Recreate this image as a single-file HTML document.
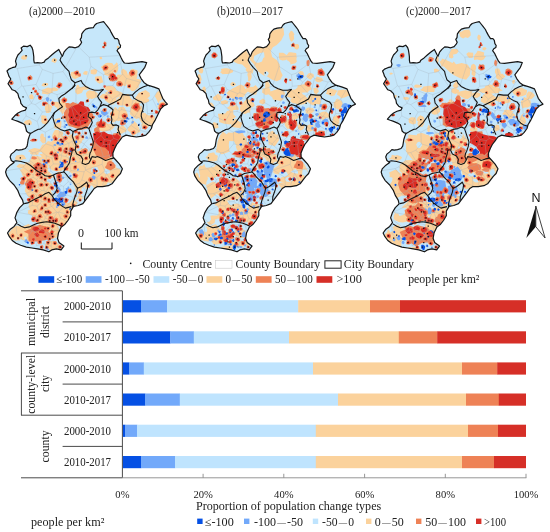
<!DOCTYPE html><html><head><meta charset="utf-8"><title>Population change</title>
<style>html,body{margin:0;padding:0;background:#fff}svg{display:block}text{font-family:"Liberation Serif","DejaVu Serif",serif;fill:#222}</style></head><body>
<svg width="550" height="532" viewBox="0 0 550 532">
<rect width="550" height="532" fill="#fff"/>
<defs><clipPath id="clip"><polygon points="103.6,21.6 105.1,23.5 107.4,26.3 109.8,29.5 111.2,32.4 112.8,35.4 114.9,38.6 117.3,38.5 118.7,40.4 119.3,43.6 120.6,45.5 120.2,47.6 118.2,48.8 117.0,50.7 119.2,53.7 121.0,57.5 122.9,61.2 124.4,63.0 128.9,63.4 136.4,62.3 142.0,61.6 146.7,62.6 144.8,67.3 142.0,71.1 139.2,74.8 141.1,78.6 143.9,82.4 147.7,85.2 154.2,87.1 158.9,88.9 160.8,93.6 162.7,98.3 165.5,102.1 167.4,104.1 163.6,106.0 160.8,108.8 158.9,112.6 157.1,116.3 155.2,120.1 152.4,124.8 151.4,128.5 148.6,132.3 145.8,135.1 142.0,136.1 136.4,137.0 130.8,136.1 126.1,135.1 122.3,137.0 119.5,140.8 116.7,144.5 114.8,148.3 112.9,153.0 113.0,157.0 115.8,160.0 119.5,164.1 122.4,168.8 120.5,173.5 117.7,176.3 114.8,180.1 112.0,183.8 108.3,185.7 102.6,186.7 97.0,186.7 94.2,188.5 91.4,192.3 88.5,196.1 85.7,199.8 82.9,203.6 78.2,205.5 73.5,206.4 70.7,211.1 70.7,215.8 67.9,220.5 65.0,224.2 61.3,227.1 58.5,232.7 57.5,238.3 59.0,242.4 63.9,246.1 61.1,249.9 56.4,248.9 51.7,249.9 48.9,251.8 43.2,249.9 37.6,248.9 32.0,248.0 26.3,247.1 20.7,245.2 16.0,243.3 12.2,240.5 9.4,236.7 7.5,233.0 10.3,229.2 14.1,226.4 16.9,222.6 15.0,217.9 16.9,212.3 19.7,207.6 23.5,203.8 22.6,200.1 19.7,195.4 17.9,190.7 14.1,185.0 9.4,180.3 6.6,175.6 5.6,172.0 6.6,168.9 10.3,165.2 14.1,162.4 11.3,160.5 10.1,156.9 11.3,154.1 14.1,151.9 16.3,149.6 18.6,150.2 22.0,149.6 25.4,148.5 27.1,146.2 27.6,143.4 28.2,139.5 29.3,136.1 30.4,133.3 28.2,132.7 26.5,131.0 25.9,128.2 24.8,124.8 22.0,123.1 18.0,121.4 14.7,120.3 11.8,119.2 14.7,115.8 18.0,113.0 21.4,111.3 25.4,110.1 26.5,107.9 23.1,106.2 20.9,103.4 20.3,100.0 18.8,97.4 17.9,93.6 15.0,90.8 12.2,89.8 10.3,87.0 8.0,83.7 9.4,81.4 10.8,79.0 8.9,76.2 8.0,73.4 7.0,71.0 8.9,69.1 12.2,67.7 15.5,66.8 16.4,64.4 15.5,61.1 16.4,58.3 17.9,55.0 20.2,52.7 22.1,50.3 21.1,48.0 23.5,46.1 27.3,46.6 30.1,45.2 32.0,47.5 32.9,50.3 33.4,53.6 33.8,56.9 33.8,60.2 34.3,63.0 37.6,62.6 41.4,63.0 44.2,62.1 45.2,60.2 48.5,57.9 51.7,55.0 55.0,52.2 58.8,49.4 60.2,52.2 61.6,55.0 62.4,56.3 64.0,52.2 66.3,49.4 69.1,46.9 72.0,47.2 75.2,47.8 78.5,46.6 80.6,44.1 81.6,42.3 80.2,39.4 81.4,37.6 81.8,33.8 83.5,31.4 85.8,29.1 89.1,28.2 93.3,27.7 94.7,25.3 96.6,23.5 99.9,22.5"/></clipPath>
<g id="ov"><g clip-path="url(#clip)">
<path fill="none" stroke="#a3afba" stroke-width="0.5" opacity="0.6" d="M100.0 -261.0L252.7 -77.1 M252.7 -77.1L290.9 -39.6 M34.1 -179.1L-144.9 -20.9 M100.0 -261.0L34.1 -179.1 M252.7 -77.1L122.3 55.4 M34.1 -179.1L53.9 -33.9 M53.9 -33.9L77.6 45.9 M122.3 55.4L89.2 57.2 M77.6 45.9L89.2 57.2 M16.8 233.9L24.7 241.9 M174.9 139.7L144.6 119.5 M174.9 139.7L139.8 130.2 M139.8 130.2L144.3 119.5 M144.6 119.5L144.3 119.5 M140.2 164.1L134.0 157.7 M139.8 130.2L138.6 130.6 M197.3 151.1L174.9 139.7 M134.0 157.7L132.7 154.1 M138.6 130.6L132.7 154.1 M159.8 113.5L147.6 113.5 M159.8 113.5L152.6 99.1 M147.6 113.5L146.6 102.5 M152.6 99.1L146.6 102.5 M197.3 151.1L159.8 113.5 M144.6 119.5L147.6 113.5 M170.7 68.6L152.6 99.1 M290.9 -39.6L170.7 68.6 M140.2 164.1L105.9 171.4 M163.5 268.0L106.5 173.1 M105.9 171.4L106.5 173.1 M-144.9 -20.9L17.3 68.5 M4.0 100.8L21.8 85.8 M21.8 85.8L17.3 68.5 M53.9 -33.9L39.3 65.0 M17.3 68.5L39.3 65.0 M53.1 73.4L63.0 71.6 M77.6 45.9L63.0 71.6 M53.1 73.4L42.4 69.4 M39.3 65.0L42.4 69.4 M74.7 88.5L63.0 71.6 M74.7 88.5L76.1 89.1 M89.2 57.2L90.9 66.3 M76.1 89.1L84.4 86.1 M90.9 66.3L84.4 86.1 M16.8 233.9L15.5 218.5 M24.7 241.9L31.9 231.0 M31.9 231.0L15.5 218.5 M-99.0 185.7L-15.2 201.2 M-15.2 201.2L11.4 213.4 M11.4 213.4L15.5 218.5 M144.0 102.6L134.8 116.5 M144.0 102.6L133.6 97.9 M133.6 97.9L130.2 111.4 M130.2 111.4L134.3 116.5 M134.3 116.5L134.8 116.5 M144.3 119.5L134.8 116.5 M146.6 102.5L144.0 102.6 M170.7 68.6L140.0 82.1 M132.2 96.1L140.0 82.1 M132.2 96.1L133.6 97.9 M83.8 154.9L81.7 148.4 M81.7 148.4L84.1 144.3 M90.5 153.9L83.8 154.9 M90.5 153.9L89.8 149.3 M89.8 149.3L84.1 144.3 M133.2 118.3L131.2 125.5 M133.2 118.3L121.7 118.9 M121.7 118.9L127.7 128.0 M131.2 125.5L127.7 128.0 M134.3 116.5L133.2 118.3 M138.6 130.6L131.2 125.5 M132.7 154.1L125.5 142.5 M125.5 142.5L125.5 130.5 M125.5 130.5L127.7 128.0 M103.1 157.0L102.1 164.3 M103.1 157.0L92.5 155.9 M102.1 164.3L85.6 170.0 M92.5 155.9L85.2 168.1 M85.2 168.1L85.6 170.0 M96.8 177.5L104.9 170.9 M102.1 164.3L104.9 170.9 M96.8 177.5L85.6 170.1 M85.6 170.1L85.6 170.0 M70.9 170.6L69.6 164.5 M66.8 176.7L70.9 170.6 M60.9 171.9L66.8 176.7 M60.9 171.9L60.8 165.4 M69.6 164.5L60.8 165.4 M60.4 155.0L54.8 150.1 M54.8 150.1L51.6 158.0 M60.4 155.0L51.9 158.3 M51.9 158.3L51.6 158.0 M21.8 85.8L23.1 86.3 M42.4 69.4L36.1 84.5 M36.1 84.5L23.1 86.3 M74.7 88.5L57.0 94.7 M53.1 73.4L51.8 92.7 M51.8 92.7L57.0 94.7 M4.0 100.8L25.4 107.6 M10.2 137.1L26.1 115.9 M25.4 107.6L26.1 115.9 M52.9 113.2L49.2 111.5 M49.2 111.5L42.5 112.0 M54.3 127.3L45.3 132.2 M54.3 127.3L52.9 113.2 M37.2 121.4L42.5 112.0 M37.2 121.4L39.4 129.3 M39.4 129.3L45.3 132.2 M26.1 115.9L37.2 121.4 M10.2 137.1L15.3 138.4 M39.4 129.3L15.3 138.4 M27.2 182.1L28.3 179.5 M7.4 194.7L27.2 182.1 M-99.0 185.7L19.4 168.7 M-15.2 201.2L7.4 194.7 M28.3 179.5L19.4 168.7 M15.3 138.4L32.5 152.8 M29.6 160.5L32.5 152.8 M29.6 160.5L28.9 161.7 M28.9 161.7L23.0 166.9 M19.4 168.7L23.0 166.9 M25.4 193.7L31.2 191.3 M25.4 193.7L32.8 199.5 M32.8 199.5L36.5 196.5 M36.5 196.5L36.5 195.1 M31.2 191.3L36.5 195.1 M41.0 200.9L45.8 191.6 M44.0 190.6L45.8 191.6 M36.5 196.5L41.0 200.9 M44.0 190.6L41.7 190.5 M41.7 190.5L36.5 195.1 M50.6 205.0L51.4 194.1 M50.6 205.0L45.9 201.7 M45.9 201.7L49.2 193.5 M51.4 194.1L49.2 193.5 M46.2 191.6L49.2 193.5 M45.8 191.6L46.2 191.6 M41.2 201.7L41.0 200.9 M41.2 201.7L45.9 201.7 M50.8 183.5L55.8 187.5 M52.0 194.0L55.8 187.5 M52.0 194.0L51.4 194.1 M46.2 191.6L50.8 183.5 M132.2 96.1L124.0 95.2 M126.4 78.4L122.5 94.1 M140.0 82.1L126.4 78.4 M122.5 94.1L124.0 95.2 M130.2 111.4L121.6 109.7 M124.0 95.2L121.6 109.7 M76.1 89.1L75.9 102.3 M84.4 86.1L95.3 91.6 M75.9 102.3L86.3 108.1 M95.3 91.6L96.3 96.7 M96.3 96.7L86.3 108.1 M89.7 138.2L95.3 140.4 M89.7 138.2L88.9 138.6 M88.9 138.6L84.1 143.8 M84.1 144.3L84.1 143.8 M89.8 149.3L96.5 144.5 M95.3 140.4L96.5 144.5 M75.1 154.0L79.9 158.9 M75.1 154.0L68.9 158.4 M68.9 158.4L69.8 164.1 M69.8 164.1L80.2 162.0 M79.9 158.9L80.2 162.0 M69.6 164.5L69.8 164.1 M84.2 171.8L85.6 170.1 M85.2 168.1L80.2 162.0 M70.9 170.6L84.2 171.8 M83.8 154.9L79.9 158.9 M90.5 153.9L92.5 155.9 M84.2 171.8L81.8 180.0 M96.8 177.5L97.3 185.8 M81.8 180.0L97.3 185.8 M106.5 173.1L100.2 192.2 M104.9 170.9L105.9 171.4 M97.3 185.8L100.2 192.2 M100.2 192.2L104.5 204.7 M163.5 268.0L144.6 255.2 M144.6 255.2L104.5 204.7 M81.8 180.0L79.2 183.3 M79.2 183.3L92.1 197.6 M104.5 204.7L92.1 197.6 M66.8 176.7L66.9 177.1 M66.9 177.1L68.3 181.8 M79.2 183.3L76.6 184.2 M68.3 181.8L76.6 184.2 M54.6 178.8L61.5 185.8 M61.5 185.8L63.6 186.2 M66.9 177.1L54.6 178.8 M68.3 181.8L63.6 186.2 M92.1 197.6L74.7 195.8 M76.6 184.2L74.7 195.8 M56.8 196.4L63.8 193.3 M52.0 194.0L56.8 196.4 M61.5 185.8L55.8 187.5 M63.6 186.2L63.8 193.3 M38.9 176.7L36.6 179.5 M38.9 176.7L38.5 171.6 M36.6 179.5L33.1 177.3 M33.1 177.3L33.1 175.0 M33.1 175.0L35.3 171.4 M35.3 171.4L37.8 170.8 M38.5 171.6L37.8 170.8 M28.3 179.5L33.1 177.3 M23.0 166.9L33.1 175.0 M28.9 161.7L35.3 171.4 M60.9 171.9L54.4 174.2 M54.6 178.8L54.3 178.6 M54.4 174.2L54.3 178.6 M50.8 183.5L50.6 181.7 M54.3 178.6L50.6 181.7 M38.5 171.6L42.8 173.4 M38.9 176.7L43.4 174.5 M42.8 173.4L43.4 174.5 M51.6 158.0L46.3 155.7 M54.8 150.1L52.9 146.1 M52.9 146.1L45.7 143.8 M45.7 143.8L40.2 150.3 M46.3 155.7L40.2 150.3 M45.7 143.8L45.3 132.2 M32.5 152.8L35.2 152.5 M35.2 152.5L40.2 150.3 M96.6 228.4L73.2 198.2 M80.7 218.0L96.6 228.4 M80.7 218.0L67.1 206.0 M67.1 206.0L73.2 198.2 M63.8 193.3L64.3 193.8 M74.7 195.8L73.2 197.5 M64.3 193.8L73.2 197.5 M111.6 241.2L96.6 228.4 M144.6 255.2L111.6 241.2 M73.2 198.2L73.2 197.5 M49.1 224.7L43.4 223.5 M49.1 224.7L51.6 223.3 M51.5 219.8L51.6 223.3 M51.5 219.8L45.0 218.1 M43.4 223.5L43.6 221.2 M45.0 218.1L43.6 221.2 M54.7 216.5L54.4 223.7 M54.4 223.7L51.6 223.3 M54.7 216.5L51.5 219.8 M35.9 216.6L43.6 221.2 M33.5 231.0L35.9 216.6 M33.5 231.0L34.8 231.4 M43.4 223.5L38.7 229.6 M34.8 231.4L38.7 229.6 M35.2 104.6L31.4 103.4 M35.2 104.6L47.7 97.4 M38.9 89.3L31.4 103.1 M38.9 89.3L49.5 93.6 M31.4 103.1L31.4 103.4 M49.5 93.6L47.7 97.4 M25.4 107.6L31.4 103.4 M42.5 112.0L35.2 104.6 M49.2 111.5L47.7 97.4 M36.1 84.5L38.9 89.3 M23.1 86.3L31.4 103.1 M51.8 92.7L49.5 93.6 M57.0 94.7L60.1 108.8 M60.1 108.8L52.9 113.2 M120.7 63.6L107.7 73.3 M120.7 63.6L122.7 74.1 M107.7 73.3L114.5 82.3 M122.7 74.1L114.5 82.3 M122.3 55.4L120.7 63.6 M90.9 66.3L103.5 74.7 M103.5 74.7L107.7 73.3 M126.4 78.4L122.7 74.1 M31.9 231.0L33.5 231.0 M11.4 213.4L17.4 212.3 M35.9 216.6L35.4 215.6 M35.4 215.6L17.4 212.3 M32.8 199.5L32.1 205.4 M7.4 194.7L25.4 193.7 M17.4 212.3L32.1 205.4 M52.1 206.7L56.7 212.1 M52.1 206.7L57.1 199.4 M57.1 199.4L63.3 204.5 M64.1 206.3L63.3 204.5 M64.1 206.3L58.7 212.1 M58.7 212.1L58.2 212.4 M58.2 212.4L57.1 212.3 M57.1 212.3L56.7 212.1 M46.9 215.8L47.1 208.3 M46.9 215.8L56.7 212.1 M51.4 206.4L47.1 208.3 M51.4 206.4L52.1 206.7 M51.4 206.4L50.6 205.0 M56.8 196.4L57.1 199.4 M64.3 193.8L63.3 204.5 M67.1 206.0L64.1 206.3 M80.7 218.0L58.7 212.1 M93.0 237.6L60.7 218.2 M93.0 237.6L111.6 241.2 M60.7 218.2L58.2 212.4 M57.2 225.3L54.4 223.7 M57.2 225.3L60.7 218.2 M54.7 216.5L57.1 212.3 M45.1 217.1L45.0 218.1 M45.1 217.1L46.9 215.8 M37.2 182.2L31.4 185.6 M37.2 182.2L38.4 187.5 M38.4 187.5L32.0 189.7 M31.4 185.6L32.0 189.7 M27.2 182.1L31.4 185.6 M37.5 181.1L36.6 179.5 M37.5 181.1L37.2 182.2 M31.2 191.3L32.0 189.7 M41.7 190.5L38.4 187.5 M120.3 93.9L112.7 99.1 M120.3 93.9L112.9 85.5 M112.7 99.1L101.8 88.6 M112.9 85.5L104.2 86.2 M101.8 88.6L104.2 86.2 M114.5 82.3L112.9 85.5 M122.5 94.1L120.3 93.9 M103.5 74.7L104.2 86.2 M95.3 91.6L101.8 88.6 M121.7 118.9L118.5 117.8 M121.6 109.7L119.4 110.9 M119.4 110.9L118.5 117.8 M65.1 125.4L66.8 125.1 M65.1 125.4L61.0 109.0 M66.8 125.1L68.1 122.0 M68.1 122.0L68.2 108.9 M61.0 109.0L68.2 108.9 M60.1 108.8L61.0 109.0 M57.9 128.4L54.3 127.3 M57.9 128.4L65.1 125.4 M74.6 118.1L71.6 107.4 M71.6 107.4L68.2 108.9 M74.6 118.1L68.1 122.0 M75.9 102.3L72.6 106.6 M72.6 106.6L71.6 107.4 M84.1 143.8L76.3 139.7 M88.9 138.6L82.5 133.5 M82.5 133.5L76.3 139.7 M52.9 146.1L57.7 144.4 M57.9 128.4L59.5 131.5 M59.5 131.5L57.7 144.4 M101.7 132.3L101.1 135.4 M101.7 132.3L110.0 129.4 M110.0 129.4L113.8 138.4 M113.8 138.4L110.8 140.6 M101.1 135.4L104.3 139.6 M110.8 140.6L104.3 139.6 M49.3 181.2L45.7 175.5 M49.3 181.2L44.0 182.7 M44.0 182.7L41.8 181.1 M41.8 181.1L44.9 175.5 M44.9 175.5L45.7 175.5 M50.6 181.7L49.3 181.2 M50.9 171.0L45.7 175.5 M54.4 174.2L50.9 171.0 M44.0 190.6L44.0 182.7 M37.5 181.1L41.8 181.1 M43.4 174.5L44.9 175.5 M46.3 155.7L46.3 163.6 M35.2 152.5L41.8 163.5 M46.3 163.6L41.8 163.5 M53.4 163.9L51.9 158.3 M53.4 163.9L50.6 166.7 M46.3 163.6L50.6 166.7 M60.8 165.4L59.5 164.0 M59.5 164.0L53.4 163.9 M50.9 171.0L50.3 168.0 M50.6 166.7L50.3 168.0 M34.8 231.4L35.0 231.8 M36.4 245.7L35.0 231.8 M36.4 245.7L43.9 243.6 M35.0 231.8L44.1 240.9 M43.9 243.6L44.1 240.9 M41.6 212.4L39.2 211.8 M41.6 212.4L45.5 208.5 M39.2 211.8L36.9 206.1 M45.5 208.5L40.4 203.4 M40.4 203.4L36.9 206.1 M45.1 217.1L41.6 212.4 M35.4 215.6L39.2 211.8 M47.1 208.3L45.5 208.5 M32.1 205.4L36.9 206.1 M41.2 201.7L40.4 203.4 M112.7 99.1L110.2 104.1 M119.4 110.9L111.7 107.3 M110.2 104.1L111.7 107.3 M96.3 96.7L100.6 103.1 M110.2 104.1L100.6 103.1 M72.6 106.6L80.3 116.3 M86.3 108.1L87.9 111.2 M87.9 111.2L80.3 116.3 M74.6 118.1L78.3 120.1 M66.8 125.1L69.7 126.5 M69.7 126.5L78.3 120.1 M80.3 116.3L79.4 120.2 M78.3 120.1L79.4 120.2 M59.5 131.5L60.1 132.1 M58.1 144.5L63.3 138.9 M57.7 144.4L58.1 144.5 M60.1 132.1L63.3 138.9 M69.7 126.5L73.5 130.0 M73.5 130.0L73.5 138.8 M60.1 132.1L73.5 138.8 M62.6 146.1L68.5 143.1 M58.1 144.5L62.6 146.1 M63.3 138.9L68.5 143.1 M68.9 150.5L63.0 150.2 M68.9 150.5L66.0 156.5 M63.0 150.2L61.3 155.3 M66.0 156.5L61.7 155.8 M61.3 155.3L61.7 155.8 M60.4 155.0L61.3 155.3 M62.6 146.1L63.0 150.2 M59.5 164.0L61.7 155.8 M68.9 158.4L66.0 156.5 M68.9 150.5L68.9 143.1 M68.9 150.5L75.1 153.2 M75.9 151.3L75.1 153.2 M75.9 151.3L72.2 141.3 M72.2 141.3L68.9 143.1 M68.5 143.1L68.9 143.1 M68.9 150.5L68.9 150.5 M75.1 154.0L75.1 153.2 M81.7 148.4L75.9 151.3 M73.7 139.4L72.2 141.3 M76.3 139.7L73.7 139.4 M73.7 139.4L73.5 138.8 M110.7 155.0L109.5 144.4 M110.7 155.0L103.4 156.7 M109.5 144.4L103.0 144.6 M103.4 156.7L100.5 147.5 M100.5 147.5L103.0 144.6 M134.0 157.7L110.7 155.0 M125.5 142.5L113.8 138.4 M110.8 140.6L109.5 144.4 M103.1 157.0L103.4 156.7 M104.3 139.6L103.0 144.6 M96.5 144.5L100.5 147.5 M95.3 140.4L101.1 135.4 M41.4 165.2L44.0 168.9 M41.4 165.2L38.8 167.3 M38.8 167.3L38.5 169.5 M38.5 169.5L43.5 169.5 M43.5 169.5L44.0 168.9 M50.3 168.0L44.0 168.9 M41.8 163.5L41.4 165.2 M29.6 160.5L38.8 167.3 M37.8 170.8L38.5 169.5 M42.8 173.4L43.5 169.5 M44.0 243.8L51.2 246.1 M51.2 246.1L53.4 251.1 M43.9 243.6L44.0 243.8 M64.9 235.8L63.6 236.7 M63.6 236.7L53.4 251.1 M93.0 237.6L64.9 235.8 M87.9 111.2L88.1 111.4 M88.1 111.4L91.7 111.6 M100.6 103.1L99.0 107.9 M91.7 111.6L99.0 107.9 M82.5 128.1L81.3 127.4 M82.5 128.1L91.4 127.4 M81.3 127.4L80.2 121.1 M80.2 121.1L88.1 118.9 M88.1 118.9L93.1 126.1 M91.4 127.4L93.1 126.1 M82.5 133.5L82.5 128.1 M73.5 130.0L81.3 127.4 M89.7 138.2L91.4 127.4 M79.4 120.2L80.2 121.1 M88.1 111.4L88.1 118.9 M91.7 111.6L98.7 120.1 M94.3 125.9L98.7 120.1 M94.3 125.9L93.1 126.1 M101.7 132.3L94.3 125.9 M49.1 224.7L51.6 229.9 M38.7 229.6L47.5 232.8 M47.5 232.8L51.6 229.9 M57.2 225.3L58.5 230.6 M51.6 229.9L58.5 230.6 M64.9 235.8L60.9 232.9 M58.5 230.6L60.9 232.9 M46.4 239.7L51.6 241.9 M46.4 239.7L48.6 235.3 M48.6 235.3L49.7 235.8 M49.7 235.8L53.0 240.3 M51.6 241.9L53.0 240.3 M44.1 240.9L46.4 239.7 M51.2 246.1L51.6 241.9 M47.5 232.8L48.6 235.3 M60.9 232.9L49.7 235.8 M63.6 236.7L53.0 240.3 M101.9 118.5L103.2 116.3 M101.9 118.5L110.6 128.2 M103.2 116.3L107.2 114.9 M107.2 114.9L115.5 121.3 M110.6 128.2L114.9 125.0 M114.9 125.0L115.5 121.3 M99.0 107.9L103.2 116.3 M98.7 120.1L101.9 118.5 M110.0 129.4L110.6 128.2 M111.7 107.3L107.2 114.9 M118.5 117.8L115.5 121.3 M125.5 130.5L114.9 125.0"/>
<g fill="none" stroke="#151515" stroke-width="1.1" stroke-linejoin="round">
<polyline points="61.5,56.4 60.0,60.1 62.3,63.9 65.3,67.6 69.0,71.4 69.8,75.2 71.3,79.7 75.0,82.7 74.3,85.7 72.0,88.7"/>
<polyline points="75.0,82.7 81.1,80.4 82.6,83.4 85.6,86.4 90.1,88.7 94.6,90.2 99.8,90.2 103.6,89.4"/>
<polyline points="107.4,105.7 111.9,103.5 116.4,101.2 120.4,98.9 122.6,94.4 127.8,95.1 132.3,95.1 135.3,92.1 139.1,89.1 143.6,86.8 148.1,85.3 149.9,86.1"/>
<polyline points="132.3,95.1 133.8,98.1 137.6,100.4 141.4,101.9 143.6,104.9 142.9,109.4 141.4,113.2 141.2,116.0 142.4,120.4 145.2,123.2 148.0,124.9 151.4,126.0 154.6,126.0"/>
<polyline points="107.4,105.7 110.8,108.0 113.0,109.7 112.5,113.0 111.3,116.4 111.9,119.8 111.3,123.2 113.0,125.4 116.4,124.9 118.7,126.0 118.1,129.4 119.2,132.2 120.4,134.8"/>
<polyline points="113.8,158.1 110.0,158.9 105.5,160.4 101.0,158.1 97.3,156.6 95.0,157.4"/>
<polyline points="75.3,85.0 72.3,88.0 68.6,91.0 64.8,94.0 61.1,96.3 58.8,98.5 59.5,103.0 62.6,106.8 58.0,109.8 54.3,112.8 51.3,117.3 47.5,122.6 43.8,126.4 40.0,129.4"/>
<polyline points="54.3,112.8 52.8,117.3 54.3,122.6 55.8,126.4 60.3,129.4 64.8,130.9 70.1,129.4 73.1,131.6 77.6,129.4 82.1,128.6 85.9,127.1 88.9,128.6"/>
<polyline points="103.4,89.3 100.2,92.6 97.6,96.4 98.9,98.8 101.7,102.3 100.2,106.1 97.9,109.8 94.9,112.8 91.9,112.1 88.9,112.8 88.1,116.6 91.1,118.8 92.3,122.6 90.4,126.4 88.9,128.6"/>
<polyline points="100.2,106.5 103.5,104.6 107.4,105.7"/>
<polyline points="88.9,128.6 90.4,133.1 91.9,137.6 93.4,142.1 92.6,146.7 91.1,151.2 90.0,153.3 89.3,156.6 90.7,159.9"/>
<polyline points="73.1,131.6 72.3,136.1 73.8,140.6 76.1,145.2 75.3,149.7 72.2,150.0"/>
<polyline points="30.1,133.8 33.8,131.6 38.3,129.3 40.0,129.3"/>
<polyline points="11.3,162.3 15.8,160.8 21.1,161.5 26.3,163.0 30.1,165.3 33.8,168.3 37.6,171.3 42.1,173.5 45.1,175.8 49.6,176.5 53.4,175.0 56.4,173.5 60.2,172.8 63.9,172.0 63.7,171.7"/>
<polyline points="24.1,203.6 27.8,202.9 32.3,200.6 36.8,198.3 41.4,196.1 45.1,193.8 48.9,192.3 51.9,195.3 54.1,199.1 57.9,202.9 61.7,205.9 65.4,208.1 71.4,206.6"/>
<polyline points="53.4,175.0 54.9,179.5 56.4,184.1 57.1,188.6 55.6,192.3 52.6,195.3"/>
<polyline points="17.3,223.9 21.1,226.2 24.8,227.7 29.3,226.9 33.8,224.7 37.6,223.2 42.1,222.4 46.6,221.7 51.1,222.4 54.9,223.2 58.6,224.7 61.7,226.2"/>
<polyline points="72.2,150.0 71.6,153.9 70.3,157.9 69.6,162.5 67.6,165.8 65.0,169.1 63.7,171.7 66.3,174.3 68.3,177.0 70.9,179.6 73.6,182.2 75.5,185.5 77.5,188.2 80.8,186.8 84.1,184.2 86.7,182.2 88.0,184.9 87.4,188.8 86.1,192.8 84.7,196.7 84.5,200.7"/>
<polyline points="77.5,188.2 76.8,192.1 75.3,196.1 73.9,200.0 72.9,203.9 72.9,207.9"/>
<polyline points="74.9,150.0 76.8,153.9 80.8,155.9 82.8,159.2 82.1,163.2 85.4,164.5 88.7,163.2 90.7,159.9 92.0,156.6 95.3,157.2"/>
</g>
<path fill="#111" d="M25.4 55.1h1.3v1.3h-1.3z M54.0 59.4h1.3v1.3h-1.3z M29.0 77.2h1.3v1.3h-1.3z M10.5 82.1h1.3v1.3h-1.3z M44.7 83.8h1.3v1.3h-1.3z M58.6 84.7h1.3v1.3h-1.3z M22.4 96.2h1.3v1.3h-1.3z M30.9 92.0h1.3v1.3h-1.3z M39.5 96.6h1.3v1.3h-1.3z M43.4 103.4h1.3v1.3h-1.3z M63.8 99.9h1.3v1.3h-1.3z M52.0 102.5h1.3v1.3h-1.3z M104.0 44.4h1.3v1.3h-1.3z M105.2 67.0h1.3v1.3h-1.3z M112.0 76.0h1.3v1.3h-1.3z M109.0 78.3h1.3v1.3h-1.3z M119.5 83.5h1.3v1.3h-1.3z M132.3 72.2h1.3v1.3h-1.3z M76.6 72.2h1.3v1.3h-1.3z M97.2 79.0h1.3v1.3h-1.3z M128.5 85.8h1.3v1.3h-1.3z M135.4 106.5h1.3v1.3h-1.3z M161.8 105.0h1.3v1.3h-1.3z M124.2 115.5h1.3v1.3h-1.3z M121.9 122.3h1.3v1.3h-1.3z M105.4 96.7h1.3v1.3h-1.3z M117.4 102.7h1.3v1.3h-1.3z M126.4 104.2h1.3v1.3h-1.3z M102.4 124.5h1.3v1.3h-1.3z M151.2 115.5h1.3v1.3h-1.3z M151.2 110.3h1.3v1.3h-1.3z M112.1 114.0h1.3v1.3h-1.3z M143.7 126.8h1.3v1.3h-1.3z M141.5 93.0h1.3v1.3h-1.3z M142.2 111.0h1.3v1.3h-1.3z M100.4 140.9h1.3v1.3h-1.3z M105.6 145.4h1.3v1.3h-1.3z M112.4 144.7h1.3v1.3h-1.3z M106.4 136.4h1.3v1.3h-1.3z M132.7 131.9h1.3v1.3h-1.3z M102.6 178.5h1.3v1.3h-1.3z M104.9 179.3h1.3v1.3h-1.3z M112.4 174.8h1.3v1.3h-1.3z M95.9 170.3h1.3v1.3h-1.3z M110.1 164.2h1.3v1.3h-1.3z M141.7 134.2h1.3v1.3h-1.3z M124.4 120.6h1.3v1.3h-1.3z M138.0 124.4h1.3v1.3h-1.3z M116.9 131.9h1.3v1.3h-1.3z M86.7 100.1h1.3v1.3h-1.3z M44.6 118.9h1.3v1.3h-1.3z M67.2 132.5h1.3v1.3h-1.3z M61.9 140.7h1.3v1.3h-1.3z M64.9 137.0h1.3v1.3h-1.3z M55.1 138.5h1.3v1.3h-1.3z M78.4 132.5h1.3v1.3h-1.3z M85.2 132.5h1.3v1.3h-1.3z M82.2 136.2h1.3v1.3h-1.3z M76.9 146.0h1.3v1.3h-1.3z M70.9 148.3h1.3v1.3h-1.3z M65.7 148.3h1.3v1.3h-1.3z M58.9 149.0h1.3v1.3h-1.3z M54.4 154.3h1.3v1.3h-1.3z M50.6 152.8h1.3v1.3h-1.3z M55.9 158.0h1.3v1.3h-1.3z M43.9 160.3h1.3v1.3h-1.3z M84.5 150.5h1.3v1.3h-1.3z M80.0 152.0h1.3v1.3h-1.3z M94.2 149.0h1.3v1.3h-1.3z M90.5 143.7h1.3v1.3h-1.3z M104.0 109.2h1.3v1.3h-1.3z M107.8 119.7h1.3v1.3h-1.3z M110.0 91.9h1.3v1.3h-1.3z M96.5 112.9h1.3v1.3h-1.3z M92.0 116.7h1.3v1.3h-1.3z M70.9 116.7h1.3v1.3h-1.3z M76.2 115.2h1.3v1.3h-1.3z M80.0 112.2h1.3v1.3h-1.3z M83.0 116.7h1.3v1.3h-1.3z M75.4 123.4h1.3v1.3h-1.3z M84.5 121.9h1.3v1.3h-1.3z M73.2 120.4h1.3v1.3h-1.3z M105.5 142.2h1.3v1.3h-1.3z M94.2 134.0h1.3v1.3h-1.3z M92.7 105.4h1.3v1.3h-1.3z M33.9 112.9h1.3v1.3h-1.3z M28.7 123.4h1.3v1.3h-1.3z M19.7 157.2h1.3v1.3h-1.3z M34.7 139.2h1.3v1.3h-1.3z M60.3 139.2h1.3v1.3h-1.3z M65.5 151.2h1.3v1.3h-1.3z M73.0 158.7h1.3v1.3h-1.3z M64.0 160.3h1.3v1.3h-1.3z M47.5 160.3h1.3v1.3h-1.3z M43.7 165.5h1.3v1.3h-1.3z M37.7 164.0h1.3v1.3h-1.3z M35.4 167.0h1.3v1.3h-1.3z M40.7 170.0h1.3v1.3h-1.3z M44.5 170.8h1.3v1.3h-1.3z M30.9 170.0h1.3v1.3h-1.3z M27.9 173.8h1.3v1.3h-1.3z M36.9 173.8h1.3v1.3h-1.3z M40.7 176.8h1.3v1.3h-1.3z M55.7 168.5h1.3v1.3h-1.3z M74.5 166.3h1.3v1.3h-1.3z M49.0 176.0h1.3v1.3h-1.3z M64.0 116.6h1.3v1.3h-1.3z M61.0 117.4h1.3v1.3h-1.3z M16.6 114.4h1.3v1.3h-1.3z M40.7 167.6h1.3v1.3h-1.3z M39.2 173.6h1.3v1.3h-1.3z M22.7 178.1h1.3v1.3h-1.3z M31.7 181.9h1.3v1.3h-1.3z M27.9 186.4h1.3v1.3h-1.3z M33.9 185.7h1.3v1.3h-1.3z M40.7 184.2h1.3v1.3h-1.3z M44.5 178.9h1.3v1.3h-1.3z M46.0 184.2h1.3v1.3h-1.3z M51.2 187.2h1.3v1.3h-1.3z M35.4 190.2h1.3v1.3h-1.3z M31.7 195.4h1.3v1.3h-1.3z M28.7 199.2h1.3v1.3h-1.3z M35.4 200.0h1.3v1.3h-1.3z M44.5 197.7h1.3v1.3h-1.3z M48.2 199.2h1.3v1.3h-1.3z M41.5 207.5h1.3v1.3h-1.3z M44.5 204.5h1.3v1.3h-1.3z M33.9 210.5h1.3v1.3h-1.3z M47.5 211.2h1.3v1.3h-1.3z M39.2 215.7h1.3v1.3h-1.3z M32.4 218.7h1.3v1.3h-1.3z M36.9 219.5h1.3v1.3h-1.3z M49.7 217.2h1.3v1.3h-1.3z M55.0 220.3h1.3v1.3h-1.3z M65.5 215.7h1.3v1.3h-1.3z M61.0 223.3h1.3v1.3h-1.3z M49.0 220.3h1.3v1.3h-1.3z M52.0 225.5h1.3v1.3h-1.3z M51.2 233.0h1.3v1.3h-1.3z M20.4 234.5h1.3v1.3h-1.3z M17.4 237.5h1.3v1.3h-1.3z M58.7 178.9h1.3v1.3h-1.3z M69.3 190.2h1.3v1.3h-1.3z M64.8 168.4h1.3v1.3h-1.3z M73.8 174.4h1.3v1.3h-1.3z M65.5 199.2h1.3v1.3h-1.3z M85.4 157.4h1.3v1.3h-1.3z M68.9 152.9h1.3v1.3h-1.3z M93.0 161.9h1.3v1.3h-1.3z M90.0 179.2h1.3v1.3h-1.3z M87.7 185.2h1.3v1.3h-1.3z M80.2 192.0h1.3v1.3h-1.3z M58.4 176.2h1.3v1.3h-1.3z M54.6 183.0h1.3v1.3h-1.3z M56.9 190.5h1.3v1.3h-1.3z M60.6 198.7h1.3v1.3h-1.3z M52.4 199.5h1.3v1.3h-1.3z M72.7 204.8h1.3v1.3h-1.3z M66.6 211.5h1.3v1.3h-1.3z M79.4 199.5h1.3v1.3h-1.3z M12.1 235.2h1.3v1.3h-1.3z M40.0 195.4h1.3v1.3h-1.3z M45.2 211.2h1.3v1.3h-1.3z M52.7 220.2h1.3v1.3h-1.3z M47.5 227.7h1.3v1.3h-1.3z M44.5 236.0h1.3v1.3h-1.3z M49.0 238.2h1.3v1.3h-1.3z M39.2 241.2h1.3v1.3h-1.3z M31.7 242.0h1.3v1.3h-1.3z M47.5 242.0h1.3v1.3h-1.3z M54.2 242.7h1.3v1.3h-1.3z M52.0 236.0h1.3v1.3h-1.3z M40.7 246.5h1.3v1.3h-1.3z M46.0 246.5h1.3v1.3h-1.3z M59.5 246.5h1.3v1.3h-1.3z M57.2 202.9h1.3v1.3h-1.3z"/>
</g>
<polygon points="103.6,21.6 105.1,23.5 107.4,26.3 109.8,29.5 111.2,32.4 112.8,35.4 114.9,38.6 117.3,38.5 118.7,40.4 119.3,43.6 120.6,45.5 120.2,47.6 118.2,48.8 117.0,50.7 119.2,53.7 121.0,57.5 122.9,61.2 124.4,63.0 128.9,63.4 136.4,62.3 142.0,61.6 146.7,62.6 144.8,67.3 142.0,71.1 139.2,74.8 141.1,78.6 143.9,82.4 147.7,85.2 154.2,87.1 158.9,88.9 160.8,93.6 162.7,98.3 165.5,102.1 167.4,104.1 163.6,106.0 160.8,108.8 158.9,112.6 157.1,116.3 155.2,120.1 152.4,124.8 151.4,128.5 148.6,132.3 145.8,135.1 142.0,136.1 136.4,137.0 130.8,136.1 126.1,135.1 122.3,137.0 119.5,140.8 116.7,144.5 114.8,148.3 112.9,153.0 113.0,157.0 115.8,160.0 119.5,164.1 122.4,168.8 120.5,173.5 117.7,176.3 114.8,180.1 112.0,183.8 108.3,185.7 102.6,186.7 97.0,186.7 94.2,188.5 91.4,192.3 88.5,196.1 85.7,199.8 82.9,203.6 78.2,205.5 73.5,206.4 70.7,211.1 70.7,215.8 67.9,220.5 65.0,224.2 61.3,227.1 58.5,232.7 57.5,238.3 59.0,242.4 63.9,246.1 61.1,249.9 56.4,248.9 51.7,249.9 48.9,251.8 43.2,249.9 37.6,248.9 32.0,248.0 26.3,247.1 20.7,245.2 16.0,243.3 12.2,240.5 9.4,236.7 7.5,233.0 10.3,229.2 14.1,226.4 16.9,222.6 15.0,217.9 16.9,212.3 19.7,207.6 23.5,203.8 22.6,200.1 19.7,195.4 17.9,190.7 14.1,185.0 9.4,180.3 6.6,175.6 5.6,172.0 6.6,168.9 10.3,165.2 14.1,162.4 11.3,160.5 10.1,156.9 11.3,154.1 14.1,151.9 16.3,149.6 18.6,150.2 22.0,149.6 25.4,148.5 27.1,146.2 27.6,143.4 28.2,139.5 29.3,136.1 30.4,133.3 28.2,132.7 26.5,131.0 25.9,128.2 24.8,124.8 22.0,123.1 18.0,121.4 14.7,120.3 11.8,119.2 14.7,115.8 18.0,113.0 21.4,111.3 25.4,110.1 26.5,107.9 23.1,106.2 20.9,103.4 20.3,100.0 18.8,97.4 17.9,93.6 15.0,90.8 12.2,89.8 10.3,87.0 8.0,83.7 9.4,81.4 10.8,79.0 8.9,76.2 8.0,73.4 7.0,71.0 8.9,69.1 12.2,67.7 15.5,66.8 16.4,64.4 15.5,61.1 16.4,58.3 17.9,55.0 20.2,52.7 22.1,50.3 21.1,48.0 23.5,46.1 27.3,46.6 30.1,45.2 32.0,47.5 32.9,50.3 33.4,53.6 33.8,56.9 33.8,60.2 34.3,63.0 37.6,62.6 41.4,63.0 44.2,62.1 45.2,60.2 48.5,57.9 51.7,55.0 55.0,52.2 58.8,49.4 60.2,52.2 61.6,55.0 62.4,56.3 64.0,52.2 66.3,49.4 69.1,46.9 72.0,47.2 75.2,47.8 78.5,46.6 80.6,44.1 81.6,42.3 80.2,39.4 81.4,37.6 81.8,33.8 83.5,31.4 85.8,29.1 89.1,28.2 93.3,27.7 94.7,25.3 96.6,23.5 99.9,22.5" fill="none" stroke="#151515" stroke-width="1.2" stroke-linejoin="round"/>
</g></defs>
<g transform="translate(0.0,0)">
<polygon points="103.6,21.6 105.1,23.5 107.4,26.3 109.8,29.5 111.2,32.4 112.8,35.4 114.9,38.6 117.3,38.5 118.7,40.4 119.3,43.6 120.6,45.5 120.2,47.6 118.2,48.8 117.0,50.7 119.2,53.7 121.0,57.5 122.9,61.2 124.4,63.0 128.9,63.4 136.4,62.3 142.0,61.6 146.7,62.6 144.8,67.3 142.0,71.1 139.2,74.8 141.1,78.6 143.9,82.4 147.7,85.2 154.2,87.1 158.9,88.9 160.8,93.6 162.7,98.3 165.5,102.1 167.4,104.1 163.6,106.0 160.8,108.8 158.9,112.6 157.1,116.3 155.2,120.1 152.4,124.8 151.4,128.5 148.6,132.3 145.8,135.1 142.0,136.1 136.4,137.0 130.8,136.1 126.1,135.1 122.3,137.0 119.5,140.8 116.7,144.5 114.8,148.3 112.9,153.0 113.0,157.0 115.8,160.0 119.5,164.1 122.4,168.8 120.5,173.5 117.7,176.3 114.8,180.1 112.0,183.8 108.3,185.7 102.6,186.7 97.0,186.7 94.2,188.5 91.4,192.3 88.5,196.1 85.7,199.8 82.9,203.6 78.2,205.5 73.5,206.4 70.7,211.1 70.7,215.8 67.9,220.5 65.0,224.2 61.3,227.1 58.5,232.7 57.5,238.3 59.0,242.4 63.9,246.1 61.1,249.9 56.4,248.9 51.7,249.9 48.9,251.8 43.2,249.9 37.6,248.9 32.0,248.0 26.3,247.1 20.7,245.2 16.0,243.3 12.2,240.5 9.4,236.7 7.5,233.0 10.3,229.2 14.1,226.4 16.9,222.6 15.0,217.9 16.9,212.3 19.7,207.6 23.5,203.8 22.6,200.1 19.7,195.4 17.9,190.7 14.1,185.0 9.4,180.3 6.6,175.6 5.6,172.0 6.6,168.9 10.3,165.2 14.1,162.4 11.3,160.5 10.1,156.9 11.3,154.1 14.1,151.9 16.3,149.6 18.6,150.2 22.0,149.6 25.4,148.5 27.1,146.2 27.6,143.4 28.2,139.5 29.3,136.1 30.4,133.3 28.2,132.7 26.5,131.0 25.9,128.2 24.8,124.8 22.0,123.1 18.0,121.4 14.7,120.3 11.8,119.2 14.7,115.8 18.0,113.0 21.4,111.3 25.4,110.1 26.5,107.9 23.1,106.2 20.9,103.4 20.3,100.0 18.8,97.4 17.9,93.6 15.0,90.8 12.2,89.8 10.3,87.0 8.0,83.7 9.4,81.4 10.8,79.0 8.9,76.2 8.0,73.4 7.0,71.0 8.9,69.1 12.2,67.7 15.5,66.8 16.4,64.4 15.5,61.1 16.4,58.3 17.9,55.0 20.2,52.7 22.1,50.3 21.1,48.0 23.5,46.1 27.3,46.6 30.1,45.2 32.0,47.5 32.9,50.3 33.4,53.6 33.8,56.9 33.8,60.2 34.3,63.0 37.6,62.6 41.4,63.0 44.2,62.1 45.2,60.2 48.5,57.9 51.7,55.0 55.0,52.2 58.8,49.4 60.2,52.2 61.6,55.0 62.4,56.3 64.0,52.2 66.3,49.4 69.1,46.9 72.0,47.2 75.2,47.8 78.5,46.6 80.6,44.1 81.6,42.3 80.2,39.4 81.4,37.6 81.8,33.8 83.5,31.4 85.8,29.1 89.1,28.2 93.3,27.7 94.7,25.3 96.6,23.5 99.9,22.5" fill="#c6e7fa"/>
<g clip-path="url(#clip)">
<path fill="#fbd29c" d="M23.2 59.7L21.0 58.4L21.6 56.3L23.4 55.3L25.6 55.3L27.5 55.9L26.8 58.3L26.2 59.5zM57.2 59.6L56.3 61.8L55.0 62.9L54.0 62.6L51.6 61.7L51.8 59.5L53.9 57.9L55.6 58.5zM48.1 85.2L46.0 86.3L43.5 86.4L41.5 85.8L42.3 84.0L43.6 82.9L46.6 82.9L48.2 83.6zM57.3 90.7L54.8 91.2L51.9 91.2L50.0 89.2L51.9 88.0L54.2 87.3L56.6 88.0L58.6 89.6zM29.4 97.4L29.3 95.2L31.8 94.0L32.9 94.9L33.7 97.1L33.5 98.6L32.3 99.3L30.0 98.9zM56.8 107.8L55.1 106.8L53.2 104.4L54.6 101.8L56.2 101.8L58.7 101.9L58.8 105.0L58.6 105.9zM118.1 48.8L117.1 48.1L116.6 46.8L117.8 45.5L119.2 46.6L119.3 48.1zM102.3 58.7L100.9 59.5L99.9 58.8L99.4 57.6L100.5 56.8L101.7 56.9zM105.3 72.7L102.9 70.7L103.2 67.3L106.4 63.7L108.3 65.0L111.2 67.7L112.2 71.3L106.5 74.1zM114.0 68.9L114.1 65.1L115.7 63.4L116.8 61.9L117.4 67.3L116.9 70.1L115.9 74.0L113.8 71.3zM93.8 74.6L90.7 73.8L90.6 71.6L90.6 69.9L95.2 68.9L97.4 70.3L96.9 72.6L96.0 74.2zM87.5 72.8L87.2 74.7L84.7 74.8L83.0 73.9L83.7 72.1L84.3 71.5L85.6 71.0L87.8 71.5zM101.6 76.3L102.5 79.5L103.3 82.3L99.5 83.8L97.2 82.2L95.1 79.9L95.0 76.7L98.0 76.3zM127.6 74.1L127.7 75.1L127.2 80.5L126.8 81.1L123.0 80.9L122.4 80.0L122.3 77.3L121.1 72.6L121.3 70.4L123.1 68.7L125.7 70.5L126.5 70.8zM75.1 79.0L72.4 77.9L70.4 74.6L71.0 72.2L75.7 71.0L79.1 72.5L80.2 75.0L79.4 77.1zM79.6 92.0L77.6 92.2L75.9 89.8L75.9 87.7L77.1 84.8L78.4 85.0L79.7 87.0L80.0 90.4zM103.5 86.9L105.7 86.3L108.8 85.8L112.3 86.2L114.2 87.0L116.0 89.0L115.6 90.6L113.9 90.8L109.0 92.1L108.7 91.0L106.1 90.1L105.2 89.3zM129.0 74.5L130.9 74.7L135.6 77.8L140.8 79.9L141.1 81.5L138.6 86.1L134.4 90.9L133.3 89.6L128.7 88.4L127.0 86.7L126.7 82.0L126.2 78.9zM137.6 73.0L135.0 75.6L131.2 77.6L129.8 74.4L129.6 72.9L131.0 69.6L132.6 68.7L137.5 70.6zM110.1 76.6L104.4 74.8L104.6 72.4L102.1 68.7L100.7 67.0L105.7 63.3L107.7 62.7L112.1 63.1L114.9 67.0L117.9 70.1L114.3 71.6L111.8 74.1zM118.0 70.0L117.0 72.5L115.2 72.9L114.4 69.1L114.8 65.7L115.9 63.8L117.6 62.9L118.4 67.7zM116.8 79.8L116.5 77.3L117.1 74.8L121.0 74.4L126.6 73.5L128.7 75.4L130.3 79.7L128.9 81.7L127.2 83.0L125.6 86.2L121.1 84.8L117.2 85.4zM136.5 71.2L137.2 72.9L137.2 76.8L136.4 79.8L133.5 84.6L132.0 81.7L129.2 79.2L129.5 77.5L128.1 74.3L129.9 71.3L132.0 70.4L133.5 69.8zM129.5 88.6L127.4 86.9L127.0 84.1L129.3 82.0L132.3 80.9L134.2 82.4L136.8 84.7L138.6 86.1L139.1 87.0L135.0 90.3L132.3 91.2L131.0 90.4zM105.1 92.8L108.1 91.1L112.2 89.8L116.0 90.5L117.2 90.8L120.9 92.0L123.9 94.3L122.7 95.8L118.5 96.9L117.3 97.7L109.6 96.5L106.6 95.4zM107.8 97.9L106.6 98.8L102.6 98.8L99.2 97.5L100.7 95.5L102.7 93.7L106.9 94.0L107.8 95.9zM132.4 105.9L127.5 107.0L124.5 105.6L118.7 105.5L116.0 101.3L117.1 99.4L120.3 96.6L122.3 94.4L128.3 94.1L131.5 99.3L135.7 100.2L132.4 104.5zM136.3 119.1L132.5 116.8L129.9 114.2L130.5 108.2L131.0 104.9L134.4 102.3L135.9 101.4L139.3 105.7L141.8 105.7L142.6 110.7L142.1 113.1L140.2 117.7zM127.8 114.3L127.8 116.2L123.8 121.2L121.6 119.9L117.7 121.3L116.2 116.2L115.9 113.3L116.6 111.4L119.3 107.1L122.2 107.0L123.4 106.5L125.3 108.9zM149.0 99.2L149.0 101.2L144.7 103.4L141.5 102.9L138.1 103.6L134.5 102.6L135.4 100.9L135.3 98.1L135.7 96.9L137.6 95.1L143.6 96.2L145.5 97.0zM137.8 94.0L138.9 92.7L143.9 90.7L145.5 89.9L150.0 93.3L149.4 93.9L150.2 95.7L148.5 97.5L145.7 99.5L139.3 99.3L138.4 97.9L136.9 95.7zM157.6 101.5L155.8 97.8L154.8 96.4L156.3 93.3L156.8 92.5L158.6 90.9L161.7 91.7L161.3 95.3L162.6 95.3L161.3 100.5L159.8 100.5L158.8 103.7zM164.9 101.3L164.8 104.2L165.9 106.9L162.8 110.9L159.1 109.6L157.4 106.4L158.7 104.0L161.0 101.9zM154.7 118.5L154.9 119.8L155.1 124.4L153.3 124.2L151.0 126.8L149.4 125.1L148.2 122.6L146.9 121.1L147.8 116.3L149.8 115.2L150.7 115.6L154.5 116.1zM144.7 128.8L141.8 126.3L141.3 124.3L144.4 122.1L145.5 121.9L148.7 123.4L149.2 126.1L146.2 128.7zM104.5 182.0L100.1 180.6L96.3 182.2L90.7 176.2L94.5 167.5L95.0 162.8L101.2 154.3L104.7 157.8L112.5 156.9L112.1 165.7L115.0 170.4L112.0 183.1zM115.5 164.3L116.1 167.4L120.6 169.8L120.5 170.5L119.7 175.5L117.7 177.7L116.4 179.2L112.2 181.7L109.6 179.8L109.3 174.9L108.8 168.5L111.8 168.8zM127.2 130.1L128.8 126.7L132.0 123.2L132.7 119.8L136.2 123.1L136.8 123.5L139.2 128.3L140.3 132.1L137.7 132.7L133.7 135.8L132.6 135.9L130.4 132.6zM149.9 120.1L149.0 123.2L147.2 122.7L144.6 126.2L141.7 123.0L141.2 122.3L139.3 118.9L139.9 116.5L142.7 112.7L145.4 112.9L146.4 114.3L148.8 115.4zM126.7 131.2L123.4 132.7L120.9 133.9L117.0 131.6L117.8 126.1L120.7 126.4L123.3 125.4L126.3 128.8zM98.9 189.8L94.8 189.4L92.3 185.6L91.4 184.6L92.3 179.8L93.9 175.9L96.7 176.0L99.4 176.5L103.5 179.0L103.4 180.9L102.6 186.7L102.7 188.3zM77.9 88.3L79.9 86.8L83.9 89.1L83.0 90.8L81.7 93.1L77.3 94.5L75.3 92.3L75.1 89.8zM88.6 99.3L86.8 97.7L85.9 93.6L87.1 91.5L89.3 90.2L93.3 91.1L92.9 93.7L93.1 97.3zM86.9 89.6L82.9 89.9L82.3 89.0L80.9 87.3L84.0 86.4L86.1 85.7L88.6 87.2L90.3 88.8zM45.3 94.1L42.2 93.8L42.1 90.6L41.2 90.0L44.4 89.1L47.9 87.5L50.4 88.1L52.6 89.4L51.7 90.2L53.2 92.6L49.5 93.6L47.9 94.4zM41.2 118.5L41.3 115.5L43.3 115.2L46.7 116.0L46.1 117.8L45.6 121.2L43.7 120.3L41.4 119.5zM51.9 106.2L52.4 107.6L50.9 109.1L47.8 110.0L47.2 108.8L46.1 107.3L47.6 106.2L49.2 105.1zM43.7 134.2L43.9 138.5L43.1 140.7L41.8 142.0L40.6 139.8L40.0 137.2L40.8 134.0L42.5 133.4zM76.8 149.9L76.8 153.3L65.9 156.5L62.8 156.8L57.2 154.5L52.0 150.9L48.0 147.1L48.4 144.2L53.5 140.0L66.7 139.7L68.9 140.3L78.8 143.6zM54.6 163.5L49.8 163.9L47.1 164.3L40.9 161.9L41.8 157.1L39.5 153.9L42.5 154.0L48.6 152.4L52.9 152.7L55.1 154.7L59.5 155.8L56.6 158.1zM78.1 156.0L78.1 153.3L81.5 148.0L85.0 149.8L87.4 151.2L90.6 152.1L92.3 155.4L89.9 159.9L85.3 161.2L81.4 163.1L79.5 163.0L76.1 160.9zM74.5 136.5L77.1 135.1L79.4 134.7L81.4 135.1L83.9 135.7L83.8 139.2L82.1 140.8L81.7 142.5L79.0 144.8L76.6 145.3L76.3 142.5L75.8 139.0zM116.5 98.3L116.3 100.8L114.1 104.0L111.7 104.7L107.7 102.6L104.6 100.0L105.0 99.3L103.5 94.6L108.2 93.4L110.1 94.2L115.0 93.6L117.2 95.1zM110.3 116.2L109.9 114.7L111.2 111.8L113.7 109.3L114.9 106.7L117.1 108.3L118.7 114.3L119.8 115.2L118.8 120.1L115.9 121.0L114.9 121.6L112.8 122.9zM108.2 124.0L113.9 124.0L115.5 125.5L113.6 127.8L112.7 129.0L110.3 130.5L103.0 131.7L98.6 130.1L98.0 129.0L96.3 126.2L100.5 124.5L103.5 121.8zM27.9 124.7L26.4 124.8L23.4 122.9L25.3 120.8L27.8 119.9L29.7 119.4L31.8 122.1L31.4 124.8zM41.1 121.2L42.6 118.1L44.8 116.5L46.6 117.8L47.9 120.6L47.2 123.6L46.3 124.2L42.7 123.8zM23.4 159.3L19.2 161.0L15.5 159.7L15.0 158.2L16.3 155.4L21.9 154.5L24.1 155.2L26.3 159.0zM38.6 152.6L38.5 154.7L32.7 154.8L30.0 153.7L30.5 152.5L28.0 151.3L30.0 149.5L32.8 148.6L34.7 147.9L38.4 148.7L41.1 149.1L41.4 151.8zM41.2 138.9L43.4 136.5L45.6 137.4L46.1 140.5L45.0 142.9L43.3 143.6L42.4 143.3L40.0 140.2zM63.0 134.7L60.9 136.9L59.7 138.1L56.2 138.4L53.5 137.4L52.0 137.5L52.5 134.5L53.4 132.6L54.9 130.1L58.2 130.0L59.7 130.9L63.1 131.8zM54.5 153.3L54.3 154.7L47.7 156.7L44.8 157.4L42.7 153.9L39.7 149.3L42.2 144.8L45.2 144.1L48.0 141.1L55.4 143.0L56.3 145.2L58.6 150.8zM73.7 152.4L68.9 151.9L64.5 154.6L60.3 149.2L59.2 148.3L57.5 143.5L59.7 140.5L61.8 135.1L68.8 138.7L72.1 141.5L76.6 141.7L75.1 149.1zM29.5 162.6L29.9 160.5L31.5 158.3L32.4 155.6L37.6 155.9L40.7 156.9L42.5 157.6L44.3 160.5L40.8 163.3L39.1 164.7L35.6 163.9L30.2 164.0zM63.5 153.1L68.8 156.4L69.9 160.1L69.2 164.6L70.9 169.1L63.5 172.2L59.9 171.6L52.6 170.6L48.5 167.1L51.0 160.6L50.4 156.3L55.3 155.2zM38.3 169.9L39.9 173.5L34.0 177.4L33.3 177.8L26.5 178.2L22.8 176.1L21.2 172.2L19.8 169.9L23.0 167.9L27.9 165.7L31.9 165.0L35.0 169.1zM71.6 177.2L68.0 177.4L65.7 172.9L65.9 170.4L65.9 163.0L70.0 163.7L74.2 162.8L75.2 164.6L80.4 168.3L79.2 172.5L76.9 175.6L73.1 178.7zM19.1 164.0L21.6 164.2L24.3 164.5L27.2 165.1L27.7 166.2L27.4 166.7L25.8 167.5L25.2 168.4L21.4 168.0L18.5 167.7L16.5 166.7L17.6 165.3zM48.0 171.1L55.0 176.8L45.8 179.9L40.9 185.5L38.1 182.1L23.4 182.1L25.4 178.6L22.3 174.6L25.1 166.3L24.8 162.1L39.0 164.1L48.1 164.9zM43.9 179.6L52.1 184.2L53.3 187.1L55.1 195.8L52.6 201.9L42.9 202.9L38.4 202.6L31.7 199.9L27.9 196.3L24.8 190.9L26.3 183.8L29.8 181.6zM24.9 211.5L29.2 205.1L28.6 200.5L36.1 199.6L48.6 202.5L58.6 202.7L59.6 209.7L58.5 215.1L57.7 218.8L51.8 219.9L37.6 218.3L29.7 214.6zM48.6 218.6L50.5 215.3L53.2 210.4L60.2 209.3L65.0 209.9L67.1 212.3L72.7 215.4L70.8 221.4L66.6 222.8L62.9 226.0L55.3 226.3L53.2 224.9zM35.6 228.6L37.5 230.6L44.6 233.7L36.8 238.4L28.0 241.0L21.3 239.4L14.4 237.1L11.3 233.4L11.5 230.7L15.9 226.1L22.3 226.6L28.6 223.9zM59.3 229.1L62.9 233.4L58.4 235.4L56.3 237.8L50.9 239.2L41.9 239.7L40.9 237.4L40.5 233.6L40.0 227.5L45.9 225.5L46.8 225.5L57.1 224.6zM79.2 162.4L79.8 163.9L77.1 165.5L75.2 166.1L71.5 166.1L69.5 164.4L69.0 162.8L67.3 162.2L69.1 159.5L72.4 159.8L77.0 158.8L79.5 160.8zM79.9 195.5L78.4 199.3L75.9 200.8L72.9 195.3L71.2 196.6L71.2 189.0L70.0 186.0L71.4 182.0L75.2 183.3L77.6 181.9L79.9 185.1L81.0 188.3zM66.3 206.9L65.6 205.1L63.9 201.9L66.7 200.2L68.8 200.5L73.3 199.2L74.8 201.0L77.7 202.1L76.4 205.2L75.3 206.0L71.5 207.7L69.0 208.0zM109.9 159.6L110.6 161.4L113.7 173.4L106.0 185.5L103.0 186.3L83.4 184.8L81.5 176.0L73.2 166.2L74.7 157.2L85.1 156.8L92.8 147.0L100.2 147.9zM87.9 153.1L88.5 159.6L86.9 161.5L83.1 167.6L79.6 164.9L73.1 165.2L72.4 162.9L70.0 155.0L73.1 153.0L77.3 151.2L79.6 150.7L85.4 151.9zM69.0 180.0L73.5 177.5L81.5 171.6L82.6 169.9L88.5 179.4L90.8 184.1L88.1 189.5L91.3 196.8L79.4 199.6L75.7 196.7L70.3 191.9L66.9 183.4zM69.0 201.6L69.1 202.1L70.6 205.9L72.4 209.5L68.0 215.4L63.9 218.2L63.4 216.7L60.4 212.0L58.7 206.6L58.0 203.5L62.0 198.9L64.0 199.2zM64.1 163.7L61.7 160.5L57.7 161.3L50.7 158.2L53.9 154.3L52.6 150.3L55.3 147.0L58.6 149.3L66.6 147.7L67.5 152.0L70.4 155.0L68.2 156.9zM16.1 240.8L12.6 239.4L8.7 238.5L7.1 235.2L10.0 231.4L13.4 227.6L17.3 225.2L19.1 229.3L20.1 230.8L23.3 235.8L20.8 237.8L19.6 240.8zM33.2 216.2L34.2 213.7L37.2 206.7L39.6 204.0L48.7 206.2L53.7 208.9L58.5 215.8L59.3 217.7L57.2 224.5L51.1 227.6L42.3 227.7L34.7 220.3zM30.7 200.3L30.0 197.8L34.6 192.3L41.2 194.4L44.4 192.3L48.8 194.0L54.7 197.2L54.0 200.0L47.1 202.5L45.8 205.3L36.9 203.5L29.8 203.6zM53.8 249.2L51.0 250.6L46.6 247.8L46.3 247.0L44.5 244.0L47.1 243.2L51.2 240.8L56.8 241.6L57.0 243.0L60.9 245.3L58.8 247.1L56.9 249.0zM67.2 206.2L68.5 205.6L70.1 213.0L67.5 215.8L64.8 220.3L63.8 220.7L60.6 217.9L58.1 216.4L58.5 212.1L57.9 206.1L61.6 204.9L64.0 204.4zM60.8 99.1L65.3 102.1L66.3 103.6L65.7 107.1L65.0 111.0L64.4 111.2L62.7 114.8L60.9 112.1L58.3 109.3L57.0 108.7L57.9 103.3L60.4 102.1zM60.2 121.1L61.4 121.3L61.4 125.2L61.1 126.9L59.9 129.4L56.7 128.4L54.9 128.6L54.0 127.1L54.7 121.6L54.5 119.6L57.0 118.7L59.9 118.0zM90.8 98.2L86.7 97.4L86.1 94.1L87.8 92.0L89.1 92.0L94.8 90.4L95.3 91.6L97.9 93.5L97.5 95.1L98.1 96.9L96.2 97.4L91.2 99.3zM78.5 138.2L78.8 141.8L77.6 142.1L74.2 144.6L69.9 145.0L63.8 143.4L63.2 142.5L60.5 139.5L64.0 137.8L68.0 136.3L71.6 134.1L74.2 136.6zM44.9 108.8L45.1 106.5L46.9 103.6L49.5 104.2L51.6 106.0L51.0 111.5L48.7 113.1L46.2 112.9z"/>
<path fill="#c6e7fa" d="M90.6 170.9L91.7 168.4L93.7 167.2L97.2 167.1L98.3 169.5L99.8 172.0L96.8 173.6L93.1 172.9zM73.2 176.1L70.5 179.1L67.9 184.0L67.1 184.2L61.8 185.1L60.7 182.1L56.9 176.4L58.6 175.8L60.0 171.4L64.8 169.0L69.2 171.5L72.3 173.8zM59.4 181.1L64.6 182.9L65.9 184.8L67.2 189.3L64.9 196.2L60.8 200.0L58.9 201.2L53.7 197.8L52.9 195.4L50.9 190.8L52.9 187.3L56.1 183.7zM84.7 198.3L84.1 195.8L83.8 193.8L83.2 191.0L85.8 188.7L88.1 187.4L90.6 187.1L91.1 190.9L92.9 191.9L90.9 193.5L89.9 197.6L86.9 199.2zM104.5 170.2L105.5 168.8L107.6 168.9L109.5 170.3L110.0 173.0L108.3 173.6L106.7 174.3L104.5 173.1zM78.1 193.5L78.7 195.6L76.9 199.2L75.4 200.7L74.0 198.8L72.3 194.3L74.0 193.1L76.3 191.0zM27.0 207.1L26.4 209.7L28.3 211.5L27.0 214.7L26.9 217.0L22.7 217.9L18.6 217.4L18.8 216.7L17.3 212.2L18.8 210.3L18.1 207.3L22.3 206.2zM27.1 210.9L24.0 211.0L20.3 209.2L21.9 206.7L23.8 206.0L27.5 206.1L28.7 206.8L30.1 209.6zM17.3 238.8L17.9 238.0L19.5 239.0L19.0 240.3L18.0 240.8L16.5 239.8zM24.8 239.3L23.8 238.3L24.9 236.4L26.4 236.8L26.7 238.1L25.9 239.8zM60.4 202.9L59.4 199.4L57.5 187.9L60.1 182.3L59.9 177.5L64.3 177.2L71.3 177.9L73.1 183.7L74.3 185.9L77.1 193.8L72.6 200.1L69.1 203.1zM82.0 195.5L80.7 194.9L81.3 190.7L81.7 188.5L82.8 187.5L84.4 186.7L85.2 186.6L85.5 189.9L85.2 194.6L85.5 197.6L83.5 197.4L82.7 199.0z"/>
<path fill="#72a9fa" d="M46.6 100.3L46.5 99.4L47.0 98.9L48.0 98.9L48.6 100.1L47.6 100.8zM50.6 101.5L49.8 100.9L49.6 100.0L50.5 99.2L51.7 99.8L51.6 101.1zM128.0 119.9L127.7 118.6L128.5 118.2L129.4 118.5L129.6 119.5L129.0 120.1zM103.4 112.9L102.2 112.4L101.9 110.9L103.1 110.3L103.7 110.9L104.3 111.8zM157.4 103.5L158.4 103.3L158.9 104.0L158.4 104.9L157.7 104.8L156.9 104.0zM107.2 112.6L108.0 112.6L108.3 113.3L107.9 113.9L107.0 113.6L106.7 112.8zM122.4 123.2L123.7 123.6L124.2 124.4L122.9 125.3L122.0 125.4L122.0 124.0zM133.0 123.7L131.2 123.2L131.7 121.4L132.7 120.7L134.1 121.3L133.7 122.5zM107.3 111.7L106.8 114.7L104.6 116.1L103.1 115.1L101.3 113.7L100.8 111.5L102.4 110.1L104.7 109.9zM100.0 113.8L101.8 115.5L101.3 116.7L100.8 117.6L99.0 117.8L98.0 116.9L97.4 115.0L98.5 114.4zM63.4 121.0L64.3 120.2L65.5 120.4L65.9 121.2L65.1 122.2L64.2 121.8zM95.9 106.5L97.2 106.5L97.4 107.4L96.9 108.4L96.1 108.5L95.1 107.8zM91.7 105.1L91.8 103.8L92.7 103.6L93.9 103.8L93.2 105.2L92.2 105.9zM80.7 135.8L81.9 134.9L83.0 135.5L83.4 137.0L82.2 137.9L81.0 136.8zM86.8 138.7L85.0 138.3L85.5 137.2L86.7 135.9L87.8 137.2L88.0 138.7zM54.2 137.4L55.3 138.0L55.4 138.9L54.4 139.7L53.6 139.0L53.2 137.8zM49.9 135.4L50.5 137.1L49.7 137.9L48.5 138.3L47.5 137.3L48.0 135.9zM105.7 113.9L105.5 115.2L104.2 115.3L102.9 114.4L103.9 113.1L105.0 112.8zM106.6 116.5L107.1 115.4L108.7 115.6L108.7 116.5L108.2 117.7L107.2 117.4zM107.2 96.8L105.8 97.6L104.8 96.7L105.3 95.4L106.3 95.4L107.3 95.8zM89.2 115.7L88.4 114.6L88.8 113.6L90.0 113.5L90.8 113.8L90.3 115.0zM46.2 97.4L47.9 97.1L49.3 98.2L49.3 99.3L48.3 101.4L47.4 101.9L46.2 100.4L45.7 98.8zM55.4 122.6L55.9 121.8L56.9 121.5L57.5 122.3L57.2 123.3L55.7 123.5zM60.0 143.0L61.9 143.4L62.2 144.6L60.6 145.8L58.6 145.3L58.9 143.8zM43.5 158.9L44.6 159.7L44.5 161.0L43.5 161.8L42.0 160.8L42.3 159.0zM53.7 144.3L54.5 143.9L55.9 144.2L56.1 145.7L55.2 146.1L53.7 145.8zM51.4 138.7L52.6 138.9L52.7 140.3L51.8 141.1L51.2 140.6L50.6 139.4zM63.6 126.7L64.3 125.4L65.8 126.1L66.1 127.7L64.7 128.3L63.3 127.6zM44.8 161.8L45.6 162.2L46.3 163.1L45.4 164.5L44.7 164.0L43.9 162.8zM63.7 193.1L63.5 191.6L64.7 190.8L65.5 191.3L66.4 192.7L64.8 193.4zM69.2 189.0L67.7 189.0L67.3 187.9L67.8 186.6L68.8 186.5L69.5 188.1zM57.7 183.4L56.8 183.7L56.0 182.9L56.3 181.4L57.7 181.8L58.5 182.4zM65.0 202.2L65.2 203.7L65.2 205.1L62.7 206.3L61.7 204.9L60.7 203.3L61.5 202.0L62.9 201.4zM58.3 198.0L56.5 195.7L58.6 193.8L60.3 193.6L62.0 194.6L63.6 195.9L61.8 198.4L59.6 198.6zM55.2 183.6L54.0 184.0L53.1 182.8L53.7 181.7L55.0 182.1L55.7 182.7zM64.4 177.3L63.8 179.0L62.5 179.0L61.5 177.4L62.1 176.8L63.1 176.4zM64.3 191.1L66.1 191.1L66.8 193.4L65.9 194.4L63.5 193.6L63.0 192.6zM94.8 176.2L95.8 177.2L94.9 179.5L93.2 179.4L92.0 179.5L91.5 177.4L92.3 176.1L93.2 175.6zM27.8 241.7L26.8 242.9L25.2 242.5L24.2 241.0L25.9 239.0L27.3 239.6zM47.9 248.5L48.7 248.7L48.9 249.8L48.1 250.5L47.2 250.2L47.0 248.9zM64.4 192.0L65.6 191.3L67.1 192.4L66.9 193.5L65.2 193.9L64.5 193.4zM61.2 179.4L62.0 181.2L60.2 182.3L58.5 181.8L58.0 180.7L57.9 179.9L58.4 178.4L60.6 178.5zM65.2 193.6L66.5 195.6L62.9 197.3L61.6 198.3L58.2 196.7L58.6 193.4L60.4 191.4L63.7 192.0zM69.1 187.9L69.6 189.9L67.9 191.7L66.3 190.9L65.5 188.6L67.9 187.5zM58.9 192.2L57.5 191.8L56.4 190.6L57.1 187.6L58.6 186.8L59.4 187.4L60.7 189.5L60.3 191.2zM75.8 160.6L76.6 161.3L76.2 162.0L75.2 162.1L74.6 161.4L74.9 160.6zM57.1 153.2L56.8 152.2L58.1 151.2L58.6 151.4L59.0 152.6L58.3 153.2zM70.2 183.4L71.1 183.8L71.5 184.5L70.4 185.2L69.8 184.4L69.5 183.8zM59.7 161.1L61.2 161.0L61.6 162.2L60.7 163.5L59.7 163.0L59.4 162.1zM83.9 206.1L83.8 205.2L84.8 204.9L85.4 205.2L85.3 206.2L84.8 206.7zM57.7 206.5L57.8 207.2L57.2 207.9L56.1 207.8L55.9 206.7L56.3 206.0zM77.3 168.6L78.7 168.4L79.2 169.7L78.6 170.4L77.4 170.9L76.9 169.8zM69.3 176.9L69.2 175.5L70.6 174.7L71.5 175.2L71.4 176.2L70.8 177.2zM55.8 191.1L56.7 191.8L56.4 193.1L55.2 193.8L54.0 192.9L54.5 190.9zM59.6 176.4L60.6 175.7L61.7 176.5L61.6 177.9L60.3 178.7L59.2 178.0z"/>
<path fill="#ee8256" d="M8.8 82.4L9.5 80.5L11.8 80.3L13.2 81.7L13.0 83.0L11.9 85.0L10.5 85.0L9.3 83.5zM59.9 87.3L58.4 87.6L56.9 86.1L57.3 85.3L58.5 83.1L59.4 83.7L60.5 84.5L61.5 85.9zM65.6 105.5L65.5 103.1L68.4 103.1L70.3 103.8L70.0 106.4L69.2 108.0L67.4 108.2L65.8 107.5zM28.7 79.6L28.0 78.0L27.8 76.8L29.5 76.3L31.1 76.3L31.8 77.8L30.5 79.6L29.6 80.5zM104.3 66.4L105.7 65.2L107.6 66.1L108.7 67.4L107.4 69.5L106.1 70.3L104.1 68.9L103.0 67.1zM110.2 78.8L108.8 77.6L109.9 74.3L112.5 72.4L114.7 75.0L116.1 76.8L115.6 79.5L112.8 80.1zM122.1 82.4L123.2 84.5L121.8 86.6L120.1 86.2L117.9 85.7L117.2 83.5L118.4 82.7L119.8 81.1zM135.3 74.0L133.1 74.7L131.2 74.8L131.2 73.2L131.3 71.4L132.6 70.0L134.9 71.0L135.0 72.2zM73.3 73.3L74.9 71.3L76.6 70.6L78.9 71.6L79.0 73.2L78.4 74.4L75.7 75.8L74.5 74.0zM80.4 76.7L78.5 76.5L77.8 74.8L78.8 73.3L80.7 73.4L80.9 75.5zM104.2 70.3L103.0 68.9L102.4 67.2L103.9 65.5L106.7 65.7L108.2 66.8L108.2 69.2L106.7 70.1zM109.5 75.3L112.3 74.2L115.6 74.6L116.8 78.3L115.2 80.7L112.2 80.9L110.0 80.9L108.5 78.2zM120.5 85.7L117.6 86.4L116.8 84.7L116.6 82.6L119.2 81.7L120.4 81.1L122.3 82.4L121.6 84.7zM129.6 72.1L130.8 70.1L133.7 70.2L135.4 71.9L134.3 75.2L133.7 75.7L131.0 75.4L130.1 73.9zM132.5 107.5L133.7 105.3L135.9 104.1L139.4 103.7L139.9 107.1L139.2 108.7L136.5 110.9L134.0 109.3zM159.0 105.4L160.5 104.0L161.6 102.9L165.3 103.2L166.2 104.7L165.4 107.1L162.0 108.6L159.7 107.8zM127.6 116.8L126.7 118.9L124.3 119.5L122.9 117.4L122.6 115.4L123.4 113.1L125.8 113.5L127.1 114.3zM124.2 124.3L122.9 125.3L121.1 125.4L120.5 123.7L120.9 121.2L122.5 119.8L123.8 121.2L125.5 121.8zM116.1 72.0L115.0 72.5L113.7 71.7L114.0 70.1L115.1 69.7L116.1 70.5zM110.3 169.2L108.2 166.9L106.5 164.2L107.9 161.4L110.9 161.1L113.5 162.5L114.1 164.3L114.3 167.6zM122.9 117.5L122.0 116.8L121.3 115.3L122.9 114.6L123.9 113.9L125.1 115.6L125.7 116.7L124.2 117.8zM134.2 130.2L135.3 131.0L135.2 133.2L134.4 134.0L132.3 134.5L131.8 133.6L131.7 132.2L132.4 131.0zM147.7 127.5L147.0 128.5L145.4 129.8L143.9 128.9L143.3 127.9L143.7 125.6L144.6 125.2L146.3 125.9zM93.1 114.0L93.7 117.6L86.7 128.7L80.5 130.1L73.3 127.3L68.6 125.8L64.2 116.9L63.9 112.7L68.9 104.6L72.9 101.9L83.8 106.2L88.2 110.1zM98.0 132.5L95.6 133.3L94.0 130.9L94.1 128.8L96.6 127.0L99.3 127.5L99.3 129.3L100.1 131.9zM92.5 138.0L94.0 141.0L98.0 145.0L104.0 146.0L108.0 150.0L110.0 157.5L105.0 160.0L100.0 158.0L96.0 155.5L92.5 148.0zM35.2 172.6L35.0 168.9L34.7 167.5L32.8 165.5L36.0 163.0L39.2 163.0L41.3 163.4L45.0 166.0L43.7 167.4L44.9 170.1L42.2 172.5L38.2 171.7zM31.8 156.5L34.4 156.6L36.5 157.6L37.3 158.3L35.1 159.5L32.9 159.3L31.0 158.2L31.8 157.2zM55.6 135.6L56.4 136.7L56.4 138.9L55.1 139.4L54.2 139.1L52.5 138.2L53.2 136.7L54.7 135.1zM21.0 180.8L23.2 179.9L24.5 181.2L24.5 183.2L23.7 184.6L21.6 184.5L20.3 184.1L20.0 182.5zM74.6 194.8L76.4 194.8L76.8 196.4L76.0 197.1L74.4 197.7L74.0 195.7zM107.6 163.7L109.3 160.8L113.5 162.4L115.4 165.2L115.0 167.8L110.9 170.3L107.3 169.2L104.9 167.2zM37.0 226.2L40.1 224.9L50.4 228.0L48.3 231.4L53.0 236.4L50.1 239.1L43.4 240.6L38.3 241.2L28.5 241.4L28.4 233.8L23.8 231.8L29.8 229.0zM27.7 79.4L27.3 77.3L29.2 75.9L30.4 75.1L32.4 76.9L32.3 79.5L30.6 80.0L28.3 80.4zM8.9 81.7L10.1 81.0L12.4 80.9L13.2 81.6L13.6 83.4L12.7 84.8L10.4 84.6L9.3 83.1zM59.7 87.4L57.5 86.8L56.9 85.6L57.7 84.4L59.3 82.9L60.8 83.9L61.1 85.6L60.5 87.3zM32.6 90.3L32.2 88.7L33.1 87.1L34.5 87.2L34.8 89.0L34.2 89.8zM33.9 92.3L34.1 90.4L35.4 89.6L37.0 90.1L37.1 92.5L35.9 93.1zM37.5 92.0L39.3 93.4L38.8 95.1L37.2 95.2L35.8 94.6L36.3 93.1zM41.2 97.4L39.8 97.9L38.5 97.5L37.7 95.6L39.5 95.1L40.6 95.9zM44.8 102.6L45.8 103.8L45.6 104.8L44.7 106.3L43.0 105.4L42.3 104.2L41.9 103.1L43.5 102.2zM61.4 99.6L62.9 97.7L66.0 98.2L67.1 98.8L67.2 101.1L65.3 102.5L63.0 103.3L62.0 101.3zM103.3 43.4L104.1 41.6L106.0 42.1L106.7 43.5L105.6 44.8L104.0 45.0zM103.1 45.4L104.3 45.7L105.0 47.0L104.6 48.4L102.7 48.1L101.8 47.0zM106.2 46.4L104.3 46.3L103.9 44.6L105.4 43.5L106.3 44.3L106.6 45.1zM107.8 65.8L108.1 67.2L108.1 69.0L105.5 69.8L104.9 69.5L102.9 68.1L104.3 65.8L105.3 65.7zM114.5 80.4L110.5 81.3L108.9 78.5L109.4 75.5L109.5 73.6L113.3 73.1L115.0 74.5L117.0 78.4zM118.0 77.9L117.6 79.4L116.2 81.0L115.2 80.0L113.4 79.4L113.9 77.5L115.1 75.4L116.4 76.4zM121.6 83.0L122.8 84.2L121.3 86.3L119.8 86.3L118.1 86.4L118.2 84.1L118.9 82.6L120.0 81.8zM130.7 71.3L132.4 71.0L134.1 71.4L135.2 72.3L135.2 74.5L133.9 75.4L131.5 74.9L130.2 74.1zM74.6 72.1L76.7 70.8L78.1 70.5L79.2 72.9L77.9 74.2L77.7 75.8L75.2 74.2L74.6 73.7zM62.3 83.4L62.2 86.3L60.5 87.0L59.7 86.8L58.1 85.5L57.7 83.4L58.4 82.5L60.4 82.5zM99.2 81.1L97.5 80.8L96.3 80.0L96.8 78.5L98.2 78.0L99.1 79.4zM130.7 87.0L129.5 87.8L128.0 87.2L127.3 85.4L128.9 85.0L130.4 85.5zM102.8 69.9L103.1 67.2L103.6 65.8L106.7 65.5L107.1 66.7L108.0 68.7L106.8 70.2L103.7 70.4zM115.8 77.3L115.2 81.0L112.6 81.5L110.0 80.7L108.2 77.3L110.2 74.3L113.9 73.5L115.1 76.1zM118.8 81.1L120.8 81.7L122.3 83.2L121.8 84.9L120.9 86.1L119.0 86.1L116.3 85.5L116.3 82.4zM133.2 69.8L134.5 71.9L135.1 73.2L134.4 74.8L131.4 76.7L130.0 75.7L128.9 72.6L130.7 70.8zM130.6 87.4L129.4 88.0L127.7 88.1L127.3 86.7L127.8 84.7L129.5 84.2L131.0 84.6L130.9 86.3zM137.8 112.0L135.0 110.7L130.8 107.8L132.3 105.6L135.4 102.5L139.1 103.4L139.5 105.8L140.5 108.6zM164.0 109.8L160.3 108.7L158.7 106.3L159.8 103.8L161.1 103.2L163.3 102.5L165.0 104.4L166.2 107.9zM159.0 106.6L160.5 107.1L161.9 107.7L161.9 109.6L160.6 110.2L159.1 110.2L158.6 109.0L158.7 107.7zM127.1 114.0L126.9 115.6L127.9 117.9L125.7 119.2L122.8 118.6L122.5 116.8L121.5 114.6L124.2 113.1zM120.4 122.3L120.6 120.1L123.5 119.4L125.5 121.6L125.8 123.8L123.8 125.3L121.5 125.0L119.6 124.5zM105.6 99.7L104.7 98.5L104.1 97.2L104.7 95.6L106.5 95.0L107.6 95.8L107.6 98.0L107.4 98.7zM119.4 104.5L118.0 104.7L116.8 103.8L116.8 102.5L118.1 102.1L119.5 102.8zM128.2 104.4L128.6 105.8L126.8 106.8L125.2 105.2L125.3 104.0L127.3 103.5zM103.9 127.9L102.8 128.1L99.9 126.1L100.6 124.2L101.5 122.6L103.5 121.6L105.3 123.7L105.9 126.9zM153.0 117.5L151.2 117.2L150.1 116.0L151.3 114.9L152.8 114.8L153.2 116.4zM152.7 109.6L153.2 110.9L152.4 111.9L151.6 112.3L150.8 110.9L151.1 110.2zM111.6 115.4L111.6 113.5L113.3 113.2L113.9 114.3L113.7 115.7L112.6 116.3zM146.8 126.6L145.9 128.3L144.6 129.1L143.1 129.0L142.1 128.6L142.5 126.7L143.5 125.4L144.8 125.6zM142.4 94.4L141.6 94.5L140.9 93.7L141.7 92.8L142.4 92.7L143.0 93.8zM101.9 127.9L98.8 127.7L97.5 127.2L96.1 124.6L96.6 121.9L100.2 120.9L102.3 123.6L102.8 126.0zM105.7 124.5L105.5 125.2L103.4 126.5L101.7 124.2L101.3 122.6L103.2 121.0L104.7 121.7L106.3 122.0zM113.2 133.5L117.5 133.1L119.4 131.7L121.4 136.3L120.8 139.5L119.2 141.1L114.9 141.4L112.9 139.4zM131.7 131.0L133.6 131.0L134.9 131.0L135.5 132.8L135.4 134.0L133.1 134.3L131.6 134.4L131.4 132.9zM147.1 127.2L146.9 128.5L145.8 129.6L144.8 128.9L143.7 128.0L143.8 126.8L144.8 125.4L146.1 125.3zM125.4 115.4L125.3 117.0L124.6 117.8L123.2 118.2L121.9 117.0L121.7 114.6L123.1 113.9L124.6 114.0zM105.9 178.2L105.2 180.2L103.4 181.8L101.3 181.3L101.2 179.5L100.9 178.4L103.0 177.0L103.9 177.4zM106.1 181.3L105.2 181.7L103.2 180.9L103.9 179.8L104.9 177.5L105.8 178.1L107.2 179.1L107.5 180.4zM113.3 176.7L112.0 176.2L111.6 174.4L112.9 173.6L114.4 174.9L114.2 176.1zM97.6 170.4L98.1 171.6L96.5 172.7L95.0 171.9L95.6 170.0L96.7 169.6zM142.2 133.0L143.1 133.8L143.9 135.4L143.0 136.0L141.4 135.7L141.1 134.4zM151.4 118.4L150.3 117.2L150.3 115.9L151.3 115.0L153.0 116.1L152.4 117.7zM155.9 113.9L155.2 113.2L154.6 111.1L155.9 109.8L157.6 110.7L158.7 111.2L158.8 112.6L157.5 113.5zM107.8 165.2L109.6 162.8L110.7 162.9L112.7 163.3L113.5 164.9L112.6 167.1L111.0 166.8L109.0 166.6zM63.8 102.2L62.5 101.9L61.3 99.7L62.3 98.4L64.7 97.1L65.6 98.7L66.7 100.0L65.5 101.2zM89.0 100.9L89.1 102.1L87.7 102.3L85.7 102.4L85.8 101.0L86.0 99.9L87.5 99.2L88.6 98.8zM60.3 87.4L59.1 88.7L57.1 87.3L56.0 86.5L57.2 84.6L58.5 84.1L60.6 85.3L61.6 86.0zM54.6 102.9L54.8 104.5L54.2 105.2L52.3 106.0L51.7 105.1L51.2 103.3L51.8 102.2L52.7 102.0zM42.1 103.7L42.4 102.5L43.0 101.6L44.6 102.3L46.1 103.2L45.3 105.3L44.7 105.9L42.3 105.8zM42.7 96.7L41.7 99.1L40.8 99.9L39.1 99.9L38.1 98.8L38.2 96.3L39.3 94.9L41.2 96.0zM47.1 118.9L46.7 120.7L45.0 121.0L43.9 120.2L44.3 118.7L45.3 118.1zM68.7 130.9L70.2 132.7L70.2 133.8L68.3 135.3L67.0 134.5L65.8 133.5L66.1 132.4L67.3 130.8zM63.9 139.5L64.5 141.1L64.0 142.5L62.3 143.5L61.6 143.0L60.5 141.2L60.8 139.8L62.9 138.4zM64.5 139.9L63.3 138.6L63.9 136.8L65.1 135.6L65.9 135.5L67.6 137.1L67.4 138.3L66.0 139.8zM56.4 140.9L54.3 140.8L53.6 140.2L53.7 138.5L55.1 137.0L56.5 137.7L58.1 138.5L57.3 140.3zM79.2 135.5L78.0 135.3L77.1 133.0L77.2 131.9L79.2 131.4L80.0 131.5L80.8 133.0L80.7 134.3zM84.6 131.6L87.0 131.9L87.2 133.3L86.4 134.7L84.7 134.6L83.9 133.2zM83.6 138.3L81.3 138.0L81.4 136.1L82.8 135.2L83.8 135.5L84.3 137.5zM76.0 145.8L77.2 144.6L78.5 145.3L79.3 145.9L79.3 148.2L78.1 148.4L76.6 148.0L75.1 146.9zM72.2 151.1L70.3 150.8L69.8 149.3L69.6 147.4L70.3 146.7L72.3 147.5L73.6 147.7L73.0 149.8zM63.8 149.4L64.2 147.9L65.7 147.3L67.0 147.1L68.1 148.6L67.9 149.5L67.1 150.4L65.4 150.8zM60.4 151.5L58.4 151.3L57.6 150.1L57.5 149.2L58.6 148.3L59.9 147.4L61.5 149.3L61.4 150.2zM53.5 156.7L52.2 155.8L53.6 153.8L55.1 152.2L56.5 152.7L57.4 155.1L56.9 156.2L55.4 157.6zM51.5 151.8L52.7 151.5L53.4 153.5L52.6 154.7L51.0 155.5L50.3 154.8L48.9 154.1L50.2 152.3zM55.7 160.5L54.3 159.6L54.6 157.9L56.3 156.5L57.3 157.0L58.5 157.9L58.0 159.7L57.3 160.5zM42.9 162.2L42.7 161.3L43.4 159.7L44.5 159.4L45.3 159.6L46.2 161.1L45.8 161.8L45.0 163.2zM85.2 148.1L86.9 148.7L87.9 150.0L86.9 152.3L85.3 154.1L84.1 152.8L82.3 151.2L82.6 149.3zM82.2 152.7L82.2 154.3L80.1 154.2L79.3 153.8L78.5 152.0L80.0 150.9L81.5 150.9L82.1 151.7zM94.6 152.2L93.7 150.9L93.3 150.1L93.0 148.4L94.2 147.7L96.0 148.5L97.2 149.3L96.4 151.0zM92.3 143.5L93.0 144.9L91.2 146.3L90.1 145.3L89.6 144.2L91.0 143.2zM105.6 108.0L106.5 108.3L106.8 110.4L105.6 111.9L104.0 112.2L102.2 110.4L102.9 109.1L103.8 108.3zM114.3 113.3L114.6 115.2L113.1 115.9L111.6 116.0L110.7 115.2L110.3 113.6L110.5 112.5L112.1 111.8zM108.0 117.6L110.7 118.4L110.8 120.5L109.4 122.0L108.1 122.3L107.1 121.8L106.1 119.8L107.1 118.6zM103.8 123.2L105.3 123.0L106.0 124.3L105.5 125.8L103.7 127.3L102.4 126.1L101.6 125.1L102.5 123.4zM112.2 90.5L112.3 92.4L111.8 93.8L110.7 94.1L109.0 93.7L109.0 92.4L109.3 91.2L110.2 90.2zM108.2 98.0L107.2 99.7L106.2 99.2L105.2 97.4L106.6 96.3L108.0 97.0zM98.0 115.0L97.3 115.6L96.0 114.8L95.2 113.0L96.2 112.1L97.6 111.9L99.0 112.5L99.4 114.3zM91.0 115.5L92.6 115.7L94.7 116.1L94.9 117.6L94.2 118.6L92.1 119.8L91.2 118.2L90.5 117.1zM103.7 87.4L103.2 85.8L104.4 85.0L106.2 85.5L105.8 87.1L104.5 88.0zM19.3 115.0L19.9 116.0L18.1 116.4L16.5 116.0L15.5 115.5L14.9 114.4L16.6 113.4L18.6 114.0zM37.4 139.4L36.9 140.9L35.3 141.4L32.3 141.7L29.8 140.7L31.2 139.6L33.0 138.5L35.1 138.7zM46.7 101.9L48.2 103.2L47.3 104.4L46.0 104.4L43.6 105.1L42.7 103.9L42.8 102.9L45.0 101.6zM53.0 101.6L54.8 102.2L55.0 104.0L53.7 105.5L51.8 105.0L50.7 103.5L51.3 102.5L52.2 100.8zM66.2 118.3L65.3 118.7L62.5 118.7L61.6 117.0L62.7 116.1L63.9 115.6L66.2 116.2L66.8 117.4zM56.9 139.4L55.3 140.7L54.3 139.9L53.6 138.0L54.3 136.8L55.4 136.8L57.0 137.2L57.4 138.8zM61.4 138.3L62.7 139.2L63.1 140.7L61.9 141.8L59.7 141.5L58.5 140.6L59.4 139.0L60.1 138.5zM64.6 140.9L63.3 139.0L62.8 136.8L64.6 136.5L66.3 136.3L68.1 138.2L67.2 139.3L66.4 140.1zM68.7 131.0L69.2 132.2L69.2 133.4L68.5 134.5L66.3 133.9L65.6 133.1L65.8 131.1L66.8 130.0zM62.1 148.6L61.4 149.9L59.9 151.4L59.0 150.2L58.4 148.7L58.5 147.3L60.1 147.2L61.3 147.1zM53.5 152.9L53.4 154.0L52.4 154.8L50.3 154.4L49.4 153.0L50.6 151.1L51.4 150.7L53.0 150.7zM55.5 152.7L57.0 153.0L58.3 155.3L58.2 156.3L57.2 158.3L55.4 158.2L53.9 156.7L53.5 154.6zM64.9 152.8L64.0 150.7L65.6 150.3L67.4 150.0L67.8 150.8L67.5 152.6L67.3 153.4L64.8 154.0zM69.3 151.5L68.6 150.0L68.9 148.3L70.4 147.5L71.2 147.6L72.4 149.0L72.6 150.4L71.2 151.3zM73.3 161.4L71.9 160.7L71.6 159.4L72.1 157.7L74.3 157.1L75.1 158.4L75.6 160.2L74.8 160.8zM62.6 162.1L62.4 160.5L63.3 159.5L64.8 159.1L66.4 159.4L66.3 161.4L66.3 162.6L64.1 163.1zM47.1 159.4L47.8 159.0L49.6 158.8L50.3 161.1L49.2 163.0L48.3 162.8L46.7 162.8L46.1 160.5zM42.9 168.2L41.4 166.0L42.6 163.8L44.2 163.8L46.2 163.7L46.4 165.8L46.8 168.0L44.0 168.4zM40.4 162.8L41.5 163.7L40.3 165.9L38.2 167.5L36.7 167.2L36.2 165.3L36.1 163.2L37.3 162.1zM36.0 165.0L37.7 166.4L38.8 167.2L37.5 169.4L36.3 170.6L34.2 168.7L33.5 167.4L34.7 166.4zM40.0 172.9L39.5 171.3L39.2 170.0L40.6 168.5L42.6 169.1L43.5 170.5L43.1 172.0L42.0 172.9zM47.3 172.3L46.5 173.3L44.5 173.9L43.7 172.8L43.0 171.2L44.2 169.2L45.6 169.6L46.6 170.8zM31.2 172.6L30.1 171.4L29.8 170.6L30.2 169.8L31.3 168.8L33.1 169.3L33.8 170.6L33.3 172.6zM29.6 176.2L28.1 176.8L26.6 175.9L26.7 174.1L27.7 172.5L28.8 172.9L30.4 173.9L30.8 174.6zM35.3 174.2L36.7 172.4L38.1 171.4L39.5 173.0L40.3 174.5L38.8 176.5L37.3 176.5L35.4 175.5zM42.3 175.4L42.9 176.6L43.0 179.0L41.7 179.4L40.5 179.0L39.4 178.4L39.9 176.4L41.0 175.8zM54.6 168.1L56.0 167.1L57.4 167.4L58.0 169.1L58.2 170.5L56.5 171.3L54.8 170.6L54.5 169.6zM76.4 164.9L77.1 166.2L77.0 168.5L75.5 168.5L74.4 168.2L72.7 167.1L73.7 165.9L75.0 165.2zM50.4 175.3L51.6 176.5L51.4 178.1L50.3 179.0L48.8 179.0L48.2 177.3L48.2 176.1L48.6 174.8zM25.6 179.2L24.4 180.7L22.1 179.6L22.1 177.8L22.9 176.8L24.5 175.9L25.4 177.1L26.5 177.6zM74.7 136.5L75.8 135.4L78.3 134.9L79.3 136.6L79.3 138.8L78.4 140.3L76.9 140.3L75.6 138.6zM75.9 133.5L74.8 133.3L73.9 132.6L74.1 130.0L75.5 129.9L77.0 129.6L77.9 131.3L77.3 132.5zM38.2 165.5L38.0 167.6L37.0 168.9L35.3 168.6L33.9 168.3L33.8 166.2L35.1 164.9L36.5 165.0zM41.8 165.9L43.3 167.3L42.9 168.9L42.0 170.0L40.3 170.3L39.2 169.2L39.2 167.7L40.9 166.6zM46.8 171.7L45.7 172.2L43.7 171.8L43.5 171.1L43.8 169.5L44.8 168.5L46.3 168.8L46.6 170.5zM32.9 170.4L33.5 172.2L32.3 172.9L30.7 172.9L29.9 171.8L29.5 170.5L30.6 169.5L31.9 169.1zM38.8 172.5L40.7 172.9L42.2 173.8L41.6 174.6L40.8 175.8L39.4 176.3L38.2 175.2L38.1 173.6zM24.0 176.9L24.7 177.6L25.3 179.1L24.5 181.4L22.3 180.7L21.3 180.8L20.3 178.2L22.0 176.9zM29.4 176.3L28.5 176.9L26.5 177.0L26.2 175.6L25.6 174.1L27.0 173.0L28.8 173.3L29.5 174.5zM30.4 181.4L30.7 179.5L33.6 180.8L35.2 181.5L34.8 184.0L33.8 184.7L30.9 185.5L29.7 184.3zM27.5 185.1L29.0 184.5L30.9 185.7L31.7 187.1L30.7 189.6L28.3 190.0L26.4 188.1L26.4 186.4zM36.4 185.0L36.2 186.8L35.5 188.1L34.0 187.9L32.9 187.0L33.0 185.2L33.8 184.7L35.7 184.8zM40.3 182.7L41.9 182.7L42.6 183.4L44.3 185.1L43.1 186.5L40.8 186.9L39.7 186.7L38.3 184.5zM46.6 178.1L46.7 179.7L46.7 181.5L45.0 181.7L43.8 180.4L43.6 179.0L43.6 177.9L44.9 177.6zM47.7 185.9L46.9 186.5L45.7 186.2L44.6 185.1L44.7 183.4L46.6 183.0L48.1 182.9L48.9 184.3zM53.5 189.6L52.2 190.7L51.1 189.6L49.3 188.0L50.2 186.4L51.5 185.8L53.1 186.0L54.1 187.5zM35.7 192.4L34.3 191.8L34.5 190.8L34.9 189.2L36.6 189.0L38.0 189.3L38.6 190.9L37.2 193.1zM34.4 195.0L33.9 196.9L32.6 198.3L31.2 197.8L30.3 197.4L30.6 195.6L31.8 194.4L33.2 194.0zM30.6 200.9L29.7 202.0L28.3 201.0L26.9 200.7L27.6 198.8L28.8 197.7L30.8 198.2L31.4 199.4zM33.6 200.8L35.1 198.5L36.8 198.7L37.6 199.7L38.3 201.1L37.2 202.7L35.6 202.3L34.4 201.6zM44.4 200.6L42.8 198.9L43.6 197.6L44.0 196.6L45.6 196.5L46.5 197.4L46.6 199.2L45.5 200.2zM49.8 198.3L50.4 199.5L50.5 200.9L49.8 202.1L48.1 201.1L47.1 199.7L47.5 199.1L48.1 197.7zM40.6 207.2L41.2 205.8L43.2 205.8L43.7 208.0L43.3 209.1L42.5 210.5L40.9 209.8L40.4 208.3zM43.2 204.9L43.7 203.4L45.8 202.9L47.0 204.1L47.2 206.2L46.0 206.7L44.3 206.8L43.7 206.4zM34.5 208.9L36.0 209.0L36.6 210.9L36.6 212.2L35.2 212.6L33.3 213.1L32.5 212.0L33.3 210.1zM49.6 213.6L47.2 214.9L46.0 213.8L46.1 211.6L47.2 210.1L47.8 209.5L49.5 209.9L51.2 211.9zM37.2 217.4L37.8 215.8L38.4 214.4L40.4 213.8L41.8 215.2L42.8 217.3L41.3 218.1L39.9 218.4zM35.9 220.3L34.1 222.3L31.8 221.6L31.4 220.1L31.0 218.8L32.4 217.6L33.9 217.2L35.2 218.4zM39.3 221.8L37.7 221.8L36.0 222.0L35.3 219.9L35.4 219.2L37.5 218.3L39.4 218.6L39.4 220.2zM48.7 217.1L50.0 215.8L51.2 216.0L52.5 217.7L52.0 219.2L50.5 219.4L49.4 219.8L47.9 218.4zM54.1 219.4L55.6 218.6L56.9 220.1L58.1 220.7L57.6 222.1L56.2 223.0L54.2 222.0L53.9 221.0zM65.6 214.3L67.0 214.4L68.5 216.3L67.5 217.6L66.7 218.2L65.2 218.5L64.3 217.3L64.2 214.9zM63.7 223.9L62.4 225.4L61.1 225.8L59.7 225.4L59.8 224.1L60.4 222.8L61.7 221.7L63.0 222.9zM50.2 219.3L51.9 220.2L52.1 221.3L50.2 222.6L49.5 223.3L48.1 221.4L47.5 219.9L48.7 218.7zM55.0 225.7L53.8 227.6L52.6 228.4L51.0 227.5L50.9 226.5L51.4 225.1L52.8 223.7L53.8 224.3zM50.4 231.9L52.7 232.0L53.3 232.5L53.7 234.5L52.4 235.3L51.7 235.6L50.3 234.2L49.6 233.5zM22.3 236.2L21.8 237.3L19.7 236.6L19.5 235.6L19.5 234.3L20.9 232.9L22.4 233.6L22.7 235.0zM17.1 239.2L16.8 237.6L17.6 236.8L19.5 237.3L19.5 238.7L18.0 240.2zM56.1 180.5L57.0 178.7L58.0 177.0L60.8 177.6L62.8 178.3L61.9 180.8L59.9 183.0L58.5 181.7zM68.5 188.8L70.2 189.0L71.3 189.6L71.9 190.9L71.1 193.0L69.4 192.8L68.5 191.6L67.8 190.2zM67.1 167.1L67.7 168.4L66.6 170.5L65.2 170.7L63.8 170.3L63.7 169.1L64.0 167.2L64.8 166.5zM75.7 169.4L73.7 169.5L73.0 167.4L73.8 166.7L74.4 165.6L76.4 165.9L77.1 167.6L76.9 168.5zM75.0 177.1L73.8 176.9L72.9 176.1L72.5 174.5L73.9 173.0L74.7 173.5L75.9 173.9L76.7 176.1zM66.1 201.8L64.8 201.4L64.7 200.3L64.6 198.3L65.8 197.4L67.6 198.7L68.2 199.2L67.4 201.1zM33.5 186.0L32.0 190.5L29.3 190.3L26.9 187.7L24.7 184.0L27.4 179.3L31.1 178.3L34.6 182.0zM93.7 150.8L93.0 149.0L93.8 148.0L94.9 147.9L96.8 148.0L97.1 149.5L96.2 151.8L94.7 151.6zM83.9 153.9L81.9 153.4L80.8 152.0L81.4 150.1L83.2 149.5L85.3 149.8L86.6 151.3L86.5 153.4zM85.5 160.3L83.9 158.8L84.7 157.4L85.7 156.4L86.7 156.6L88.0 157.0L88.0 159.2L87.0 160.1zM72.0 157.2L74.0 156.6L74.8 157.7L74.9 159.1L74.6 160.7L72.8 160.4L71.8 159.4L71.8 158.1zM71.4 154.5L70.3 155.9L68.2 154.8L67.3 153.7L68.1 152.5L69.7 151.0L70.2 151.8L71.2 153.1zM71.1 150.1L71.0 148.9L71.0 147.9L73.0 148.1L74.1 148.7L74.2 150.0L73.7 151.6L72.0 151.5zM62.9 150.6L63.4 149.4L65.7 149.3L66.5 150.2L67.5 151.2L65.9 152.6L64.1 153.6L63.6 153.0zM60.7 152.2L59.3 151.4L58.8 149.8L59.1 148.4L60.8 148.1L61.7 148.7L62.1 149.5L62.3 150.8zM56.6 159.9L54.9 160.8L54.3 159.3L53.8 157.0L55.4 155.8L56.8 155.1L58.6 156.4L57.8 159.1zM50.1 152.7L50.8 151.3L52.4 151.6L53.4 151.9L53.8 153.7L52.2 155.2L50.8 155.3L50.1 154.1zM67.1 160.7L67.3 162.6L66.1 163.6L64.8 163.8L63.1 163.2L63.3 160.9L64.6 159.3L65.9 160.5zM66.2 166.5L67.2 166.2L68.6 167.9L68.0 169.7L67.8 170.7L66.0 170.0L64.3 169.7L65.1 167.6zM76.7 178.5L75.2 178.1L73.2 178.0L73.2 176.4L73.2 174.1L75.4 173.0L78.0 174.8L78.3 175.8zM92.7 170.9L92.6 169.2L93.8 168.5L95.5 169.5L96.3 170.5L95.8 172.4L94.1 172.9L92.6 172.7zM94.6 164.6L92.7 164.3L91.8 163.0L91.9 160.8L93.5 159.8L95.4 160.4L96.2 161.7L95.9 163.6zM111.2 175.0L111.8 173.8L114.1 174.2L114.0 175.4L114.5 177.0L112.6 178.3L111.0 177.6L110.0 176.5zM100.7 176.5L102.2 176.1L103.2 177.4L103.8 178.6L103.2 180.0L101.7 180.3L100.4 179.5L100.4 177.7zM108.7 180.4L108.1 181.8L106.3 182.0L104.6 182.2L104.3 179.1L104.9 178.1L106.1 176.9L108.3 178.8zM90.2 182.7L88.9 181.5L87.8 180.1L89.0 177.4L90.2 177.3L93.0 178.5L92.6 179.9L92.9 181.4zM90.2 187.1L89.2 188.2L87.0 187.6L86.5 187.0L86.7 185.2L88.0 183.6L88.8 184.2L90.3 185.0zM79.8 194.8L78.8 193.7L78.5 191.7L80.7 190.8L81.6 191.2L82.9 191.9L82.4 193.6L81.7 194.0zM67.8 190.7L68.7 188.8L70.2 189.5L71.2 190.5L71.0 192.0L70.5 192.8L68.6 192.5L68.1 192.0zM59.9 180.6L57.3 180.0L56.3 177.8L56.3 173.6L58.1 171.9L60.5 172.1L62.1 175.8L61.3 178.6zM56.2 185.2L54.9 185.6L53.9 184.7L53.4 183.8L54.0 181.9L54.8 181.4L56.4 182.5L57.0 183.5zM58.4 189.5L59.2 190.3L59.3 191.8L58.0 193.4L56.2 193.2L55.9 191.5L55.9 190.7L56.6 189.3zM62.4 197.3L64.0 198.0L63.2 200.6L62.9 202.0L60.3 202.2L59.0 200.7L58.5 198.3L60.4 197.6zM67.0 202.7L65.4 202.1L64.9 200.9L64.1 199.5L65.4 198.3L67.2 198.6L68.9 199.3L68.1 200.7zM51.7 198.6L52.7 197.7L54.0 198.8L55.1 199.9L54.5 201.7L52.7 202.6L51.9 201.2L51.5 199.9zM51.7 190.2L50.6 188.5L50.0 187.4L51.8 186.5L53.4 186.1L53.8 187.5L53.9 189.0L53.1 189.6zM72.0 206.8L71.3 205.0L71.9 203.6L73.2 203.6L75.5 204.5L75.5 206.3L74.6 207.4L73.0 207.0zM67.7 214.6L66.0 213.6L65.7 212.1L65.9 210.3L67.7 209.8L68.4 210.9L69.5 212.5L68.7 213.5zM80.7 201.6L79.2 201.4L78.5 200.4L79.2 198.4L80.7 198.5L82.0 199.9zM36.6 225.7L39.3 225.1L41.2 228.3L41.1 228.9L39.2 231.6L37.9 233.3L35.6 233.5L32.9 232.9L30.4 232.4L31.3 229.8L31.1 226.7L34.1 225.2zM44.6 229.5L47.0 232.3L44.5 234.7L40.0 234.3L36.7 233.3L37.9 229.6L40.0 228.2L44.7 227.5zM34.5 231.4L38.4 230.9L41.0 232.7L40.4 236.3L38.7 238.6L35.1 238.9L33.1 237.5L33.3 233.3zM34.5 237.5L36.5 239.2L36.2 240.8L33.6 241.0L32.5 240.9L31.0 239.6L31.1 238.3L32.2 236.8zM46.4 226.7L47.6 227.7L47.9 229.5L45.1 230.6L43.8 229.6L43.0 229.1L42.9 227.6L45.1 226.0zM14.4 235.2L14.5 236.4L13.7 237.7L11.9 237.9L10.7 236.4L10.7 234.9L12.4 233.6L13.8 234.1zM32.3 200.0L30.5 198.5L29.6 196.4L31.3 194.8L32.8 195.5L34.5 195.8L34.1 198.4L34.0 199.1zM27.6 201.1L26.7 199.8L27.3 198.4L28.1 198.1L30.2 198.4L30.2 199.8L30.4 201.1L28.4 202.3zM39.0 202.0L37.1 203.0L36.1 201.9L35.1 200.4L35.4 199.3L36.6 198.0L38.7 199.0L39.1 199.9zM47.6 199.2L46.5 200.4L44.8 200.8L43.3 200.2L42.6 199.2L43.4 197.6L45.2 197.4L46.7 197.0zM41.3 193.8L43.0 195.4L42.3 196.6L41.7 198.3L39.7 198.0L38.7 196.6L38.3 195.2L39.2 194.1zM51.0 201.6L50.7 203.0L48.7 203.0L47.2 202.6L47.4 201.1L47.2 199.8L48.8 199.5L51.0 200.2zM42.3 207.6L43.5 209.2L42.5 209.9L41.3 210.6L39.4 210.4L39.8 209.0L40.4 207.5L41.2 206.8zM47.7 211.5L47.2 212.9L46.2 214.0L44.5 213.7L44.3 212.2L44.4 210.4L46.1 210.2L47.5 210.3zM48.5 214.4L47.6 212.4L48.0 211.0L49.7 210.6L50.8 210.9L52.1 212.5L50.8 214.3L49.8 214.3zM38.8 214.9L40.2 213.8L41.6 214.5L42.1 216.3L40.8 217.8L40.0 218.9L38.8 217.8L37.6 216.3zM32.5 216.3L33.4 216.7L35.2 216.6L36.3 218.1L35.2 220.2L33.3 220.9L31.8 219.7L31.3 218.3zM36.5 222.3L35.6 222.2L34.9 220.3L35.4 219.7L37.2 218.5L38.3 219.0L38.9 220.9L38.2 222.3zM54.1 218.3L53.0 219.9L51.6 219.6L49.0 219.5L48.9 217.8L48.6 216.1L51.0 216.0L52.5 216.0zM55.3 222.3L53.7 222.3L52.8 222.3L51.1 221.4L51.4 219.6L52.6 219.5L53.9 218.5L55.4 220.4zM56.3 221.7L55.5 221.3L54.5 219.8L54.8 218.3L56.2 217.5L58.2 218.4L58.0 220.3L57.6 221.3zM60.7 227.7L60.0 226.3L59.2 224.6L60.9 223.2L62.7 223.3L63.5 224.6L63.5 226.6L61.9 227.2zM66.8 214.7L67.5 215.9L66.9 217.0L65.8 217.9L64.6 218.4L63.3 216.4L63.4 215.3L65.4 214.1zM52.8 228.0L51.8 227.5L50.5 226.0L51.5 224.8L52.1 224.1L53.4 224.4L54.6 225.8L54.0 227.7zM46.7 226.5L48.1 226.8L50.2 227.3L49.7 228.2L49.8 229.8L48.3 229.9L47.0 229.3L46.2 228.4zM53.0 234.0L51.1 234.2L49.7 232.8L50.2 231.4L51.6 229.3L52.8 230.5L54.6 230.9L53.7 233.1zM46.3 235.0L47.5 235.7L47.3 237.2L45.9 239.2L43.8 238.9L43.3 237.4L42.3 236.1L44.6 233.7zM51.0 239.8L50.3 240.5L48.2 240.8L47.7 239.1L48.3 237.7L49.0 236.7L50.3 237.1L51.7 237.7zM41.1 243.7L38.7 244.3L37.2 243.0L38.0 240.9L39.1 240.0L40.3 239.9L41.7 240.5L42.1 243.3zM34.7 243.7L32.7 244.5L31.5 245.0L30.4 243.0L30.7 241.3L31.9 240.2L33.7 239.9L34.6 242.0zM45.8 241.6L47.3 240.7L48.9 240.6L50.5 241.9L49.7 243.3L49.1 244.4L47.8 245.0L46.4 244.0zM52.6 243.6L53.2 241.5L55.3 241.1L56.1 241.5L57.4 243.2L56.3 244.6L55.5 245.3L53.7 244.8zM53.9 237.6L53.2 238.5L51.5 238.3L50.7 236.8L51.3 235.9L52.4 234.1L53.6 235.0L54.9 236.1zM39.8 247.0L39.9 246.2L41.1 245.2L43.0 245.2L43.5 247.0L42.6 249.0L41.3 249.5L40.4 248.4zM48.7 246.6L48.8 247.8L47.3 249.2L45.6 249.4L44.9 247.7L45.3 246.0L45.9 245.3L47.7 246.0zM60.3 248.7L59.0 249.2L57.8 247.5L57.8 246.3L59.4 244.9L61.4 245.0L61.9 246.7L62.1 247.9zM60.3 203.9L58.9 205.7L57.6 205.5L56.5 204.3L55.5 203.1L57.2 201.6L58.8 201.3L60.0 203.0zM67.6 202.1L67.1 202.6L65.5 203.3L64.4 202.2L63.9 201.0L65.4 199.6L67.3 199.1L68.6 200.6zM71.8 191.5L71.0 192.8L68.9 192.1L67.5 191.6L68.3 189.6L68.9 189.1L70.9 188.6L71.5 189.9z"/>
<path fill="#0550e4" d="M38.8 95.7L38.7 96.4L37.9 96.6L37.4 96.1L37.8 95.6L38.3 95.4zM131.6 118.0L131.7 117.4L132.2 116.8L132.9 117.0L133.1 117.9L132.3 118.6zM127.1 121.9L126.2 122.7L124.9 121.5L125.8 120.7L126.8 120.2L127.7 121.0zM100.1 115.9L100.7 115.2L101.7 115.8L101.4 116.4L100.5 116.9L99.9 116.7zM109.6 93.5L108.9 93.6L108.4 93.3L108.4 92.3L109.1 92.3L109.7 92.5zM139.7 124.6L139.0 125.2L138.4 125.0L138.6 124.1L139.1 123.6L139.7 124.0zM123.9 120.2L124.8 119.8L126.2 120.4L126.0 121.9L125.1 122.6L123.6 122.1zM126.3 118.4L126.4 117.5L127.7 117.3L128.5 118.2L128.1 119.0L126.7 119.5zM132.4 117.2L132.3 118.0L131.6 118.4L131.1 117.9L131.3 117.0L131.9 116.5zM138.4 124.5L138.9 124.5L139.4 124.9L139.0 125.9L138.1 125.8L137.9 125.0zM58.5 122.8L57.8 121.4L57.8 120.3L59.2 119.7L60.5 120.5L59.6 122.0zM67.5 125.2L66.6 126.0L65.8 125.9L65.2 124.4L65.8 124.1L67.3 124.1zM94.9 107.7L93.1 107.3L93.0 105.9L93.2 104.6L94.6 105.0L95.7 106.3zM77.3 141.2L76.4 142.6L75.5 142.1L75.1 141.3L75.6 140.6L76.6 140.6zM57.2 141.4L58.7 141.9L59.5 143.1L58.6 144.2L57.6 144.5L56.3 143.3zM60.8 162.7L61.4 162.0L62.7 162.5L62.9 163.3L62.0 164.2L61.2 164.2zM57.5 120.0L59.6 119.9L60.2 121.2L59.9 122.3L57.4 122.6L56.8 121.6zM61.5 142.7L62.6 142.7L63.3 143.4L63.5 144.5L62.1 144.7L61.3 143.8zM55.0 156.2L54.8 155.4L55.7 154.2L56.4 155.1L56.6 156.1L55.7 156.9zM60.6 165.1L62.2 164.5L63.6 165.6L63.1 167.0L61.6 167.5L59.8 166.6zM45.2 162.5L45.8 161.7L47.2 161.4L47.6 162.3L47.5 163.4L46.1 163.7zM58.0 198.6L57.9 199.3L57.1 200.0L55.0 200.9L53.2 199.7L52.1 199.0L53.1 198.0L56.4 198.0zM63.3 200.2L63.1 201.8L61.2 202.6L60.1 200.8L59.9 199.7L62.2 198.8zM59.6 205.6L58.1 206.5L56.7 205.5L56.9 204.5L57.9 203.5L59.1 204.0zM58.1 185.5L57.2 187.0L55.8 187.2L54.8 185.6L55.7 184.6L56.7 184.3zM61.9 164.4L61.9 165.7L61.6 166.4L60.1 166.9L59.5 165.1L60.6 163.8zM61.6 162.9L62.9 162.9L63.5 163.5L63.2 164.3L62.0 165.0L61.5 164.0zM33.2 189.5L33.2 190.4L32.4 190.8L31.4 190.5L31.6 189.6L32.4 189.2zM19.2 185.5L18.8 185.3L18.8 184.2L19.5 183.9L20.5 184.4L20.2 185.3zM61.4 166.2L60.4 164.8L61.3 163.5L62.7 163.2L63.9 164.8L62.9 165.9zM60.6 167.6L59.7 168.3L58.5 167.6L58.9 166.5L59.8 166.1L61.0 166.8zM76.1 143.5L75.3 142.9L75.4 141.6L76.1 141.2L77.4 141.9L77.1 142.8zM56.5 183.6L57.6 184.4L57.3 185.9L56.1 187.0L54.0 185.9L54.7 183.5zM60.1 199.2L60.6 200.3L58.5 200.8L57.7 199.8L58.1 198.7L59.3 198.1zM95.1 174.1L93.9 174.0L93.4 173.3L93.8 172.3L94.7 171.9L95.2 172.8zM54.7 155.1L55.3 154.3L56.5 153.8L57.2 154.8L56.7 155.6L55.4 156.0zM28.9 243.5L27.7 243.8L26.7 243.1L26.6 242.0L28.1 241.6L28.7 242.2zM47.7 247.6L47.5 248.6L46.7 248.8L45.7 248.2L45.9 247.4L46.5 246.9zM59.5 197.8L61.5 197.9L62.7 197.9L63.5 199.3L62.8 199.9L60.6 200.0L59.5 199.6L59.1 198.8zM55.7 197.6L57.6 197.9L57.6 199.6L56.7 200.4L55.0 200.0L54.9 198.5zM65.7 194.0L64.9 192.6L65.0 191.2L66.6 190.6L67.4 191.6L67.3 193.3zM61.5 163.7L61.5 162.9L62.4 161.8L63.5 162.6L63.4 164.7L62.9 166.8L62.1 166.8L61.0 165.9zM54.8 184.0L55.0 182.0L55.6 181.2L56.8 182.6L56.7 184.4L56.4 185.5L55.7 187.6L55.1 185.5zM57.6 198.5L59.6 199.3L60.7 199.9L59.3 201.2L57.6 201.8L54.8 201.1L53.6 200.2L55.0 198.9zM59.1 201.0L60.6 201.0L61.6 202.0L60.5 202.9L59.3 203.2L58.2 201.8zM96.2 170.0L95.6 171.1L94.5 170.6L94.3 169.5L94.9 168.2L95.8 168.9zM42.7 164.2L43.7 163.1L44.7 163.9L45.2 164.7L44.0 165.4L43.2 165.2zM66.5 161.7L66.7 161.1L67.3 161.0L67.8 161.5L67.6 162.3L67.0 162.5zM71.2 152.0L69.7 151.7L69.6 150.8L70.1 150.0L70.7 149.7L71.6 150.7zM80.0 192.1L79.7 193.1L78.5 193.4L77.7 192.2L78.8 191.4L80.0 191.4zM73.2 174.0L73.7 173.5L74.6 173.6L74.9 174.6L74.0 175.4L73.2 175.1zM69.2 208.9L69.8 208.0L70.8 208.1L71.1 208.8L70.4 209.7L69.5 209.8zM62.4 203.7L63.6 203.9L63.8 204.8L63.1 205.7L62.2 205.3L61.5 204.5z"/>
<path fill="#db2a22" d="M28.3 79.2L28.0 78.0L28.6 76.6L30.5 77.3L31.1 78.5L29.9 79.5zM12.1 82.3L12.4 83.7L11.4 84.2L9.8 83.3L9.7 82.4L10.9 81.3zM58.6 84.1L60.2 84.4L60.3 85.8L59.6 86.6L58.6 86.3L58.2 85.3zM33.3 89.7L32.6 89.0L32.8 88.2L33.7 88.0L34.5 88.2L34.3 89.1zM36.5 91.7L35.8 92.3L34.6 91.7L34.5 90.9L35.4 90.4L36.4 91.0zM37.1 93.4L37.8 93.3L38.3 94.1L37.7 94.9L37.1 94.8L36.6 94.0zM40.3 97.2L39.5 97.6L38.9 97.0L38.5 96.2L39.5 95.9L40.1 96.0zM45.3 103.9L45.0 105.3L43.5 105.4L43.0 103.8L43.4 102.6L44.8 103.1zM66.4 100.0L65.6 101.7L64.0 102.2L62.7 100.5L62.9 99.1L65.2 99.1zM105.0 42.7L105.6 43.8L104.9 44.2L104.2 44.2L103.8 43.4L104.3 42.8zM103.0 46.4L103.5 46.1L104.4 46.2L104.1 47.4L103.7 47.9L102.6 47.2zM106.1 45.0L106.0 45.6L105.4 45.7L104.8 45.1L105.2 44.6L105.8 44.5zM107.3 68.5L105.4 68.6L104.2 67.8L105.0 66.7L106.3 66.6L107.4 66.8zM112.6 79.6L111.9 78.6L110.5 76.9L110.4 74.8L111.8 74.2L114.0 73.9L115.5 76.3L114.2 77.9zM116.9 77.4L117.0 78.7L115.7 79.6L114.6 79.2L114.6 78.0L115.3 76.5zM119.7 82.8L121.3 83.2L121.5 84.6L120.3 85.9L118.9 85.3L119.1 83.7zM133.0 74.2L131.8 73.5L131.8 71.7L132.9 71.3L134.1 72.6L134.4 74.0zM75.1 73.8L75.4 72.7L76.4 71.5L77.5 71.8L78.2 73.5L76.6 74.6zM60.6 85.9L59.4 86.1L58.6 85.1L59.0 83.7L60.6 83.8L61.3 85.1zM98.8 80.0L98.0 80.4L97.4 80.5L96.8 79.7L97.6 78.8L98.2 79.0zM128.4 86.6L128.5 86.0L129.5 85.3L130.3 86.1L130.0 86.8L129.4 87.5zM106.4 68.5L104.9 69.7L103.8 69.1L104.1 67.6L105.1 66.4L106.5 66.9zM110.8 76.9L111.5 76.5L113.7 75.7L114.6 77.1L114.7 78.1L113.6 80.3L112.5 80.4L111.1 79.4zM119.2 85.8L118.2 84.4L117.8 83.2L119.7 82.5L121.6 83.2L121.1 84.7zM131.6 71.6L133.2 71.5L133.7 73.2L133.3 74.7L131.8 74.9L130.8 73.7zM129.5 85.0L130.2 85.7L130.5 86.7L129.2 87.2L128.2 87.0L128.3 85.4zM135.0 109.6L133.0 107.9L133.8 105.3L135.7 104.2L137.4 104.1L138.8 106.7L138.0 108.0L136.3 110.1zM161.1 103.9L163.3 103.5L164.0 105.1L163.9 106.3L163.4 107.6L162.3 107.7L160.1 106.8L160.2 105.5zM160.3 107.2L161.2 108.6L160.9 109.2L160.0 109.8L158.7 108.8L159.2 107.6zM123.6 116.7L123.7 115.5L124.6 114.2L126.1 115.2L126.3 117.2L125.1 117.5zM121.9 121.7L123.4 121.6L123.8 123.3L123.4 124.0L121.3 124.7L121.2 122.7zM104.6 97.1L105.8 96.2L106.7 96.5L107.1 97.6L106.2 98.3L105.0 98.5zM117.2 104.0L117.2 102.9L117.9 102.4L118.7 102.7L118.8 103.5L118.3 104.2zM126.7 103.9L127.8 104.1L127.8 105.5L127.0 106.0L126.2 105.5L126.1 104.7zM102.2 123.7L102.9 123.1L104.9 123.9L105.1 125.2L103.7 126.8L102.3 127.6L101.3 126.2L101.0 125.0zM152.5 116.6L151.8 117.2L150.9 116.5L151.2 115.4L152.3 115.3L152.6 115.9zM151.1 110.6L151.6 110.2L152.4 110.4L152.7 111.3L151.8 111.6L151.1 111.3zM112.1 114.5L112.6 113.8L113.6 113.9L113.7 114.9L113.0 115.3L112.4 115.2zM144.6 128.5L143.9 128.5L143.1 127.6L143.8 126.6L145.3 126.3L145.6 127.2zM141.6 93.3L142.0 93.1L142.6 93.3L142.5 94.0L142.0 94.3L141.6 93.8zM97.8 124.7L98.2 124.1L99.5 122.9L101.8 123.6L101.7 124.9L101.6 126.4L99.5 126.9L98.1 126.0zM104.7 125.2L103.4 124.7L102.7 123.1L103.9 122.4L104.7 122.4L105.1 123.9zM116.5 133.6L118.5 135.1L119.8 135.9L120.1 137.4L118.6 139.9L117.2 139.6L114.8 139.4L114.9 135.9zM134.3 132.5L134.1 133.2L132.9 133.7L132.1 132.9L132.6 131.8L133.9 131.2zM146.3 127.6L145.5 128.4L144.3 128.0L144.3 126.7L145.1 125.9L146.3 126.7zM124.2 116.7L123.1 117.4L122.2 116.5L122.6 115.2L123.7 115.0L124.6 115.3zM101.9 179.9L102.2 178.4L103.9 177.8L104.9 178.9L104.4 180.1L103.0 180.5zM105.9 178.9L106.5 179.7L106.7 180.5L105.2 180.9L104.2 180.1L104.4 179.2zM113.5 174.4L113.8 175.4L113.5 176.2L112.6 176.1L112.1 175.6L112.7 174.5zM95.9 171.2L95.9 170.8L96.4 170.0L97.1 170.3L97.2 171.0L96.4 171.9zM143.1 135.2L142.4 135.8L141.4 135.4L141.4 134.3L142.1 133.8L143.2 134.1zM151.9 115.9L152.2 116.5L151.8 117.3L151.1 117.6L150.6 116.9L150.7 116.0zM155.5 113.1L155.5 112.0L156.3 110.9L157.3 111.5L157.9 112.6L157.2 113.6zM109.4 164.7L109.9 163.9L111.4 163.9L112.3 165.3L111.3 165.8L110.3 166.1zM68.4 108.5L72.5 105.9L77.7 104.5L80.5 101.2L83.8 101.8L84.4 105.9L88.3 107.3L90.4 110.6L88.3 113.1L87.1 116.4L89.0 119.7L87.1 123.0L83.0 124.4L79.1 126.4L75.0 125.8L71.1 124.4L68.4 121.7L69.8 118.4L67.8 115.1L69.2 111.8zM63.0 99.0L64.5 98.6L65.5 100.0L64.8 101.4L63.7 101.6L62.4 100.2zM88.6 100.2L88.5 101.4L87.5 102.1L86.3 101.3L86.5 100.1L87.4 99.5zM57.7 85.5L59.4 85.1L60.2 85.7L60.1 87.4L58.2 87.2L57.7 86.7zM51.6 104.4L52.2 103.1L52.7 102.9L53.6 103.4L53.6 104.5L52.4 105.2zM45.0 103.6L44.7 104.6L43.0 105.0L42.8 104.1L43.2 102.6L44.2 103.0zM38.6 97.0L40.5 96.5L41.4 96.9L40.8 99.1L39.8 99.1L38.2 98.1zM44.7 120.5L44.4 119.4L44.9 118.7L46.0 119.1L46.0 119.9L45.6 120.5zM69.1 133.0L68.6 134.3L67.2 134.1L67.0 133.3L67.1 132.3L67.9 131.7zM62.0 142.3L60.9 141.8L61.7 140.1L63.0 140.3L64.2 141.4L63.5 142.5zM65.9 136.5L66.8 137.4L66.2 138.5L65.1 138.6L64.5 137.7L64.9 136.4zM55.9 138.1L56.9 138.7L56.9 139.7L55.4 140.0L54.6 139.3L55.0 138.1zM79.0 132.0L79.9 132.0L80.2 133.8L79.5 134.2L78.3 133.8L78.0 132.8zM87.0 133.1L86.2 133.8L85.4 133.8L85.0 133.2L85.5 132.4L86.2 132.4zM83.0 136.0L83.6 136.8L83.8 137.4L82.7 137.8L81.8 137.0L82.0 136.2zM76.4 147.4L76.5 146.3L77.3 145.6L78.6 145.7L79.0 146.9L77.6 147.9zM70.6 148.0L72.2 148.0L72.6 148.8L72.6 149.9L71.1 149.9L70.6 149.0zM67.5 148.9L67.0 149.9L65.9 149.8L65.2 148.8L65.8 147.7L66.7 148.1zM60.2 148.7L60.7 149.8L59.8 150.5L58.6 150.5L58.1 149.6L59.2 148.5zM56.4 155.1L55.7 156.5L54.4 156.5L53.8 155.0L54.3 154.0L55.7 153.6zM52.2 152.9L52.3 154.1L51.2 154.7L50.5 153.9L50.3 152.6L51.2 152.5zM55.6 157.6L57.1 157.9L57.4 158.7L57.3 159.5L55.6 159.7L55.3 158.5zM43.4 160.3L44.5 159.8L45.5 160.6L45.6 161.5L44.3 162.0L43.6 161.5zM85.6 152.8L84.3 152.3L83.6 150.9L85.0 150.0L86.0 150.3L86.6 151.7zM80.9 153.7L79.6 153.7L79.4 152.0L80.3 151.6L81.4 151.8L81.4 153.2zM93.9 150.7L93.8 149.3L94.4 148.5L96.0 148.8L96.0 150.3L95.1 150.6zM90.1 144.0L91.3 143.5L91.7 144.1L91.9 145.0L91.2 145.1L90.3 144.7zM105.0 108.4L105.7 109.7L105.5 110.7L104.3 111.1L103.3 110.0L103.7 109.1zM111.3 114.1L112.1 113.2L113.0 113.2L113.4 114.7L112.3 115.6L111.4 114.8zM107.9 121.8L107.3 120.5L107.6 119.4L109.2 119.1L109.5 120.3L109.0 121.4zM104.8 125.2L103.9 125.8L103.1 125.3L102.8 124.0L103.9 123.9L104.8 124.6zM110.1 91.5L111.2 91.7L112.1 92.5L111.3 93.8L110.2 93.6L109.6 92.4zM107.1 98.5L106.1 98.4L106.2 97.4L107.2 96.9L107.5 97.4L107.6 98.1zM98.5 113.1L97.9 114.1L96.8 114.4L95.9 113.8L96.0 112.8L97.4 112.1zM91.4 116.5L92.3 116.1L93.7 116.7L93.9 117.5L92.7 118.3L92.1 118.0zM103.6 86.4L104.3 85.5L105.3 86.0L105.5 86.6L104.9 87.5L104.0 86.9zM93.0 133.5L97.0 131.5L100.0 132.5L104.0 131.5L108.0 134.0L114.0 135.0L120.0 137.5L117.0 143.0L114.5 150.0L113.0 156.0L110.0 157.0L108.5 151.0L105.0 147.5L101.0 147.0L98.0 145.0L94.0 141.5zM18.9 115.2L17.8 115.8L16.2 115.6L16.2 114.9L17.1 114.3L17.8 114.5zM31.9 139.1L33.8 139.0L35.9 139.2L36.5 139.9L35.1 140.6L33.0 140.8L31.9 140.3L32.0 139.9zM44.0 102.7L45.6 102.5L46.8 103.4L45.8 104.1L44.3 104.3L43.6 103.2zM53.3 103.9L52.9 104.5L51.6 104.2L51.8 102.8L52.9 101.9L53.9 102.6zM65.2 116.3L66.3 117.3L65.8 117.8L64.1 118.0L63.3 117.6L63.5 116.8zM56.4 139.0L55.3 139.2L54.5 138.8L54.5 137.8L55.8 137.1L56.6 137.7zM61.5 139.0L62.3 139.8L61.7 140.7L60.3 140.8L60.0 140.1L60.5 138.8zM65.2 139.4L63.9 139.1L64.7 137.4L65.6 137.2L66.8 137.8L66.3 139.5zM68.6 131.5L68.6 132.2L68.0 133.2L67.0 132.9L66.2 132.5L67.1 131.3zM59.2 148.4L60.2 147.6L61.4 148.5L61.2 149.4L59.9 149.8L59.1 149.5zM53.1 152.3L52.5 153.6L51.3 153.4L50.8 152.6L51.3 151.5L52.3 151.8zM56.7 154.2L58.1 155.1L57.8 156.4L56.1 156.9L55.1 155.9L55.4 154.5zM67.5 151.9L67.0 152.7L65.6 153.1L64.8 152.2L65.3 151.1L66.3 150.9zM70.6 150.8L69.6 149.9L70.0 148.7L71.0 148.8L71.5 149.3L71.8 150.4zM74.4 160.3L73.1 160.7L72.2 159.4L73.2 158.4L74.4 158.3L74.7 159.1zM63.8 160.6L64.4 159.7L65.4 160.1L65.8 161.0L65.0 162.0L63.7 161.9zM49.5 161.3L48.3 162.2L47.3 161.4L47.0 160.6L48.2 160.0L48.9 160.2zM45.4 165.4L45.7 166.5L44.5 167.5L43.4 167.2L43.0 165.9L44.2 164.7zM40.1 165.2L38.8 166.2L37.1 165.7L36.3 164.3L37.5 162.7L39.5 163.3zM34.6 167.3L36.0 166.3L36.8 166.6L37.5 168.4L36.2 169.0L35.0 168.9zM40.4 170.0L41.1 169.1L42.7 170.1L42.3 171.3L41.4 172.0L40.2 171.3zM45.8 172.6L44.1 172.5L44.2 171.4L44.9 170.4L45.9 170.6L46.0 171.5zM31.6 171.8L30.4 171.3L30.2 170.1L31.2 169.7L32.3 170.1L32.4 171.2zM27.6 174.0L28.5 173.4L29.5 173.6L29.3 174.9L28.4 175.3L27.8 175.1zM36.4 175.8L36.1 174.4L37.3 173.2L38.4 173.3L39.1 175.1L38.0 175.5zM40.5 178.2L40.1 177.3L40.6 176.4L42.0 176.8L42.7 177.6L41.9 178.5zM55.7 170.1L55.0 169.2L55.9 167.8L57.0 168.2L57.8 169.2L57.0 170.3zM75.6 167.8L74.4 167.7L74.0 166.6L74.6 165.9L76.1 166.0L76.4 167.2zM48.5 176.0L50.0 175.5L50.8 176.2L50.4 177.4L49.0 177.9L48.3 177.0zM23.5 176.9L25.1 177.4L25.2 178.4L24.8 179.4L23.1 179.0L22.7 178.0zM78.7 137.7L77.9 138.9L76.3 138.9L76.3 137.5L76.4 136.2L78.3 136.5zM76.8 131.6L76.1 132.5L75.3 132.5L75.0 131.4L75.6 130.4L76.7 131.0zM36.0 168.1L35.1 167.2L35.4 165.7L36.8 165.2L37.2 166.7L37.2 168.1zM40.6 167.4L41.9 167.2L42.5 167.9L42.0 169.0L40.8 169.5L40.5 168.4zM44.3 170.9L44.0 170.0L45.1 169.5L46.0 169.6L46.3 170.9L45.2 171.8zM32.4 172.3L31.2 172.2L30.5 171.5L30.7 170.4L31.8 169.9L32.6 170.9zM39.3 173.0L40.8 173.3L40.8 174.4L40.0 175.3L39.1 175.0L38.7 173.8zM22.7 177.9L24.0 177.9L24.8 179.1L23.6 180.5L22.2 180.1L22.0 178.6zM28.9 175.6L27.9 176.2L26.7 175.9L26.9 174.7L27.9 173.7L29.1 174.4zM30.9 183.5L31.0 181.6L32.7 181.1L33.8 182.3L34.1 183.6L32.3 184.5zM28.4 188.8L26.8 188.0L27.2 185.4L28.5 185.7L30.4 186.3L30.2 188.5zM35.6 186.3L35.1 187.0L34.1 187.5L33.6 186.5L33.8 185.1L35.0 185.5zM39.9 185.7L40.2 184.0L41.7 183.6L43.0 184.0L42.6 185.6L41.1 186.1zM44.1 178.6L45.5 178.3L46.4 179.3L45.8 180.2L44.9 180.6L43.9 180.2zM45.3 184.6L46.1 184.0L47.2 184.2L47.7 185.2L46.8 186.2L46.0 185.7zM50.5 188.2L50.5 186.6L52.2 186.4L53.3 187.4L53.0 188.7L51.3 189.5zM35.3 190.4L36.0 189.4L37.1 189.9L37.3 191.2L36.3 192.0L35.3 191.2zM32.9 195.2L33.5 196.0L32.7 197.0L32.0 197.0L31.2 196.0L31.9 194.9zM28.6 200.5L28.1 199.5L28.8 198.7L30.1 198.6L30.7 200.2L29.5 200.8zM36.0 199.5L37.2 199.9L37.0 201.1L35.9 202.0L35.0 201.5L35.2 199.9zM45.7 199.4L44.6 199.2L44.3 198.1L44.8 197.3L45.8 197.6L46.1 198.5zM49.9 200.2L49.6 201.1L48.2 200.9L47.8 199.9L48.6 198.5L49.9 198.8zM42.4 209.0L41.1 208.8L40.9 207.7L41.8 206.9L42.8 207.5L42.9 208.6zM45.6 204.1L46.1 204.9L46.1 205.9L44.8 206.3L44.1 205.4L44.1 204.3zM33.4 211.9L33.7 210.7L34.5 209.9L35.4 210.9L35.4 212.1L34.3 212.2zM47.1 212.6L47.2 210.9L48.7 210.3L49.3 211.7L49.5 212.9L48.1 213.1zM41.3 216.6L40.5 217.5L39.1 217.3L38.2 215.9L39.4 215.3L40.7 215.4zM34.2 220.4L33.1 220.7L31.4 219.9L31.8 218.6L33.1 218.0L34.3 219.0zM36.9 219.6L37.5 219.0L38.6 219.5L38.5 221.0L37.2 221.3L36.7 220.4zM51.4 217.2L51.5 218.4L50.7 218.8L49.5 218.8L49.1 217.4L50.0 216.5zM55.1 221.9L54.4 220.6L55.3 220.1L56.4 220.3L56.7 221.4L56.2 222.0zM66.2 214.9L66.9 215.8L67.1 217.2L65.9 217.8L65.4 216.8L65.3 215.7zM60.6 224.8L60.4 223.5L61.6 222.9L62.6 223.5L62.6 224.2L61.7 225.2zM49.0 222.0L48.4 220.8L49.4 220.1L50.3 219.7L50.5 221.2L50.1 221.9zM53.2 224.9L54.0 225.9L53.5 227.1L51.7 227.1L51.6 226.0L52.2 224.8zM51.5 235.0L50.9 234.2L51.0 232.8L52.3 232.6L52.8 233.3L53.1 234.4zM20.7 236.5L20.1 235.6L20.2 234.9L21.4 233.8L22.1 235.0L21.8 236.0zM17.2 238.8L17.3 238.0L17.7 237.6L18.5 237.6L18.8 238.4L18.5 239.1zM58.8 180.7L58.1 179.2L59.0 178.3L60.6 178.2L60.9 179.9L59.7 181.7zM70.8 189.6L71.1 190.6L70.8 191.9L69.7 191.8L68.7 191.0L69.5 189.8zM66.8 169.0L66.2 169.9L64.6 170.2L64.2 169.1L65.0 167.6L66.0 168.1zM74.6 166.4L75.7 166.6L76.3 167.5L75.8 168.2L74.8 168.4L74.2 167.7zM73.5 176.1L73.3 174.7L74.0 173.9L75.4 174.3L75.5 175.3L74.9 175.9zM67.0 200.2L66.2 201.1L65.1 200.7L65.1 199.2L66.2 198.5L67.0 199.5zM26.8 184.0L28.8 182.1L30.3 180.3L32.1 182.8L32.0 186.2L31.5 187.9L28.8 188.7L27.5 185.6zM95.9 150.1L95.2 151.0L94.2 150.1L93.8 149.2L95.2 148.7L95.8 149.2zM84.0 152.9L82.3 152.9L82.3 152.0L83.4 150.8L85.4 151.3L85.4 152.3zM85.1 157.1L86.4 156.9L87.2 157.8L87.0 158.9L85.6 159.4L85.0 158.4zM74.5 158.8L74.0 159.5L73.0 159.9L72.3 159.0L72.5 157.9L73.5 157.6zM69.1 152.6L70.2 152.6L70.6 153.9L69.8 154.7L69.1 154.3L68.2 153.1zM72.2 148.8L73.2 148.7L73.6 150.2L73.0 150.7L71.5 150.6L71.2 149.5zM64.4 152.1L63.9 150.6L64.7 150.3L65.9 150.5L66.4 151.4L65.2 152.3zM61.9 150.1L60.8 151.1L59.5 150.6L59.5 149.8L60.2 148.7L61.0 149.0zM57.0 157.1L57.7 158.4L56.8 159.4L55.0 159.5L54.3 157.4L55.5 156.7zM51.0 154.9L50.1 153.3L51.1 152.5L52.2 152.3L52.9 153.4L52.0 154.5zM64.4 162.5L64.1 161.8L64.3 160.6L66.1 161.0L66.3 162.0L65.3 162.9zM65.5 168.6L66.0 167.6L67.2 167.8L67.9 168.6L66.9 170.0L65.8 169.3zM73.9 175.9L74.6 175.0L76.1 175.1L77.2 175.8L76.3 177.3L74.9 177.4zM93.9 172.0L93.3 170.6L93.9 169.5L95.2 169.8L95.2 171.1L94.6 171.9zM93.9 161.4L94.7 162.2L94.5 163.5L93.5 163.8L92.1 162.9L92.3 161.6zM112.7 177.3L111.5 177.0L111.2 175.6L111.9 175.0L113.1 175.3L113.8 176.1zM102.7 177.3L103.0 178.2L102.5 179.4L101.1 179.4L100.9 178.5L100.9 177.5zM105.4 180.4L104.9 178.9L106.3 178.2L107.9 179.3L107.4 180.6L106.2 181.4zM91.9 179.6L91.4 181.2L90.2 181.4L89.5 180.3L89.9 178.6L91.2 178.7zM87.1 186.3L87.7 185.0L88.6 184.9L89.6 185.4L89.0 186.5L88.0 187.0zM81.9 192.5L81.3 193.8L80.4 193.6L79.9 192.8L80.1 191.6L81.1 191.5zM70.0 192.1L68.7 192.2L68.5 191.1L68.9 190.4L70.3 190.0L71.0 190.9zM60.5 175.3L60.5 177.6L60.1 179.2L58.6 179.3L57.8 177.9L57.5 176.3L57.9 174.8L59.6 174.3zM54.1 183.5L55.0 182.7L55.6 182.4L56.4 183.7L55.9 184.5L54.8 184.9zM58.2 190.1L58.5 191.3L57.8 192.3L56.4 191.9L56.6 190.7L56.8 190.0zM62.1 200.2L61.0 200.5L59.8 200.3L60.2 198.5L61.9 197.9L62.7 198.6zM65.8 200.9L65.5 200.0L66.2 199.2L67.5 199.6L67.8 200.6L66.6 201.1zM54.4 200.0L54.1 201.0L52.7 201.0L51.8 200.6L52.0 199.2L53.5 198.9zM53.6 187.8L53.3 189.0L52.0 189.3L51.4 188.3L51.5 187.0L52.5 187.1zM73.4 204.5L74.6 204.7L74.2 205.9L73.2 206.8L72.2 205.7L72.7 204.8zM68.5 212.6L67.6 213.0L66.4 212.6L66.4 212.0L67.0 211.2L68.3 211.5zM79.9 200.9L79.4 200.3L79.6 199.7L80.4 199.5L80.8 200.0L80.7 200.7zM33.8 226.9L37.3 227.1L38.9 228.0L39.9 229.4L37.4 231.1L35.3 231.6L33.4 230.7L32.4 228.9zM41.1 233.1L38.9 233.1L39.1 231.0L41.1 229.6L43.2 229.6L44.6 230.9L44.6 232.4L43.5 233.4zM37.2 232.4L38.4 233.7L39.3 234.7L39.2 236.1L37.4 237.0L35.6 236.2L34.3 234.3L35.2 233.0zM32.3 238.8L33.1 238.2L34.6 238.6L34.5 240.0L33.8 240.9L32.1 240.0zM44.2 228.9L43.9 228.0L45.0 227.4L46.6 227.6L46.3 228.4L45.2 229.7zM12.3 237.0L11.6 236.3L12.1 235.2L13.3 234.7L13.8 235.4L13.5 236.7zM32.2 199.3L31.3 198.3L30.8 196.5L32.6 196.5L33.4 197.0L33.4 198.0zM27.2 199.4L27.8 198.6L29.1 199.0L29.6 200.0L28.8 200.7L27.8 200.7zM35.7 200.6L36.5 199.4L37.7 199.7L37.7 200.8L37.2 201.7L36.1 201.3zM44.1 199.1L44.1 198.1L45.5 197.9L46.3 198.4L45.8 199.7L44.9 199.9zM41.6 194.9L41.6 196.1L41.3 197.3L40.3 197.0L39.6 196.1L39.9 195.0zM49.8 201.9L49.1 202.2L48.0 201.9L48.0 200.9L48.7 200.1L49.7 200.4zM41.9 208.0L42.3 208.9L41.9 209.5L40.8 209.6L40.4 208.9L41.1 207.9zM45.5 210.7L46.5 210.9L47.1 212.1L46.7 212.8L45.4 212.9L44.7 211.9zM49.1 211.6L49.9 211.4L50.8 212.7L50.3 213.7L48.9 213.8L48.3 212.4zM40.0 215.3L41.1 216.2L40.5 217.5L39.6 217.2L38.9 216.4L39.2 215.5zM32.5 219.4L32.8 218.0L34.0 217.0L35.2 217.9L35.4 219.4L33.8 220.1zM38.1 220.8L37.0 221.9L36.2 221.7L35.6 220.3L36.4 219.9L37.6 219.8zM50.9 219.2L50.0 218.7L49.5 217.2L50.8 216.5L52.1 217.2L52.8 218.5zM54.2 219.7L54.7 221.3L53.7 222.0L52.6 221.8L52.0 220.5L52.7 219.6zM56.4 218.7L57.3 219.5L57.6 220.9L56.5 221.4L55.1 220.6L55.3 219.5zM62.8 224.7L62.7 226.0L61.8 226.3L60.5 226.3L60.9 224.9L61.4 224.4zM66.0 215.1L66.5 216.2L65.6 217.2L64.8 217.2L64.5 216.2L65.0 215.4zM53.8 225.6L53.9 226.8L52.2 227.4L51.7 226.2L51.9 225.2L52.8 224.7zM47.6 227.6L48.6 227.6L49.0 228.2L49.0 229.3L47.6 229.7L46.8 228.5zM51.9 230.6L53.1 230.9L53.1 233.0L52.2 233.2L50.5 233.3L50.7 231.7zM43.4 236.7L44.8 235.3L45.9 235.0L46.7 237.1L46.0 238.2L44.4 237.4zM50.6 238.9L50.2 240.0L49.2 239.7L48.3 239.2L48.9 238.3L49.9 237.7zM40.6 243.1L39.0 243.4L38.6 241.8L38.7 240.7L40.3 240.2L41.3 241.5zM32.1 243.9L30.9 243.4L31.4 241.8L32.2 241.4L33.8 242.1L33.7 243.7zM48.2 243.5L47.2 243.4L46.8 242.2L47.8 241.5L49.0 242.1L49.1 243.2zM56.1 243.5L55.0 244.7L53.8 244.1L53.6 242.8L54.7 242.2L55.5 242.6zM53.7 237.0L52.7 237.8L51.7 237.0L51.6 235.7L52.5 235.4L53.3 236.1zM41.6 248.0L40.6 248.2L40.2 246.5L41.0 246.3L42.3 246.6L42.6 247.5zM45.7 247.0L46.0 246.0L47.3 246.6L47.8 247.2L47.1 248.2L45.9 247.9zM61.2 248.0L60.1 248.3L59.0 247.3L59.0 246.3L60.7 245.8L61.2 246.7zM56.7 203.7L57.0 202.7L58.3 202.5L58.7 203.1L58.7 204.1L57.4 204.6zM66.5 200.1L67.5 200.8L67.0 202.1L65.6 202.5L65.0 201.3L65.2 200.3zM69.0 191.4L69.0 190.3L70.1 189.7L70.9 190.3L71.2 191.2L69.7 192.0zM99.9 121.0L101.3 118.2L102.2 119.7L102.3 122.3L101.9 125.7L101.5 127.2L100.1 126.6L99.4 122.7z"/>
</g>
<use href="#ov"/>
</g>
<g transform="translate(188.1,0)">
<polygon points="103.6,21.6 105.1,23.5 107.4,26.3 109.8,29.5 111.2,32.4 112.8,35.4 114.9,38.6 117.3,38.5 118.7,40.4 119.3,43.6 120.6,45.5 120.2,47.6 118.2,48.8 117.0,50.7 119.2,53.7 121.0,57.5 122.9,61.2 124.4,63.0 128.9,63.4 136.4,62.3 142.0,61.6 146.7,62.6 144.8,67.3 142.0,71.1 139.2,74.8 141.1,78.6 143.9,82.4 147.7,85.2 154.2,87.1 158.9,88.9 160.8,93.6 162.7,98.3 165.5,102.1 167.4,104.1 163.6,106.0 160.8,108.8 158.9,112.6 157.1,116.3 155.2,120.1 152.4,124.8 151.4,128.5 148.6,132.3 145.8,135.1 142.0,136.1 136.4,137.0 130.8,136.1 126.1,135.1 122.3,137.0 119.5,140.8 116.7,144.5 114.8,148.3 112.9,153.0 113.0,157.0 115.8,160.0 119.5,164.1 122.4,168.8 120.5,173.5 117.7,176.3 114.8,180.1 112.0,183.8 108.3,185.7 102.6,186.7 97.0,186.7 94.2,188.5 91.4,192.3 88.5,196.1 85.7,199.8 82.9,203.6 78.2,205.5 73.5,206.4 70.7,211.1 70.7,215.8 67.9,220.5 65.0,224.2 61.3,227.1 58.5,232.7 57.5,238.3 59.0,242.4 63.9,246.1 61.1,249.9 56.4,248.9 51.7,249.9 48.9,251.8 43.2,249.9 37.6,248.9 32.0,248.0 26.3,247.1 20.7,245.2 16.0,243.3 12.2,240.5 9.4,236.7 7.5,233.0 10.3,229.2 14.1,226.4 16.9,222.6 15.0,217.9 16.9,212.3 19.7,207.6 23.5,203.8 22.6,200.1 19.7,195.4 17.9,190.7 14.1,185.0 9.4,180.3 6.6,175.6 5.6,172.0 6.6,168.9 10.3,165.2 14.1,162.4 11.3,160.5 10.1,156.9 11.3,154.1 14.1,151.9 16.3,149.6 18.6,150.2 22.0,149.6 25.4,148.5 27.1,146.2 27.6,143.4 28.2,139.5 29.3,136.1 30.4,133.3 28.2,132.7 26.5,131.0 25.9,128.2 24.8,124.8 22.0,123.1 18.0,121.4 14.7,120.3 11.8,119.2 14.7,115.8 18.0,113.0 21.4,111.3 25.4,110.1 26.5,107.9 23.1,106.2 20.9,103.4 20.3,100.0 18.8,97.4 17.9,93.6 15.0,90.8 12.2,89.8 10.3,87.0 8.0,83.7 9.4,81.4 10.8,79.0 8.9,76.2 8.0,73.4 7.0,71.0 8.9,69.1 12.2,67.7 15.5,66.8 16.4,64.4 15.5,61.1 16.4,58.3 17.9,55.0 20.2,52.7 22.1,50.3 21.1,48.0 23.5,46.1 27.3,46.6 30.1,45.2 32.0,47.5 32.9,50.3 33.4,53.6 33.8,56.9 33.8,60.2 34.3,63.0 37.6,62.6 41.4,63.0 44.2,62.1 45.2,60.2 48.5,57.9 51.7,55.0 55.0,52.2 58.8,49.4 60.2,52.2 61.6,55.0 62.4,56.3 64.0,52.2 66.3,49.4 69.1,46.9 72.0,47.2 75.2,47.8 78.5,46.6 80.6,44.1 81.6,42.3 80.2,39.4 81.4,37.6 81.8,33.8 83.5,31.4 85.8,29.1 89.1,28.2 93.3,27.7 94.7,25.3 96.6,23.5 99.9,22.5" fill="#c6e7fa"/>
<g clip-path="url(#clip)">
<path fill="#fbd29c" d="M12.8 73.5L11.1 72.5L10.0 69.2L11.4 68.4L13.6 67.6L14.9 69.1L15.2 70.7L14.3 73.2zM9.7 76.1L10.2 74.3L12.1 74.2L12.9 76.7L13.6 79.4L11.9 82.7L10.2 82.0L8.9 80.6zM33.4 70.9L32.7 69.1L36.4 68.2L39.2 68.3L42.4 69.3L44.8 70.2L45.1 72.1L42.4 73.2L40.0 74.1L37.0 73.9L34.6 74.2L32.0 72.2zM57.3 69.7L59.4 67.5L61.9 68.0L65.5 69.1L65.0 71.5L64.5 73.4L61.7 73.0L59.4 72.5zM46.9 89.5L46.4 87.8L49.2 85.9L52.7 84.5L56.8 86.4L55.7 89.2L53.8 89.5L49.3 91.2zM44.0 86.5L42.3 84.7L42.3 83.4L44.4 81.8L46.6 82.8L47.7 83.9L47.5 85.0L45.5 86.2zM46.9 94.4L45.4 95.5L42.0 96.4L40.6 94.8L40.0 90.9L43.2 89.4L46.6 90.0L46.7 92.1zM32.3 101.1L29.9 100.7L25.6 100.1L24.6 97.6L27.9 95.2L30.0 93.6L33.4 96.4L33.6 97.7zM37.7 104.1L34.3 104.4L32.5 102.9L32.9 101.3L34.5 100.7L37.4 99.9L39.9 101.2L39.6 103.7zM15.2 93.5L14.3 91.6L14.0 89.6L14.7 87.4L16.1 86.3L17.6 88.1L17.8 91.7L16.6 94.1zM63.7 91.7L63.3 88.0L65.0 87.0L67.4 85.1L70.2 88.4L68.7 92.4L68.1 94.8L64.9 94.5zM65.3 102.0L66.7 105.5L64.4 107.4L62.5 106.6L61.0 109.0L55.8 107.8L55.2 104.3L55.3 102.3L55.6 101.9L59.1 98.4L60.4 99.4L65.0 100.2zM24.5 103.5L26.1 105.7L24.5 108.1L22.6 108.1L19.8 106.5L19.3 104.2L20.6 102.7L23.2 102.4zM63.2 52.6L69.2 46.5L80.0 43.5L80.0 75.1L75.2 73.6L70.7 69.1L66.2 64.6L61.7 60.1zM45.1 61.6L49.6 55.6L57.9 50.3L61.7 56.3L60.2 62.3L63.2 67.6L58.6 69.1L54.1 64.6L49.6 63.8zM82.6 31.5L88.6 29.3L95.3 27.8L96.1 34.5L93.1 40.6L88.6 45.1L84.8 47.3L82.6 51.1L84.1 57.1L88.6 60.1L91.6 64.6L92.3 70.6L94.6 75.2L92.3 79.7L88.6 81.2L84.1 79.7L79.5 76.7L75.0 75.2L70.5 72.1L66.8 66.1L63.8 60.1L63.0 55.6L66.0 51.1L70.5 48.1L76.5 46.6L81.1 44.3L80.3 39.1zM100.6 34.1L102.1 31.8L102.8 30.4L104.3 31.2L105.0 31.9L106.4 34.5L105.7 35.5L106.1 38.8L104.2 41.2L103.8 42.1L102.0 40.3L101.5 38.7zM94.4 60.5L91.4 59.5L90.8 57.3L90.8 52.8L94.9 52.8L96.4 53.4L98.6 55.3L98.4 60.1zM99.2 56.5L100.8 54.5L104.0 52.8L105.4 53.9L108.8 56.9L108.2 59.1L108.8 61.6L107.2 63.3L102.1 64.6L102.3 62.8L99.6 60.2L98.1 58.6zM106.4 43.9L109.5 44.1L110.9 45.0L110.9 48.1L109.0 49.8L106.8 48.8L105.8 47.5L105.5 46.3zM115.6 73.0L116.2 77.2L113.4 77.7L111.0 76.7L110.3 76.0L109.7 73.3L112.1 70.9L114.7 71.4zM121.7 76.4L119.6 75.3L121.2 72.9L122.5 73.1L125.1 74.1L125.6 74.7L125.9 76.5L122.8 77.9zM115.7 89.7L113.6 90.1L109.7 90.8L109.5 89.8L109.1 88.0L110.4 87.1L112.3 86.5L115.8 87.6zM81.8 85.5L81.2 88.4L79.8 91.1L77.1 88.7L77.1 85.4L77.3 81.4L78.9 80.6L81.2 82.9zM60.8 70.7L61.0 69.5L62.2 69.6L63.1 73.6L63.3 74.6L63.7 76.9L62.3 80.5L61.6 81.6L59.9 81.0L60.1 78.2L59.2 74.3L60.1 72.3zM130.9 77.3L133.7 77.9L135.3 80.3L132.0 82.3L129.5 82.3L127.5 81.1L126.9 79.7L128.6 76.6zM100.7 52.2L102.8 52.2L107.8 53.1L108.4 54.1L108.2 56.5L107.6 58.4L104.4 61.2L102.9 60.3L99.5 60.7L98.2 58.4L97.3 56.5L99.5 54.1zM120.0 92.6L116.3 92.4L112.3 92.9L108.7 92.4L106.4 90.1L109.4 87.4L109.6 85.3L116.0 84.3L120.4 85.2L122.4 85.6L123.7 89.2L120.4 91.1zM125.5 74.5L125.4 77.1L124.1 78.1L122.7 79.9L119.9 78.2L118.1 76.3L120.2 73.4L122.9 73.5zM104.3 98.5L101.4 97.5L98.7 96.8L99.8 94.5L98.5 90.6L102.7 90.1L105.7 89.4L107.7 89.6L110.7 91.2L109.7 94.3L108.6 96.2L106.6 96.9zM125.2 88.1L128.3 87.9L129.9 89.5L130.9 91.2L130.1 92.3L128.2 94.2L125.9 93.1L125.5 90.4zM149.4 90.7L148.4 92.1L147.4 93.5L146.7 95.2L143.3 96.2L141.4 94.9L137.7 93.7L138.7 92.1L138.7 90.6L140.5 88.4L143.5 88.8L147.0 89.8zM161.9 96.1L159.7 96.0L157.1 97.2L153.0 98.5L151.4 96.3L148.5 94.2L149.3 93.2L149.6 90.5L154.9 89.5L157.5 90.0L158.7 89.8L160.7 91.6zM152.1 100.2L153.5 101.0L154.9 105.0L153.4 106.8L151.3 109.1L149.8 109.6L147.3 108.0L145.7 106.9L145.5 102.2L146.8 101.8L148.1 99.2L149.3 98.4zM144.9 116.7L147.4 116.3L148.0 114.8L150.8 116.4L151.1 118.3L151.4 122.4L150.4 124.1L149.0 126.3L148.3 127.3L144.6 125.3L144.1 121.3L145.0 119.7zM124.9 95.2L127.4 94.2L133.4 95.8L132.6 97.7L132.7 100.8L132.3 104.7L128.5 104.0L124.9 105.2L122.2 103.9L118.5 101.1L119.7 97.6L120.8 95.3zM112.1 98.9L113.5 97.6L117.7 97.2L120.1 99.9L118.2 102.8L115.4 104.4L111.4 103.6L111.3 102.2zM124.5 112.5L121.9 114.1L117.9 113.5L117.2 110.1L118.9 108.0L120.3 107.5L124.6 107.9L126.5 110.5zM137.7 118.5L136.5 121.2L134.4 120.7L133.2 116.5L133.9 114.5L134.9 112.1L137.4 113.1L138.3 115.5zM104.6 158.3L103.4 157.4L103.4 155.7L104.7 154.0L106.9 155.0L107.6 156.0L108.2 157.9L107.0 158.0zM102.5 128.0L99.5 129.0L97.9 127.3L96.8 125.5L96.3 122.7L99.4 119.5L101.6 121.6L102.3 123.7zM125.2 125.3L125.4 128.5L124.5 130.4L122.1 131.5L119.4 131.8L118.3 126.2L120.6 124.8L123.1 124.1zM138.2 111.7L140.2 113.4L142.1 114.6L140.7 117.8L137.3 117.7L134.9 118.3L131.0 117.9L128.8 116.1L130.0 114.1L130.8 113.2L133.9 112.0L136.1 111.6zM146.3 125.6L145.2 124.0L144.8 120.2L145.0 117.4L147.9 116.0L150.0 116.9L150.7 121.1L150.3 124.8zM116.0 124.4L116.5 127.3L114.9 129.4L112.5 130.6L110.0 128.8L109.7 126.4L111.0 123.6L113.3 123.1zM105.7 120.2L104.0 118.5L103.3 115.0L105.5 112.9L107.1 112.6L110.4 114.1L110.5 117.8L108.5 119.0zM107.0 157.3L114.7 164.7L118.8 172.4L114.7 180.5L117.0 183.1L109.8 186.3L98.8 187.5L97.7 185.1L94.9 179.4L89.2 173.0L98.1 163.9L98.5 158.3zM55.5 87.1L59.8 91.5L57.0 94.3L56.4 96.1L52.1 99.2L46.8 99.3L41.8 97.3L38.3 93.0L41.5 90.5L43.5 89.1L46.2 87.6L51.7 85.9zM68.4 89.7L68.5 91.1L66.4 92.8L63.4 93.8L60.5 92.1L58.6 91.4L57.3 90.0L58.8 87.1L59.2 86.0L61.8 86.7L66.2 87.1L66.5 87.7zM91.2 88.6L94.4 89.3L95.6 90.6L97.2 93.4L95.2 96.7L95.4 99.3L92.6 101.0L84.8 99.4L84.1 97.3L78.8 93.1L79.7 92.4L85.1 90.6zM74.4 89.0L79.1 87.1L80.9 87.0L82.4 90.8L81.8 93.3L80.0 94.5L77.4 95.1L74.0 92.5zM77.2 100.2L77.2 102.2L76.3 104.0L74.2 104.3L71.3 103.1L71.3 100.5L73.1 99.8L74.7 98.6zM112.5 91.6L115.1 94.7L116.4 95.0L119.4 98.6L115.8 102.9L113.1 104.8L110.0 104.2L104.4 103.0L102.3 101.4L102.4 99.1L105.4 95.4L106.3 93.6zM44.9 109.2L45.5 114.8L45.8 116.5L44.9 118.0L44.5 121.6L41.6 121.7L41.0 119.4L40.6 117.9L39.5 113.2L40.3 111.9L41.2 108.8L43.2 108.7zM53.6 103.9L56.9 102.8L59.2 103.2L63.9 103.3L63.5 106.5L62.6 109.1L61.7 112.8L60.2 112.6L57.2 113.9L54.1 113.3L51.8 110.4L52.2 106.6zM47.3 118.9L48.2 119.3L50.9 121.5L54.4 122.7L53.9 124.3L52.3 127.9L48.8 127.8L45.5 127.2L43.4 126.5L43.2 125.7L43.2 122.5L45.0 121.1zM90.0 134.2L91.2 139.8L88.6 143.7L86.4 146.5L84.0 145.3L80.3 144.5L80.7 141.9L79.3 137.2L80.4 132.6L83.0 131.4L84.5 130.6L88.1 134.7zM84.9 153.8L82.2 158.6L77.5 158.1L73.2 156.5L71.4 156.5L68.0 154.0L69.5 149.0L71.7 148.0L76.0 146.8L80.7 148.4L86.8 149.8L84.5 152.9zM44.4 141.2L41.2 140.9L40.6 138.4L39.3 136.6L38.3 134.4L40.3 132.5L44.3 132.8L47.4 131.4L50.4 133.4L51.8 135.9L50.0 136.9L49.1 139.7zM51.3 152.6L50.3 152.1L48.7 149.4L47.7 146.6L48.4 145.2L51.5 145.1L56.8 143.4L59.8 145.3L59.5 147.6L59.2 149.4L57.3 152.8L54.9 151.7zM77.0 157.4L80.1 153.6L80.8 153.5L83.9 152.7L88.7 154.8L88.2 157.2L89.9 161.7L86.9 161.8L84.7 164.1L82.6 164.1L80.7 162.5L77.9 159.9zM93.2 161.5L93.8 160.5L93.8 157.3L97.2 155.6L100.3 155.2L104.0 157.2L106.5 157.5L108.8 161.6L106.3 163.7L102.6 163.7L100.3 165.4L96.7 164.0zM30.6 117.7L29.8 113.8L37.1 113.5L39.1 110.8L43.8 112.7L47.9 116.8L43.9 120.0L43.1 123.4L42.2 124.5L35.9 123.7L30.9 122.0L30.9 118.9zM28.8 123.3L30.1 125.1L30.4 127.9L27.1 128.6L24.7 129.4L24.0 125.8L24.6 123.5L25.7 121.9zM41.5 151.5L35.2 154.1L32.8 154.2L32.0 152.9L27.8 152.3L29.5 141.8L29.8 140.6L32.1 135.3L34.8 131.6L38.4 134.2L41.4 138.8L40.7 145.1zM58.1 137.8L59.0 143.7L54.3 144.0L51.0 147.1L47.9 145.1L46.0 141.5L43.7 139.5L44.5 134.0L46.6 134.0L51.0 132.3L53.2 130.2L56.0 135.7zM29.4 160.6L25.7 161.5L20.0 161.1L19.7 159.2L17.3 157.2L19.2 156.1L20.3 153.5L24.7 152.6L26.1 152.5L27.3 154.7L29.8 155.7L29.2 159.1zM40.2 107.1L41.7 105.3L43.8 104.0L47.2 104.4L48.6 105.2L49.6 106.5L50.5 108.0L50.6 109.8L46.6 110.0L44.5 110.2L40.1 109.1L38.9 107.5zM11.7 165.5L14.4 166.0L16.2 164.1L17.3 166.9L19.8 170.2L19.5 172.9L18.0 175.3L16.6 175.9L12.4 175.6L11.6 174.9L10.8 170.1L10.2 168.4zM32.3 165.0L34.0 168.1L33.0 172.0L29.8 173.5L27.5 171.6L26.8 169.8L26.4 165.4L29.4 164.9zM31.5 170.8L34.8 173.1L28.1 177.0L23.4 178.9L19.2 176.3L12.8 176.2L12.9 173.2L14.7 170.1L14.2 167.8L23.0 167.4L26.7 166.7L27.5 168.1zM13.5 183.8L11.7 183.8L9.6 179.9L11.8 177.1L12.2 174.7L14.3 173.5L16.1 174.7L19.3 175.5L19.8 179.0L18.2 182.3L18.2 184.9L15.4 183.9zM19.2 188.7L17.8 185.4L21.3 183.5L24.9 181.5L27.8 182.7L29.3 187.7L29.3 190.9L29.5 192.7L27.4 195.1L22.3 198.9L22.0 195.5L19.2 193.7zM48.1 197.2L46.0 198.2L42.6 197.3L38.4 197.4L39.5 195.0L36.7 192.0L41.6 188.9L45.4 188.2L48.0 187.0L49.7 190.4L50.8 191.3L52.4 197.0zM8.8 180.4L6.9 179.1L6.9 174.4L8.2 172.6L10.0 173.5L10.6 175.6L11.0 178.0L9.6 180.6zM22.6 211.4L26.2 207.8L26.2 205.2L31.8 199.2L38.4 200.1L41.5 204.7L45.7 205.9L45.1 212.5L41.7 215.6L38.3 216.3L32.4 218.6L27.1 218.7zM59.3 213.5L57.2 216.3L57.8 217.5L52.7 219.4L48.3 217.1L45.3 215.1L46.5 212.8L46.6 209.0L48.8 208.9L52.7 208.0L56.5 208.0L59.5 209.1zM20.8 212.8L26.5 213.9L27.3 216.9L27.7 217.5L27.1 220.1L26.4 223.0L22.0 225.3L21.1 225.1L18.1 221.3L16.0 220.9L17.6 217.3L18.2 213.5zM32.8 229.7L30.7 232.6L29.3 233.0L26.1 234.7L22.6 236.0L19.0 235.3L15.1 231.5L12.4 229.4L13.8 227.8L20.4 226.5L26.2 224.4L27.8 224.3zM47.3 231.7L46.8 230.3L53.0 230.0L54.5 229.3L57.9 231.2L60.1 234.3L60.3 235.1L55.9 237.8L51.3 237.9L49.7 236.5L47.5 236.1L45.3 234.0zM111.8 179.6L110.8 184.0L104.7 183.7L91.6 181.5L93.0 176.8L87.7 168.7L91.9 167.6L99.3 160.8L104.9 159.5L115.9 163.5L120.0 171.8L116.7 176.0zM94.6 167.6L91.7 165.5L89.3 163.3L89.3 160.8L91.3 159.7L94.3 158.3L96.4 158.5L98.2 159.7L100.1 160.8L99.8 163.5L100.6 164.9L97.8 167.4zM106.6 185.6L102.9 187.9L100.8 188.9L98.8 188.5L93.9 189.7L92.6 187.2L90.2 184.4L93.2 182.5L95.6 182.2L99.9 181.2L101.3 181.9L103.6 183.7zM63.7 215.1L60.5 212.7L58.3 211.3L59.6 207.4L62.2 204.8L64.2 202.2L67.8 203.8L70.7 204.0L70.7 209.3L71.4 211.9L66.8 215.1L64.4 215.9zM50.7 194.5L50.6 191.4L51.3 186.3L52.3 186.1L53.9 186.8L55.4 187.5L56.0 191.9L55.5 195.6L55.0 197.7L53.5 198.6L52.3 197.2L50.5 197.8zM10.4 233.5L12.5 229.8L17.0 228.4L17.4 228.8L21.4 233.6L20.3 236.6L20.2 238.9L17.2 241.2L14.0 240.3L11.0 239.7L9.9 236.4L8.2 234.4zM40.0 246.1L41.7 246.1L44.2 247.3L44.9 248.1L45.0 248.7L42.5 250.1L37.3 249.7L35.9 250.3L31.0 249.0L33.3 247.6L33.7 247.0L36.1 246.2zM62.5 238.8L64.6 242.0L63.6 244.2L59.6 246.0L57.9 244.9L56.8 240.9L57.9 238.9L59.1 236.3zM21.5 219.3L19.7 217.7L18.1 217.3L19.3 214.7L20.3 212.2L24.3 210.7L25.9 211.6L27.9 213.5L30.0 214.4L29.2 218.1L29.4 219.2L24.1 219.3zM44.8 212.4L40.4 210.3L40.2 206.4L44.2 205.4L44.9 204.1L49.4 203.6L55.1 205.8L58.1 206.6L57.0 208.2L54.7 210.6L53.1 211.4L45.2 212.8zM63.2 221.7L62.2 222.4L59.3 222.4L57.0 221.0L55.2 220.8L56.6 217.1L57.1 212.9L58.2 210.2L61.8 210.6L62.0 211.0L64.3 215.9L64.0 216.8zM42.7 200.3L33.3 201.6L33.1 197.4L23.8 189.8L30.2 185.2L34.2 182.4L39.3 180.0L48.3 178.3L51.7 181.8L56.3 191.1L53.0 195.4L50.0 199.4zM80.0 239.6L78.8 242.9L72.4 241.2L67.3 238.1L65.4 236.1L63.1 233.0L68.8 227.1L71.9 225.9L81.4 227.0L80.3 230.2L82.1 232.8L81.7 237.7zM85.5 173.2L84.9 169.2L94.0 162.5L95.9 159.5L103.2 158.8L110.2 166.0L110.8 168.1L112.1 173.0L107.4 179.5L99.6 181.2L94.3 178.2L91.4 174.8zM11.4 239.2L12.2 237.3L10.3 233.2L13.3 229.8L17.1 227.1L21.1 226.1L25.3 229.0L27.7 230.6L25.3 233.3L25.5 238.7L21.9 241.0L19.6 241.6zM44.2 239.6L48.1 240.2L49.6 239.2L54.4 241.2L57.2 241.6L57.8 244.2L54.7 246.7L48.9 247.2L46.1 247.1L42.3 245.9L40.8 244.1L39.0 242.7zM27.8 244.4L26.0 244.8L23.0 241.1L23.0 239.2L25.4 236.8L26.4 237.2L30.8 234.9L33.5 235.9L36.3 237.9L37.9 239.6L34.6 242.3L31.8 244.1z"/>
<path fill="#c6e7fa" d="M65.4 60.0L66.2 56.1L69.6 54.3L73.3 53.6L75.2 57.8L73.9 61.4L70.7 62.8L68.4 62.7zM78.1 77.3L76.2 74.7L76.0 72.5L77.1 71.8L78.6 71.2L80.2 72.2L80.7 73.8L79.0 76.3zM76.2 55.1L76.4 57.2L73.5 58.8L71.3 57.4L70.9 56.2L69.8 54.3L72.2 53.1L75.9 52.3zM110.8 136.3L108.8 135.3L107.5 133.7L108.5 132.0L109.9 131.7L111.2 132.0L112.0 133.7L111.5 135.0zM118.6 170.3L119.6 171.9L119.8 174.6L118.0 177.1L116.6 176.7L115.4 173.8L115.1 172.1L116.8 169.2zM103.0 177.2L104.4 178.9L104.8 180.7L101.2 181.7L98.7 181.7L96.7 179.5L98.5 177.5L99.9 177.0zM27.3 205.2L29.0 205.7L31.1 209.4L29.8 211.4L29.8 212.3L26.5 215.2L22.5 215.7L19.9 214.3L18.6 209.7L20.0 209.2L20.6 206.0L24.5 205.1zM23.0 219.7L20.7 221.9L17.4 221.9L16.1 218.0L15.4 215.1L18.0 213.4L20.8 212.1L22.4 216.2zM90.4 174.2L91.3 172.6L95.0 171.8L98.4 171.9L100.1 175.1L97.3 176.4L95.0 176.9L92.0 177.2zM109.9 171.5L109.9 173.8L107.9 173.6L104.4 172.6L102.6 171.8L105.3 169.9L107.5 169.1L108.9 170.3zM114.1 174.7L114.1 172.4L114.4 170.3L115.5 168.9L117.6 171.1L118.1 171.7L118.2 174.2L115.8 175.3zM18.7 227.9L19.2 230.1L18.3 232.2L15.2 231.3L14.3 230.3L13.6 227.9L15.8 225.6L17.1 226.7zM20.6 213.2L18.8 211.7L20.3 210.0L21.9 207.2L25.6 207.2L28.4 207.3L30.8 208.5L32.3 210.0L30.7 211.4L30.3 214.7L28.1 215.7L25.1 215.1z"/>
<path fill="#72a9fa" d="M50.4 98.6L50.8 97.4L52.0 97.0L53.9 96.9L54.4 98.0L54.4 98.9L52.8 100.0L51.8 99.7zM46.2 99.4L46.0 100.6L45.0 101.2L44.1 100.4L43.5 99.1L45.1 98.4zM112.3 80.3L110.4 79.9L109.6 79.1L110.3 78.0L111.8 78.0L112.5 78.9zM108.1 75.6L109.3 74.5L110.4 73.0L111.2 73.8L113.1 75.4L112.7 77.1L111.3 77.3L108.8 77.4zM157.6 108.4L154.8 107.7L153.1 106.5L154.6 103.9L156.9 103.1L158.9 103.6L160.5 105.0L160.2 106.7zM113.9 110.5L112.5 108.5L113.5 107.7L114.1 106.2L116.7 106.9L117.1 108.8L116.6 109.4L115.5 111.1zM119.3 117.3L118.4 118.9L115.2 119.1L114.9 117.0L115.0 115.4L116.3 114.2L118.3 113.4L120.7 115.2zM128.7 122.6L129.0 120.3L130.9 120.9L131.7 121.9L131.0 123.4L129.7 123.5zM155.7 120.8L155.7 122.1L155.1 123.3L154.4 124.1L152.9 123.4L152.7 122.4L153.3 120.8L154.1 119.5zM105.8 107.3L105.6 106.7L108.4 105.8L110.0 105.6L111.6 106.5L111.7 107.5L109.3 108.7L107.6 108.5zM103.0 153.5L104.1 152.8L106.4 154.1L105.9 155.5L104.9 156.5L103.6 157.6L102.4 155.7L101.9 155.0zM119.1 115.1L119.8 114.6L120.9 115.8L121.1 117.0L119.7 117.2L118.4 116.9zM133.1 121.8L135.2 119.7L137.1 118.5L139.6 119.3L140.8 122.2L140.5 124.4L137.2 124.7L134.5 124.9zM130.2 122.7L131.6 124.2L132.6 126.7L130.1 127.9L127.8 127.0L127.2 126.0L127.1 123.5L128.3 122.5zM153.0 128.0L152.2 129.5L151.2 130.4L149.7 130.1L148.7 128.5L149.1 127.1L150.4 126.3L151.5 126.6zM114.2 118.9L115.2 116.6L118.1 115.5L119.5 117.6L119.9 119.9L118.6 121.7L117.2 122.0L115.6 120.6zM84.2 117.1L83.2 118.2L81.3 117.5L81.2 115.6L82.9 114.9L84.2 116.1zM80.1 114.7L78.0 113.0L77.7 111.3L78.8 109.7L80.0 110.1L82.0 110.4L81.9 112.3L81.4 113.4zM57.0 130.8L57.3 132.5L53.8 133.0L50.7 133.4L46.7 132.1L46.7 131.5L50.5 130.5L53.1 130.2zM66.1 141.5L63.6 140.7L62.1 138.7L63.1 137.5L65.3 136.1L68.3 137.4L69.3 139.5L67.9 141.8zM44.2 102.5L46.1 102.6L47.2 104.3L45.8 105.8L44.2 106.3L43.0 106.0L42.3 104.2L43.1 102.5zM50.4 98.3L49.9 99.5L48.3 99.9L47.3 98.7L48.0 97.1L49.5 97.0zM53.9 165.0L53.8 166.4L52.7 167.7L51.3 166.9L51.5 165.9L52.6 164.9zM42.9 167.6L41.5 167.1L40.5 166.0L41.1 164.7L42.9 164.7L43.4 165.9zM69.4 138.7L70.4 140.1L70.2 141.5L69.3 142.2L67.9 141.3L67.9 139.9zM63.9 136.2L63.0 134.8L62.2 133.6L63.9 132.0L65.6 132.6L66.7 134.1L66.1 136.0L64.9 136.8zM60.3 187.6L60.6 186.4L59.8 181.2L60.0 179.0L61.9 177.7L64.4 175.5L67.9 178.5L69.5 180.9L68.9 183.5L68.5 187.0L65.4 187.7L64.4 189.4zM60.8 202.2L58.9 201.1L58.2 197.8L58.4 194.4L62.1 193.9L65.3 194.8L66.3 197.1L64.5 200.8zM74.2 171.7L75.2 175.1L75.4 177.4L72.7 179.0L69.8 177.1L68.7 175.0L68.7 173.2L71.1 171.3zM42.1 221.4L40.3 221.2L39.5 220.2L40.8 218.9L42.4 218.9L43.0 219.8zM43.9 213.8L45.4 213.2L46.8 214.8L46.3 215.6L44.8 216.2L43.7 215.5zM59.1 211.9L57.3 212.3L56.3 211.2L56.7 209.8L58.3 209.5L59.5 210.6zM30.8 229.4L31.3 230.7L30.7 231.8L29.4 231.4L29.2 230.3L30.0 229.6zM43.6 231.6L44.8 230.8L46.0 231.2L46.4 232.4L45.5 233.7L44.3 233.1zM15.8 231.9L15.9 235.1L14.0 236.7L12.1 234.6L11.4 233.3L11.0 230.1L13.5 229.3L14.4 229.5zM100.6 156.5L100.4 155.7L101.0 154.1L102.3 153.2L103.7 153.5L104.9 154.7L104.4 156.7L102.9 156.7zM75.3 167.7L75.7 162.3L79.9 161.3L81.4 162.2L86.3 165.6L84.6 170.4L83.5 173.9L82.7 177.1L79.1 179.7L77.5 175.3L75.9 173.3L75.3 170.8zM75.0 196.7L72.5 194.5L70.3 190.0L69.0 186.7L71.3 183.2L75.6 183.6L76.8 181.0L80.3 186.5L80.2 189.7L82.5 191.1L81.2 194.6L77.8 197.1zM87.8 185.4L84.4 187.3L82.0 186.2L80.2 181.3L80.6 179.0L84.5 178.3L88.6 179.2L88.9 182.9zM65.8 156.3L65.2 157.8L63.6 158.1L62.7 156.8L63.3 155.0L65.1 155.3zM65.1 182.1L65.3 187.0L66.6 189.5L65.1 193.0L63.3 197.4L60.7 198.1L59.9 196.6L58.0 191.0L57.8 189.3L58.7 184.6L60.9 183.8L62.9 181.9zM56.1 181.2L53.8 179.5L54.2 178.0L56.6 176.8L59.4 177.1L61.0 178.1L60.5 181.5L59.1 182.4zM27.8 234.0L27.6 236.1L26.0 237.5L24.3 237.5L24.0 235.8L23.2 234.7L24.5 232.7L26.7 233.6zM23.0 241.2L22.1 241.3L20.6 240.5L20.3 238.9L22.1 237.1L23.7 237.4L25.0 239.2L24.7 240.5zM56.3 232.6L57.6 233.5L57.7 235.9L56.4 237.2L54.4 237.2L53.2 235.4L53.7 233.7L55.0 231.8zM53.1 248.3L52.0 248.2L50.9 246.6L52.1 246.0L53.3 246.0L54.4 247.3zM40.3 215.3L41.3 214.2L42.9 214.5L43.9 215.7L42.6 217.0L41.3 217.2zM59.5 214.0L56.7 214.4L55.9 212.9L57.1 210.9L58.2 211.0L59.6 212.3zM65.7 192.4L66.3 191.2L67.8 191.2L69.4 191.6L69.3 193.5L67.8 194.4L66.3 195.0L65.4 193.8zM67.6 188.9L69.2 189.2L69.6 191.0L67.9 192.2L66.8 191.3L66.4 190.1zM56.8 190.3L57.7 188.9L59.7 189.1L59.8 190.8L58.3 192.6L56.7 191.9zM79.9 169.7L80.4 170.7L79.6 171.8L78.3 171.4L77.8 170.1L78.5 169.5zM55.5 202.9L56.4 204.6L56.5 206.1L54.9 206.3L53.5 204.9L53.9 203.6zM55.0 212.8L55.1 214.8L53.3 214.8L52.3 214.9L51.8 213.5L52.0 212.3L53.2 211.5L54.2 211.7zM74.0 194.5L74.9 195.0L75.6 195.8L74.7 196.4L73.5 196.3L72.9 195.5zM52.8 190.4L53.5 191.1L53.2 192.0L52.1 192.3L51.5 191.8L51.9 190.5zM57.9 178.6L57.3 177.9L57.9 176.8L59.0 176.6L59.3 177.4L58.9 178.2zM66.4 188.1L65.5 186.4L67.2 185.5L68.6 185.4L69.3 186.0L69.8 188.2L68.0 188.6L67.1 188.8zM68.2 197.0L68.3 195.6L70.2 195.2L70.8 196.3L70.7 197.5L69.1 198.3zM75.5 189.2L73.9 189.0L73.3 188.3L73.4 186.8L75.3 186.6L75.6 188.0zM87.5 213.1L87.5 214.7L87.1 215.9L85.5 215.3L83.8 214.7L84.3 212.7L85.3 212.3L87.2 212.0zM76.2 182.6L75.3 181.9L74.9 180.6L75.8 180.2L77.0 180.1L77.3 181.3zM61.9 167.9L63.8 168.7L63.5 170.8L61.7 171.2L59.8 170.3L60.5 168.5zM64.4 207.6L64.0 206.5L65.5 205.3L66.8 205.6L66.8 207.0L66.5 208.1zM83.9 207.6L83.5 206.5L84.1 205.6L85.4 205.8L85.4 206.8L84.8 207.4zM59.5 211.2L58.1 210.6L57.9 209.8L58.7 208.0L60.1 208.3L61.0 209.5zM85.3 186.1L84.3 185.4L84.7 184.4L85.7 184.2L86.5 184.6L86.1 186.0zM73.7 202.2L74.9 203.0L74.5 204.2L73.0 204.9L71.9 203.6L72.5 202.5zM55.2 183.8L53.6 183.8L52.6 181.9L53.4 179.9L55.0 179.7L56.4 180.5L56.8 181.8L56.6 183.3zM76.5 172.1L77.0 170.6L78.2 170.6L79.0 171.3L78.7 172.4L77.7 173.2zM57.0 170.0L55.7 170.6L53.8 169.5L53.9 168.0L55.5 166.9L56.7 168.1zM59.1 193.1L58.5 194.1L57.1 193.8L56.8 192.9L57.4 191.4L59.3 191.6zM59.3 200.9L59.2 201.9L58.2 202.0L57.6 201.4L57.6 200.1L58.7 200.0zM73.1 170.5L74.2 170.1L75.3 171.2L74.8 172.8L73.2 172.7L72.6 172.1zM95.1 132.2L95.3 132.8L94.2 133.9L93.3 133.6L93.1 131.8L94.0 131.2zM132.5 107.2L131.5 106.5L131.4 104.4L133.0 104.0L134.4 104.8L134.7 106.5zM127.7 106.8L127.3 107.9L126.2 108.0L125.4 107.5L125.9 106.4L126.7 105.9zM134.3 99.3L133.2 99.9L132.4 99.0L133.0 97.6L133.9 97.7L134.6 98.2zM123.7 126.6L125.2 127.1L126.2 128.8L124.7 129.5L123.4 129.4L123.1 128.1zM107.0 130.4L108.1 130.0L109.0 130.4L109.4 131.4L108.5 131.8L107.2 131.7zM92.7 107.5L91.8 106.6L91.9 105.7L92.7 105.1L94.0 105.3L93.9 106.8zM96.7 102.1L96.7 103.2L95.2 103.9L94.1 103.5L94.1 102.0L95.2 101.3zM126.0 101.6L124.5 102.4L123.9 101.2L124.1 100.3L125.8 99.7L126.6 100.2zM144.8 132.9L144.8 134.5L143.8 134.8L142.6 133.9L142.4 131.9L143.8 131.9zM132.1 119.3L130.9 118.8L131.2 117.8L132.3 117.2L133.0 117.6L133.2 118.9zM94.0 98.7L92.9 97.5L92.7 96.0L93.6 94.5L95.7 95.1L95.4 97.1zM133.8 133.0L133.0 133.4L132.0 133.4L131.7 132.5L132.4 131.7L133.2 131.7zM127.7 113.3L129.9 112.9L131.0 114.3L130.0 115.5L128.4 116.3L126.9 114.4zM39.8 243.5L40.7 243.4L41.5 244.3L41.1 245.1L39.9 245.2L39.5 244.5zM52.5 226.7L51.3 227.0L49.9 226.3L50.1 224.5L51.5 224.4L52.4 224.7zM41.9 231.9L40.8 230.9L40.6 229.8L41.5 229.0L43.1 229.6L42.9 230.7zM41.2 238.6L42.0 237.7L43.4 238.3L43.7 240.0L42.4 240.4L40.7 240.2zM32.9 225.8L33.1 224.7L34.4 224.1L35.0 224.8L34.8 226.2L33.9 226.3zM48.0 230.4L47.7 229.3L48.6 228.7L49.4 229.1L49.9 230.1L48.8 230.7zM55.9 241.2L55.4 240.5L55.5 239.2L57.3 239.3L58.2 240.0L57.4 241.5zM54.7 232.0L56.2 231.3L57.3 231.5L57.2 233.4L56.2 233.7L54.6 233.1zM31.2 236.5L30.1 235.4L30.8 234.1L32.2 233.1L33.3 234.8L32.9 236.2zM55.8 244.8L56.9 244.2L57.8 244.6L58.2 245.9L57.3 246.5L56.2 245.9z"/>
<path fill="#ee8256" d="M29.6 56.1L27.7 57.7L25.4 57.8L23.6 56.6L23.2 54.8L25.2 52.2L27.3 52.4L29.2 54.6zM12.8 82.9L11.8 83.9L9.8 84.4L8.8 83.6L8.4 82.1L9.1 80.8L10.9 79.8L12.1 81.6zM58.8 82.0L61.8 82.8L62.4 84.8L61.3 87.2L59.4 88.0L57.5 86.5L56.3 85.3L58.0 82.9zM32.2 77.4L31.8 78.5L31.3 80.0L29.6 79.8L28.2 79.6L28.4 77.9L29.4 76.7L30.5 76.4zM106.4 43.5L106.6 44.9L106.8 47.0L105.8 47.1L103.3 46.7L102.7 44.8L104.0 43.8L105.5 42.5zM104.9 65.8L106.0 65.8L108.1 65.8L108.1 68.1L107.2 69.1L105.7 69.7L104.0 69.1L103.4 67.5zM130.2 73.8L129.4 70.6L131.2 69.0L133.3 69.5L135.0 70.6L136.6 73.6L134.2 74.6L132.7 75.8zM116.6 83.1L119.4 80.6L122.3 81.6L123.7 83.8L122.7 84.9L121.1 87.2L119.4 86.6L116.6 84.8zM118.4 62.9L119.3 61.1L119.8 59.7L121.4 60.5L121.6 61.9L121.4 64.2L120.7 66.1L119.5 66.3zM59.5 85.5L59.9 84.2L60.4 83.5L62.2 84.0L61.9 85.2L61.0 86.3zM106.4 66.1L108.0 66.9L107.1 69.0L106.1 69.9L104.3 70.1L103.1 69.1L103.6 66.8L104.2 66.2zM129.3 74.6L130.3 71.2L130.9 69.7L134.5 69.9L136.2 71.5L136.7 74.9L135.4 75.9L131.9 75.6zM117.8 83.0L118.7 81.7L119.9 80.9L122.3 81.4L123.0 83.5L122.4 85.8L119.8 86.7L117.4 85.5zM120.7 64.6L119.3 65.8L118.7 65.5L118.4 63.1L118.6 60.4L119.7 60.2L120.3 60.7L121.0 63.2zM133.3 105.8L135.5 103.7L138.1 103.7L139.3 106.5L138.4 108.9L136.9 109.4L133.0 109.7L133.5 107.3zM102.6 80.9L101.7 80.9L100.9 80.0L101.8 78.7L102.8 79.3L103.5 80.5zM112.6 161.7L114.9 163.5L114.7 167.5L112.1 169.0L109.2 169.0L105.9 167.0L106.5 164.4L109.3 162.9zM60.3 141.4L63.4 142.2L66.0 144.6L65.9 146.6L62.8 149.1L60.7 149.2L59.9 146.3L59.1 142.7zM53.1 153.3L55.1 154.5L56.5 156.9L53.3 157.8L50.5 157.6L47.5 157.1L47.1 154.6L49.4 154.0zM90.4 114.2L87.9 118.8L85.7 121.5L83.0 122.9L79.4 124.7L74.0 125.8L68.0 121.7L70.1 115.6L70.3 113.7L71.9 109.1L80.7 107.9L84.3 110.9zM105.8 149.5L102.4 148.0L99.7 148.3L101.5 143.4L102.8 140.5L103.5 140.0L108.0 138.9L114.2 140.2L117.1 144.2L116.3 146.8L113.7 150.4L111.1 151.9zM60.0 148.9L60.2 150.9L58.2 151.7L55.8 151.6L53.1 150.1L54.8 148.6L55.8 147.6L59.2 148.1zM62.5 153.3L65.5 154.2L66.9 155.9L66.4 156.8L63.3 157.8L61.0 157.7L58.7 155.9L59.7 153.7zM44.0 163.7L41.5 163.0L42.6 160.8L44.0 159.7L46.7 159.6L48.0 160.9L48.4 163.0L47.8 164.2zM38.1 178.0L39.8 178.2L42.6 182.0L40.3 183.9L39.9 185.7L37.7 187.9L34.8 186.2L32.8 186.1L31.2 184.0L31.1 182.1L31.1 178.3L33.2 176.8zM108.8 160.6L113.1 160.6L115.1 162.6L115.1 166.2L114.3 169.3L110.7 169.0L105.4 167.4L106.6 165.5zM97.8 149.1L96.9 150.4L95.1 151.5L93.3 150.6L92.4 149.5L94.1 147.6L94.5 146.5L96.8 147.8zM63.8 150.4L64.1 152.5L61.4 155.7L57.5 157.0L55.5 153.7L53.2 151.0L57.0 148.4L62.2 147.3zM77.6 154.2L75.7 151.7L78.7 149.0L81.5 148.0L83.0 151.2L83.9 153.0L82.0 155.2L79.2 155.4zM33.7 235.1L34.7 232.6L37.6 232.4L41.6 231.6L43.2 233.6L46.3 237.4L46.1 238.2L42.0 239.5L40.4 239.8L36.9 240.5L31.7 238.4L32.0 236.8zM24.7 53.5L26.4 53.1L27.8 53.5L28.9 55.4L27.8 57.1L26.7 58.5L23.7 57.6L23.3 55.8zM32.2 79.0L30.9 79.6L29.9 80.0L27.9 79.2L27.4 78.1L28.9 76.9L30.5 76.1L31.6 77.5zM12.2 81.7L12.9 82.7L11.9 83.9L10.5 84.6L8.2 83.5L8.3 82.1L9.3 80.5L11.5 80.2zM61.8 83.8L61.0 85.4L59.8 86.4L57.9 87.0L57.6 85.2L57.9 84.2L58.5 82.6L59.9 83.2zM33.3 93.2L32.7 90.8L32.7 87.5L34.4 86.6L36.7 87.2L36.9 89.8L36.2 93.0L35.0 94.2zM33.6 92.9L32.2 94.4L31.4 93.6L30.7 91.6L32.0 90.8L33.5 91.2zM66.5 100.1L65.8 101.3L64.3 101.9L62.2 101.0L62.4 98.9L63.7 97.7L65.3 98.5L66.1 99.1zM43.6 102.2L45.3 101.7L45.8 103.7L45.1 105.1L43.5 105.4L43.1 103.6zM54.1 102.9L53.4 104.9L52.3 104.7L51.2 104.4L51.9 102.9L52.7 102.6zM73.4 105.6L75.6 106.4L76.2 107.7L75.2 109.1L70.7 109.0L68.7 108.6L68.0 106.6L69.6 105.5zM103.8 46.3L103.0 44.7L104.2 43.6L105.9 44.0L106.5 45.5L105.8 46.3zM106.4 65.8L107.5 66.5L107.5 67.9L107.6 69.6L105.7 70.0L104.1 68.7L103.6 67.1L104.6 65.6zM97.3 83.2L95.9 81.3L95.9 80.2L97.2 78.1L98.1 78.0L99.4 79.0L99.0 81.0L98.6 83.5zM135.7 72.3L135.1 75.1L132.3 75.4L130.6 74.4L130.1 71.3L129.9 69.5L133.6 68.2L135.4 70.6zM120.8 86.9L119.5 85.9L118.1 85.4L117.7 83.9L119.2 82.3L121.2 81.3L122.9 83.4L122.2 84.7zM128.7 86.3L128.7 85.4L130.1 85.0L131.4 86.6L130.9 87.2L129.2 87.7zM107.1 69.1L106.0 69.6L104.4 69.9L103.3 68.1L104.1 67.0L104.8 66.4L105.9 66.3L107.5 67.7zM131.9 75.9L129.8 73.8L129.4 72.4L131.9 68.9L133.9 70.1L136.1 71.4L136.8 73.9L134.6 74.4zM121.9 83.5L122.6 84.7L121.0 85.8L119.4 85.1L118.7 84.6L118.5 82.6L119.1 81.7L121.5 82.1zM130.7 85.1L130.2 87.3L129.7 88.5L128.6 87.6L128.3 86.7L127.9 84.9L128.7 83.8L129.8 84.1zM134.7 103.9L136.5 104.5L139.1 105.8L138.4 108.1L137.3 110.2L135.4 109.6L134.1 108.1L133.5 106.2zM152.9 108.2L154.1 108.6L154.5 109.9L153.7 111.6L152.0 112.2L151.4 111.4L150.6 110.2L151.1 109.0zM145.3 111.6L144.7 113.6L143.6 114.3L143.0 113.4L141.9 112.1L142.4 109.5L143.2 109.0L144.7 109.7zM124.5 114.5L124.8 116.3L124.2 117.9L123.3 119.0L120.6 118.0L120.4 116.5L120.7 114.2L122.4 113.3zM106.2 123.6L104.6 124.3L102.2 125.4L100.1 124.9L100.2 122.1L100.5 119.0L103.9 118.6L105.1 120.7zM112.0 113.3L112.4 114.2L112.2 116.0L110.8 116.1L109.9 114.9L110.4 113.8zM139.7 122.3L140.3 123.4L139.6 124.9L138.5 125.6L137.1 125.2L135.9 124.3L136.5 122.2L138.7 121.7zM101.3 110.6L100.8 109.0L101.3 107.9L102.6 106.4L104.3 106.6L104.8 108.7L104.4 109.6L103.6 110.8zM132.9 116.2L133.9 117.7L133.3 118.7L131.8 119.2L131.1 117.6L131.8 116.1zM150.1 118.1L149.5 116.5L150.7 115.3L152.2 115.9L152.5 117.3L151.6 118.1zM114.0 139.8L111.6 137.6L112.7 135.5L116.8 134.5L120.0 134.7L122.3 136.6L121.5 139.6L118.6 140.5zM100.7 124.5L104.1 121.3L106.1 121.7L107.2 126.9L106.9 128.4L105.0 131.1L102.4 129.8L101.2 128.4zM96.6 130.9L100.1 130.9L100.6 132.6L100.4 135.0L98.8 137.4L96.5 136.4L95.2 135.4L95.4 133.7zM108.4 150.0L109.6 148.9L111.4 150.8L112.0 153.0L111.2 155.3L109.4 157.6L106.7 154.8L106.0 152.4zM94.8 122.4L94.5 120.4L94.2 116.6L96.0 116.2L97.6 114.6L98.8 118.4L98.5 121.4L97.0 122.9zM99.3 112.6L101.2 112.7L101.7 114.1L100.8 115.8L99.7 115.9L98.7 114.6zM136.6 131.1L136.8 135.4L134.8 137.5L132.3 137.7L129.5 136.3L128.5 134.1L130.7 130.8L134.3 130.8zM122.3 118.3L121.5 116.7L121.7 115.8L123.4 115.2L124.6 116.1L123.7 118.3zM127.9 135.6L127.1 134.9L126.7 132.9L128.1 131.6L129.5 132.3L131.1 133.1L130.9 134.9L129.4 136.4zM136.5 124.9L138.1 123.7L139.8 123.7L139.9 125.0L139.3 126.9L137.5 126.6zM144.3 136.8L142.7 135.7L143.2 134.0L144.3 133.2L146.5 134.2L146.1 135.7zM149.0 116.0L151.1 115.4L152.1 115.8L151.9 117.9L150.4 118.9L148.5 117.1zM127.4 122.6L125.3 122.6L125.2 121.2L125.8 119.2L127.2 119.9L128.6 120.8zM127.9 132.4L126.1 131.3L125.2 130.2L125.7 127.9L127.3 127.2L128.7 128.1L128.8 129.1L128.9 130.6zM112.0 164.5L112.2 165.7L110.5 166.1L109.8 165.5L109.8 163.9L111.0 163.4zM106.6 177.6L107.3 178.3L106.9 179.5L105.8 179.6L104.9 178.5L105.6 177.2zM71.7 113.4L68.3 112.2L68.5 109.6L69.2 107.9L71.3 105.2L76.1 107.9L77.4 109.8L74.7 112.3zM71.5 115.0L71.3 119.5L69.0 121.5L66.3 120.6L64.8 116.7L65.5 113.2L68.6 112.7L70.0 113.4zM76.2 124.9L74.3 126.4L71.4 128.8L67.7 126.1L67.0 123.3L69.4 121.6L73.7 120.4L76.7 121.9zM80.7 128.0L78.6 129.1L75.1 129.5L73.2 127.4L73.7 125.3L77.7 125.1L80.8 124.8L81.6 127.1zM82.3 111.8L81.3 110.0L82.7 107.2L85.5 106.5L89.4 107.3L89.2 109.8L89.4 112.4L83.8 112.2zM85.5 120.5L85.3 123.4L83.4 125.0L80.6 125.8L77.9 124.3L79.3 121.3L80.5 120.7L82.9 120.3zM90.7 113.5L88.0 112.6L88.6 109.3L90.1 108.4L91.5 107.1L93.3 108.8L93.7 111.1L92.6 112.7zM96.9 117.4L97.7 120.7L94.8 123.4L92.3 123.2L91.1 120.5L91.8 119.1L93.2 114.9L95.3 115.1zM108.8 120.6L109.3 125.8L107.7 126.9L105.9 128.3L103.8 126.6L103.5 123.5L104.3 121.0L106.9 120.0zM98.7 106.8L99.0 108.1L97.0 109.6L96.1 108.6L95.0 107.2L96.7 106.0zM103.9 107.1L105.2 108.0L105.8 109.8L103.9 111.1L102.6 109.5L102.2 108.1zM111.6 113.8L112.9 113.6L114.1 115.3L112.6 116.9L111.1 116.5L110.9 114.9zM97.6 135.2L96.2 136.3L95.3 136.4L93.4 135.7L93.7 134.5L94.7 132.5L96.3 133.0L97.5 133.8zM103.1 142.4L104.1 146.0L102.9 146.9L100.1 148.8L97.7 147.4L96.1 145.1L98.5 143.3L100.0 142.8zM58.6 136.8L59.9 135.6L61.4 135.3L62.3 135.0L63.0 136.9L62.4 138.4L61.3 138.8L60.0 138.2zM64.9 131.4L67.3 132.1L66.9 133.8L65.7 134.4L64.6 134.3L63.5 132.3zM70.5 147.0L69.1 146.2L68.2 144.5L67.8 143.1L69.8 140.9L71.5 142.2L72.4 143.5L71.6 145.8zM59.9 148.1L62.1 147.2L62.8 147.8L63.4 149.5L63.1 150.6L61.7 151.5L60.5 151.8L59.5 150.1zM57.8 154.2L60.1 153.2L63.1 154.6L63.1 156.1L61.9 157.9L57.5 157.4L54.2 156.8L55.2 154.8zM53.9 152.9L52.5 154.3L50.6 155.4L46.0 155.2L43.4 154.3L45.2 152.9L46.9 151.0L51.2 151.6zM55.8 157.9L56.9 159.0L56.8 161.6L55.8 161.8L54.0 161.7L53.0 160.4L52.8 159.6L54.6 157.9zM45.9 159.4L44.6 160.9L43.7 161.4L42.1 160.7L41.7 159.5L42.7 158.2L43.7 157.6L45.1 158.0zM83.4 154.2L81.7 153.7L81.7 152.0L82.5 149.9L83.7 150.0L85.3 150.9L86.0 152.7L85.3 153.5zM80.8 156.3L78.8 155.3L79.1 153.7L80.5 152.6L81.8 153.3L82.4 154.7zM68.5 153.6L67.0 154.4L65.7 154.7L65.0 152.8L65.3 151.4L67.2 150.7L68.0 151.1L69.2 152.7zM97.6 148.4L97.4 150.2L96.3 151.5L95.2 151.7L94.2 150.4L94.0 148.6L94.8 148.2L95.9 147.9zM41.7 97.9L39.8 98.6L38.2 97.9L38.6 96.7L39.5 95.0L41.2 96.4zM44.2 106.0L42.1 105.8L41.9 103.6L42.0 102.6L43.5 101.4L45.1 101.7L45.8 103.8L44.9 105.4zM53.5 101.1L54.5 102.8L54.2 104.5L52.7 104.8L50.8 103.4L51.1 102.0zM60.2 86.1L58.7 86.3L57.0 85.5L57.8 84.0L58.8 83.7L60.1 84.6zM65.3 101.6L63.7 101.0L63.2 99.6L63.9 98.1L66.6 98.8L66.1 100.2zM17.0 113.9L18.1 113.7L19.4 114.7L19.1 115.7L17.7 116.3L16.4 115.8L14.9 115.5L15.2 114.5zM42.9 103.2L43.5 102.7L46.5 101.7L47.1 102.7L48.3 103.9L46.4 105.1L44.1 105.4L42.8 104.7zM51.5 103.7L51.8 101.7L53.0 100.9L53.9 102.5L53.6 104.4L52.1 104.5zM37.9 120.4L36.5 120.8L35.6 119.7L36.2 118.8L37.0 118.4L37.9 119.5zM41.7 158.5L42.3 159.9L43.0 162.5L43.0 163.7L39.6 165.1L37.8 163.2L36.9 161.3L38.6 159.4zM46.8 161.7L45.3 162.1L44.1 162.2L42.8 160.9L43.3 158.4L45.1 157.8L46.6 158.0L47.3 160.1zM45.9 167.6L45.5 166.0L46.4 163.6L47.8 163.1L49.7 164.4L51.0 166.7L49.7 167.7L47.9 168.6zM42.4 170.2L41.8 168.4L42.7 167.1L43.6 167.4L45.0 168.1L46.0 169.1L44.6 170.6L43.2 171.4zM53.9 151.1L55.4 151.6L55.9 154.0L53.5 154.1L50.9 154.6L50.1 153.3L49.3 151.7L52.1 150.8zM56.3 157.0L54.7 155.5L55.5 154.6L57.4 153.8L59.0 153.8L59.5 155.2L59.3 157.1L57.6 157.3zM60.5 147.7L63.1 148.2L64.5 148.6L64.5 150.3L63.1 151.6L60.5 151.0L58.0 150.1L58.4 148.8zM64.8 154.8L64.2 153.3L64.5 152.1L65.6 150.1L67.3 150.3L67.6 151.8L68.7 153.6L67.1 154.9zM67.3 155.5L69.2 155.1L72.6 156.1L72.4 157.6L71.3 158.8L68.4 158.7L66.9 157.8L66.9 157.3zM63.0 161.0L62.5 159.2L63.0 158.4L64.8 157.8L66.3 158.4L67.0 160.4L66.2 161.6L64.4 161.9zM54.1 169.6L54.0 168.2L54.8 166.9L56.4 167.1L57.6 168.7L57.5 170.1L57.1 171.4L55.3 171.8zM59.6 168.2L61.3 168.6L62.5 171.1L61.5 172.6L60.0 173.2L58.5 171.8L58.2 171.1L58.0 169.4zM69.8 166.7L69.2 165.2L70.5 163.2L72.7 163.9L75.2 165.4L75.5 167.0L73.8 168.3L71.0 169.5zM35.6 169.6L37.5 168.7L38.4 168.7L39.3 169.9L39.3 171.9L38.2 172.1L35.9 172.5L35.5 171.1zM64.0 141.9L65.4 140.4L67.1 140.2L67.8 141.6L67.1 143.4L65.4 143.8zM70.9 135.1L70.7 136.6L70.2 137.3L68.0 138.3L67.4 136.7L67.6 135.5L68.2 134.2L69.8 134.5zM77.6 138.0L77.5 139.4L76.0 141.6L74.8 141.0L72.9 139.7L73.0 138.8L73.9 137.0L75.5 136.8zM75.4 150.9L74.2 148.8L76.1 148.1L77.5 147.5L77.9 148.6L78.8 150.2L78.2 151.2L76.8 152.2zM53.6 173.2L53.9 174.5L53.6 177.1L52.1 176.9L50.7 177.0L50.0 175.5L50.2 174.3L51.1 172.7zM31.4 176.9L29.6 176.4L28.3 175.3L29.2 173.3L31.0 174.2L31.6 175.4zM65.0 174.7L66.0 173.4L67.5 174.1L68.1 176.0L68.2 177.0L67.0 178.4L64.8 177.6L64.1 176.5zM27.8 186.3L27.1 184.7L29.3 182.4L30.7 181.9L33.0 184.2L32.9 187.7L31.2 187.9L28.9 188.3zM44.3 188.3L42.4 188.8L40.1 187.2L39.7 185.0L40.8 183.6L42.8 183.0L44.8 183.6L45.5 186.1zM23.8 181.0L22.3 179.8L21.8 178.7L22.4 177.4L24.2 176.5L25.3 177.7L25.9 179.2L25.3 179.8zM37.7 174.5L38.2 175.6L36.6 176.6L35.1 176.9L34.5 175.5L33.9 174.5L34.9 173.2L37.1 172.7zM43.4 179.5L44.3 177.9L45.6 177.6L46.6 178.3L47.0 180.0L46.4 181.1L44.2 182.0L43.0 180.6zM47.8 186.2L47.9 184.3L47.8 183.7L49.9 182.9L51.2 183.9L52.1 185.1L50.6 186.5L49.4 186.5zM36.3 190.6L37.8 188.7L39.7 187.7L41.6 188.3L41.5 190.2L40.7 192.0L39.4 191.9L36.7 191.9zM32.6 192.2L33.9 192.9L35.6 194.4L34.9 195.8L33.4 196.6L32.3 196.0L30.7 195.0L31.0 193.5zM45.1 196.6L46.4 196.6L46.7 198.5L46.7 199.1L45.1 200.1L43.9 199.8L43.1 198.4L43.3 197.2zM30.9 199.0L31.2 200.8L29.4 201.7L28.1 200.6L27.9 199.3L29.1 198.5zM51.3 191.0L49.4 189.4L49.5 187.9L50.9 187.2L52.2 186.3L53.3 187.7L54.2 188.8L52.6 190.5zM39.1 167.5L40.2 166.5L41.9 166.4L42.9 166.4L43.0 168.6L42.3 170.1L41.2 169.9L39.7 170.1zM44.7 168.8L46.4 169.0L46.3 171.2L45.9 172.4L43.6 171.8L43.4 170.4zM34.4 166.8L34.7 164.9L36.7 164.8L38.1 166.1L37.1 167.0L35.4 167.5zM72.5 190.7L71.5 192.1L70.1 192.9L68.4 192.4L67.0 190.6L68.5 189.2L69.2 188.1L71.9 188.5zM75.4 199.4L73.9 199.6L72.7 198.9L71.7 197.2L72.7 196.3L74.0 195.5L75.2 196.4L75.7 197.3zM64.8 198.7L64.6 197.6L65.0 196.3L67.0 195.5L67.6 196.8L68.7 197.9L67.1 200.0L65.8 199.8zM59.3 182.1L58.2 180.9L58.0 179.7L59.4 178.7L60.9 179.3L60.8 181.2zM64.8 171.6L63.9 169.9L64.4 169.0L65.9 167.4L67.9 168.1L68.4 169.5L68.1 170.8L66.6 171.6zM73.5 169.8L72.2 168.7L70.4 167.4L70.5 164.3L72.7 163.1L75.7 163.6L77.1 166.1L76.0 167.6zM55.2 169.8L55.3 168.5L56.3 166.8L57.7 166.4L58.8 167.5L59.6 168.9L58.6 169.9L56.5 170.8zM60.0 191.0L61.9 190.9L63.2 191.3L62.9 193.0L61.7 194.5L60.4 193.1zM67.5 204.3L67.0 203.4L67.5 201.7L69.0 201.2L70.0 202.7L69.7 204.0zM34.6 213.7L32.9 213.4L32.1 212.6L32.1 211.6L33.0 209.9L34.8 209.8L35.9 210.3L35.4 212.9zM44.2 211.2L43.0 211.4L42.0 210.1L42.0 209.2L42.1 207.8L44.3 208.0L45.3 209.2L45.4 209.9zM48.7 214.5L46.5 214.3L46.3 212.0L47.1 211.3L48.4 209.6L51.0 210.8L51.6 213.1L49.9 214.4zM38.4 219.6L38.0 218.0L38.0 216.5L39.2 215.5L40.9 216.1L41.6 218.1L41.2 219.1L40.4 220.1zM35.1 217.1L35.4 220.4L33.9 223.1L32.6 223.5L31.7 222.2L31.3 219.0L31.5 216.6L33.3 216.1zM36.3 220.6L37.9 220.2L38.9 221.3L38.9 222.8L37.3 223.1L36.1 222.9zM47.6 219.4L47.9 217.4L48.5 215.9L49.7 215.8L51.2 217.1L51.4 218.7L50.6 219.6L49.1 220.5zM54.1 221.6L53.4 220.2L54.1 217.5L55.3 217.4L57.9 218.7L57.8 220.7L57.1 222.6L55.3 222.6zM66.3 215.1L67.2 214.7L68.9 216.0L68.3 219.4L67.0 219.4L65.1 219.7L64.3 217.8L64.3 216.2zM63.6 222.6L63.7 224.1L63.1 224.9L62.0 225.5L60.3 225.6L59.5 224.4L60.3 222.6L61.2 222.0zM53.2 219.5L53.3 220.9L52.3 222.2L50.9 222.2L50.5 221.0L51.0 219.3zM41.9 225.8L43.8 224.6L44.8 224.2L46.6 224.6L48.0 226.2L47.8 227.7L44.7 228.7L42.8 227.7zM48.3 227.8L49.6 227.1L51.3 227.4L51.8 228.6L51.1 230.1L50.2 231.7L48.8 230.7L47.5 229.4zM40.2 229.6L41.8 228.5L43.5 229.0L43.8 230.9L43.8 231.6L42.6 232.2L40.3 232.4L40.4 231.3zM37.0 235.1L35.3 234.4L34.0 232.7L33.6 231.0L35.7 229.4L37.4 230.4L37.8 231.4L38.4 233.9zM27.4 232.1L28.7 232.2L29.4 233.7L28.1 235.5L26.1 234.9L25.8 233.0zM44.7 237.2L43.3 236.9L41.5 236.7L41.1 234.5L42.9 233.7L43.9 232.7L45.5 234.2L45.6 235.5zM51.6 227.5L51.2 225.8L51.8 224.5L53.9 224.9L54.2 226.5L52.7 227.7zM110.0 154.6L111.3 152.1L113.1 151.4L115.8 152.6L115.4 156.0L114.8 157.7L112.5 159.7L110.0 156.6zM97.2 169.9L97.4 171.3L96.2 172.7L94.6 172.9L92.9 172.0L92.9 169.9L94.0 169.0L95.8 169.1zM111.4 177.1L110.7 175.3L112.4 174.1L113.5 175.1L113.5 177.0L112.7 177.9zM99.8 179.2L100.7 177.8L102.4 177.0L103.4 178.4L103.0 180.6L101.7 181.1zM107.8 179.4L107.4 180.9L106.7 181.8L104.5 180.6L105.3 179.1L106.1 178.0zM90.6 177.4L92.1 178.4L92.9 180.2L91.6 181.2L90.2 182.2L88.7 181.1L88.8 179.6L89.4 177.5zM88.1 187.8L87.0 186.6L87.1 185.2L88.7 184.1L89.8 185.5L89.6 187.2zM81.5 151.8L82.7 150.5L84.8 150.3L87.0 151.4L87.4 152.2L84.8 153.7L83.0 154.3L81.1 152.6zM87.3 156.2L88.1 157.8L87.6 159.3L85.3 159.4L84.5 158.0L85.3 156.7zM92.3 162.0L93.0 161.1L95.0 161.3L95.4 163.7L94.3 164.4L92.8 163.6zM77.2 177.8L75.9 178.3L74.5 177.4L73.0 176.5L73.4 175.2L74.8 174.1L76.3 174.6L77.5 175.3zM74.5 179.9L74.3 181.6L73.2 182.5L71.3 181.7L70.1 180.6L70.6 179.3L72.2 178.0L73.5 178.4zM78.4 185.1L79.0 186.2L78.5 188.3L77.9 189.7L76.1 189.1L74.5 187.8L75.3 186.8L76.6 185.0zM78.2 193.2L79.0 191.9L79.9 191.4L81.4 190.7L82.3 191.5L82.9 193.8L81.7 194.1L79.5 194.8zM73.7 195.6L74.8 196.3L75.2 197.6L74.6 199.0L72.9 199.9L71.6 199.6L71.0 197.5L72.5 196.3zM67.5 192.3L68.2 190.2L68.9 189.6L70.9 189.3L71.7 190.1L71.5 192.7L70.1 192.6L68.8 192.8zM65.7 166.2L67.5 166.2L68.7 168.4L68.9 169.2L66.7 170.3L65.6 169.9L64.8 169.2L64.4 167.8zM67.6 161.6L66.5 162.7L65.5 164.2L63.9 163.4L62.8 161.6L63.0 160.3L64.6 160.1L66.5 160.3zM72.8 156.9L74.2 157.1L74.7 158.8L74.1 160.2L72.5 159.9L71.7 158.5zM72.0 153.3L71.0 155.2L69.5 155.2L67.5 155.1L67.9 153.3L67.9 152.5L69.1 151.7L70.6 151.6zM57.9 152.8L58.6 155.5L57.3 156.8L55.9 157.7L54.5 157.7L53.5 155.4L54.5 153.1L55.4 152.0zM61.8 148.4L62.4 149.2L61.8 151.8L61.0 152.0L59.4 151.6L59.0 149.5L58.6 148.0L60.0 147.8zM66.1 149.4L67.0 150.4L67.5 152.3L65.7 153.0L64.7 153.3L62.8 152.2L63.3 150.9L63.5 149.4zM74.6 149.7L73.7 152.2L72.4 151.7L71.4 151.0L70.1 149.7L71.5 147.7L73.1 148.1L74.6 149.0zM51.1 155.3L50.1 155.5L48.9 153.8L50.5 151.9L52.2 151.4L53.0 152.4L53.6 154.2L52.9 154.9zM57.5 149.3L55.4 147.7L56.1 146.1L56.8 144.6L58.6 144.2L60.3 146.0L60.7 147.8L59.4 149.3zM70.1 144.7L69.5 146.3L67.7 146.6L66.1 145.9L66.1 144.1L67.3 142.6L68.8 143.0L69.7 142.9zM55.7 167.0L56.8 169.0L56.0 170.4L53.9 170.7L53.2 169.8L52.1 168.6L53.5 166.9L54.4 165.9zM58.4 171.3L56.9 172.2L55.7 171.6L55.1 170.5L56.7 169.4L57.8 170.1zM53.9 163.6L52.0 164.0L51.3 162.4L52.3 161.4L54.0 161.3L55.1 162.6zM56.8 178.6L56.2 175.8L57.7 175.0L59.5 174.3L61.6 175.5L61.1 177.4L60.2 179.4L58.3 178.7zM61.7 177.0L61.9 176.1L62.7 174.7L63.7 174.0L65.0 174.6L65.1 176.5L65.0 177.8L63.1 178.2zM55.0 185.7L53.8 184.1L54.2 182.7L55.8 181.5L56.5 183.3L56.2 184.8zM62.3 185.3L61.7 187.0L59.7 186.1L58.5 184.4L59.8 183.9L61.4 183.7zM63.6 194.8L63.2 192.3L63.7 191.0L65.4 190.8L67.1 191.5L67.2 192.8L66.0 193.9L64.6 194.7zM62.2 201.6L60.3 200.9L58.8 200.4L59.3 198.9L61.0 197.1L62.2 197.6L63.3 198.2L62.8 200.0zM68.1 199.5L67.6 201.6L66.0 202.0L64.7 200.8L65.0 198.6L67.3 198.8zM54.2 199.1L54.4 200.4L53.6 201.5L51.6 201.4L51.4 199.1L53.2 198.0zM74.1 204.3L74.9 205.8L73.4 206.7L72.0 206.3L71.4 204.8L72.7 203.5zM68.0 210.3L69.3 212.8L68.1 213.8L66.7 213.9L65.8 212.3L66.9 210.7zM57.8 212.4L56.4 211.6L56.0 210.0L57.3 208.8L58.5 209.4L59.3 210.7zM14.5 237.2L13.7 238.0L11.5 238.6L10.8 237.0L10.6 234.7L12.4 233.4L14.2 233.6L15.0 235.0zM37.4 236.4L34.9 235.2L33.7 233.8L33.6 232.3L35.2 231.1L37.8 231.5L37.9 232.8L38.2 235.2zM37.4 237.9L37.4 236.3L37.4 234.6L39.8 234.9L42.9 235.1L43.7 236.6L43.4 237.4L41.6 238.5zM45.6 231.9L47.4 232.3L46.6 234.4L45.8 235.1L44.3 235.4L42.8 234.8L43.2 233.2L43.5 232.0zM47.4 225.8L48.6 225.5L49.7 226.4L51.0 228.1L48.9 230.1L47.7 229.8L46.2 228.2L45.1 227.3zM51.9 230.9L51.4 230.5L50.3 228.3L51.4 227.3L52.9 227.2L54.5 228.3L54.8 229.0L53.9 230.6zM40.5 239.8L39.6 241.4L39.4 242.7L36.8 242.7L35.4 241.1L34.9 238.9L36.5 238.7L39.4 238.3zM32.2 243.8L30.6 242.8L30.4 241.0L31.0 240.2L32.6 239.5L34.1 241.4L34.5 242.1L33.3 243.2zM39.8 242.2L40.9 240.6L42.6 239.8L44.1 240.5L43.9 241.7L43.7 243.2L41.9 243.6L41.1 243.1zM50.9 237.4L51.8 238.6L51.9 240.1L51.0 241.2L48.9 241.8L47.8 240.4L46.7 238.9L47.8 237.1zM50.7 244.8L49.5 246.4L47.6 246.2L46.7 245.2L46.4 243.8L46.8 242.1L48.4 241.7L49.7 242.3zM57.0 242.4L56.9 243.7L55.7 245.4L54.4 245.0L53.3 244.8L52.5 242.2L53.2 241.3L55.4 240.8zM32.6 229.5L33.0 227.6L32.9 225.6L34.6 225.1L36.7 227.3L36.8 229.3L35.3 230.8L34.5 231.1zM50.6 232.6L52.3 232.1L54.0 233.3L53.2 235.1L51.6 235.7L50.5 233.7zM61.7 247.2L61.0 248.3L58.9 248.4L58.4 246.8L58.9 245.4L61.4 246.0zM59.2 239.4L59.6 240.6L58.0 241.4L56.1 241.7L55.6 240.1L55.7 238.8L56.7 237.1L58.7 237.5zM29.2 236.6L30.3 235.9L32.2 236.3L32.4 238.5L31.3 239.5L29.7 238.1zM30.3 210.2L30.9 208.3L32.9 207.8L33.7 209.3L34.8 210.7L34.1 212.2L32.5 212.5L30.8 211.9zM40.0 211.3L37.8 211.1L38.1 209.7L38.5 208.4L40.2 207.1L40.7 208.0L41.7 209.5L41.4 210.4zM47.7 211.1L47.4 211.9L45.8 213.1L43.6 211.3L43.2 208.9L44.9 208.5L46.5 208.6L48.6 209.4zM34.6 212.9L37.2 212.5L37.8 213.8L37.9 215.8L37.0 217.0L35.7 217.0L33.6 215.6L34.2 214.5zM33.1 219.2L32.6 217.2L34.1 216.9L35.4 217.1L36.2 218.3L36.1 219.2L35.2 221.1L33.6 220.0zM49.8 216.2L48.7 216.4L47.3 216.8L47.0 214.8L47.0 213.4L49.1 212.5L50.1 213.2L50.5 214.8zM50.7 220.2L50.8 218.4L51.9 217.7L53.2 217.6L54.7 218.3L54.3 220.0L53.1 221.0L51.3 221.5zM57.2 221.7L55.5 221.6L54.4 219.6L55.5 218.3L57.3 218.6L58.0 220.4zM62.9 217.0L64.5 214.8L65.8 213.6L68.6 213.7L69.8 216.4L68.1 218.7L67.3 219.5L63.4 218.7zM61.5 224.3L61.3 222.8L61.8 221.0L64.5 221.0L65.5 222.1L64.9 224.1L64.1 224.7L62.7 225.5zM42.8 222.7L42.3 220.9L42.9 219.6L44.3 219.5L45.4 220.9L44.8 222.4zM40.6 221.2L41.2 222.9L39.6 224.1L38.0 223.2L37.5 221.9L38.7 220.6z"/>
<path fill="#0550e4" d="M37.9 94.8L37.2 95.3L36.6 95.5L35.9 94.7L36.4 94.0L37.4 93.8zM39.2 97.0L39.1 96.2L39.8 95.9L40.5 96.7L40.6 97.7L39.7 97.6zM41.0 99.2L41.9 98.3L42.5 98.5L42.8 99.1L42.4 99.9L41.5 99.9zM65.8 102.0L64.9 102.3L63.7 102.0L63.4 101.2L64.4 100.5L65.5 100.3zM114.3 75.1L115.5 75.7L115.2 76.9L113.2 78.4L111.1 78.4L109.8 77.7L109.7 76.4L111.4 75.5zM115.2 77.2L114.1 78.3L111.9 78.3L110.8 78.3L110.2 76.2L112.0 75.7L112.9 75.3L114.8 76.6zM158.7 112.8L156.7 113.4L154.5 112.3L155.1 109.3L156.1 106.8L157.4 106.6L159.1 108.5L160.0 112.5zM159.5 106.1L160.0 104.7L160.7 104.4L162.3 104.8L162.7 106.8L161.8 107.3L160.9 108.7L160.1 107.9zM107.5 109.5L108.8 109.6L110.4 110.4L109.7 111.5L107.5 112.3L105.6 112.7L104.6 110.7L105.5 109.6zM122.7 122.9L122.4 121.5L122.8 119.3L124.4 119.4L125.6 120.0L126.4 122.5L125.3 122.7L123.7 123.4zM128.9 120.2L129.0 121.1L127.8 122.0L127.0 121.4L126.8 120.2L127.8 119.3zM100.3 112.4L101.2 111.6L102.3 111.5L102.7 112.7L101.7 113.3L100.9 113.3zM154.3 117.0L155.3 117.2L156.0 117.8L155.6 120.1L154.2 120.3L153.5 119.1zM100.1 154.8L98.7 155.4L95.6 153.9L95.8 151.9L97.7 148.5L100.3 147.8L100.6 150.2L102.2 153.7zM96.7 144.4L95.9 143.4L96.1 141.2L97.3 140.6L98.3 140.7L100.7 141.7L100.2 143.7L98.7 143.9zM104.6 145.3L104.3 146.8L103.0 147.6L102.1 146.7L101.7 145.2L103.0 144.9zM123.1 118.4L124.8 118.7L125.3 119.6L125.5 121.3L124.8 122.9L122.9 122.2L121.7 121.6L121.5 120.0zM144.5 131.2L143.2 132.8L141.5 131.6L140.2 128.8L141.3 128.0L143.5 126.6L145.5 128.3L145.1 129.4zM145.1 126.5L146.2 125.6L146.9 126.4L147.3 127.8L146.6 128.8L145.0 128.4zM155.9 112.9L155.9 115.6L154.2 117.9L153.4 116.4L152.6 113.8L152.6 111.5L154.6 109.7L155.3 110.6zM115.1 115.6L114.3 116.0L113.2 114.8L113.7 113.3L115.1 112.9L116.0 114.0zM132.7 118.1L131.9 118.8L131.2 118.2L130.7 117.0L131.6 116.5L133.0 117.0zM96.2 171.8L95.5 171.7L94.3 170.6L95.0 169.8L96.4 170.2L97.1 171.3zM107.1 179.4L105.9 180.3L104.6 180.6L104.3 178.5L105.4 177.6L106.7 178.5zM110.1 182.3L111.0 181.0L112.0 181.2L112.8 182.3L112.0 183.1L111.1 183.2zM74.9 115.9L75.0 113.9L77.1 111.8L79.2 111.5L82.3 114.0L81.6 116.1L80.2 116.9L77.5 118.1zM77.4 118.5L78.2 120.4L76.8 121.7L75.9 122.3L75.0 121.3L74.8 120.5L75.2 119.1L75.7 118.1zM110.4 111.7L107.7 111.9L106.3 111.2L106.8 110.2L106.6 109.5L108.6 109.1L110.4 109.9L111.1 110.7zM97.0 155.2L96.2 153.3L97.7 150.3L99.9 149.2L102.0 151.0L103.3 152.0L102.4 155.7L99.0 156.0zM101.4 147.9L102.3 147.2L103.6 146.8L104.4 148.0L103.9 149.8L102.6 149.5zM71.1 139.2L71.0 138.1L72.0 136.3L72.9 137.0L73.8 136.8L73.8 138.7L73.0 139.8L71.8 140.9zM66.6 132.2L68.0 130.7L68.9 131.6L68.9 132.7L68.3 134.0L66.5 133.5zM79.9 140.5L79.6 141.1L79.0 141.4L78.2 141.1L78.5 140.1L79.4 139.8zM65.2 145.5L64.5 144.6L64.7 143.3L66.3 143.2L67.0 144.2L66.6 145.3zM71.4 148.6L72.9 148.6L73.6 149.4L72.8 150.6L71.7 150.9L71.5 149.5zM47.3 98.5L46.7 98.1L47.0 96.9L47.8 96.8L48.2 97.8L48.4 98.5zM47.1 165.7L44.8 166.1L43.2 165.7L43.3 163.7L45.0 163.0L47.0 164.3zM47.6 170.4L48.4 168.6L49.4 168.4L50.9 169.0L51.4 170.7L49.4 171.2zM55.7 155.9L56.0 157.3L55.8 157.9L54.5 158.8L53.7 157.2L54.1 155.7zM58.1 151.4L59.7 150.4L60.4 150.9L60.8 152.6L59.4 153.1L58.1 152.6zM46.2 167.1L47.2 167.2L47.7 168.3L47.5 169.4L46.1 169.7L45.3 168.3zM62.5 163.5L64.0 163.9L64.2 165.0L63.8 165.7L62.7 165.6L61.9 164.2zM78.1 162.0L79.2 162.6L79.5 164.2L78.5 164.5L77.0 163.8L77.3 162.5zM74.5 132.8L75.2 133.2L75.5 134.3L74.6 134.7L73.7 134.3L73.1 133.4zM36.2 184.1L37.7 183.1L38.9 184.3L39.1 186.0L37.0 186.8L35.8 185.3zM33.4 183.9L32.5 184.4L31.8 184.1L31.3 182.7L32.0 181.9L33.1 182.6zM39.3 188.7L39.6 187.3L40.6 186.2L41.8 187.3L42.4 188.2L41.0 189.5zM33.5 188.8L33.6 190.1L32.5 190.8L30.9 189.7L31.2 188.5L32.1 187.6zM36.4 179.5L35.1 179.7L34.1 179.1L34.3 178.4L35.2 177.4L36.6 178.3zM48.7 175.4L47.8 176.0L46.3 175.9L46.4 174.9L46.8 174.0L48.1 174.5zM56.9 201.0L55.5 201.6L52.8 200.9L52.4 199.7L53.3 198.8L55.3 198.4L56.2 198.7L58.0 199.5zM61.2 204.5L59.5 204.9L58.1 204.7L57.5 202.9L59.0 201.5L60.7 202.9zM61.3 199.6L61.5 198.3L62.6 197.6L63.5 198.7L63.8 199.6L62.5 200.4zM72.7 179.6L71.9 178.6L72.8 177.1L74.2 176.5L75.2 177.9L75.2 179.5zM79.5 182.1L78.1 182.6L76.8 181.8L76.6 180.2L78.9 179.4L79.6 180.7zM59.1 184.2L60.4 184.3L61.3 185.0L60.9 186.4L59.8 186.6L58.9 185.8zM56.3 178.3L56.5 177.2L58.2 176.2L59.3 177.4L59.0 179.0L57.5 179.4zM49.9 208.6L50.7 209.1L50.3 210.3L49.4 211.0L48.6 210.0L49.0 209.0zM34.5 225.0L34.1 224.5L34.4 223.1L35.2 221.6L36.0 221.7L36.9 223.7L36.7 225.1L35.1 226.5zM47.4 222.1L46.8 220.4L47.8 219.3L48.9 220.0L49.5 221.4L48.5 222.2zM46.5 227.1L47.9 226.2L49.5 226.7L49.2 228.1L48.2 229.1L47.1 228.9zM38.8 234.7L37.3 235.0L36.9 233.5L37.9 232.5L39.1 232.4L40.1 233.6zM102.1 151.2L103.6 152.9L101.3 155.0L98.1 155.2L95.3 153.0L95.8 150.9L98.8 149.6L101.2 150.1zM92.8 173.2L93.6 171.5L94.6 170.7L95.5 171.8L95.5 173.2L94.1 173.6zM105.9 180.1L105.3 179.6L105.3 178.0L106.8 177.4L107.5 178.8L107.7 179.9zM74.0 162.3L72.7 163.2L71.0 161.4L71.0 160.4L72.5 159.0L73.9 160.0zM79.8 180.5L80.1 179.8L80.8 178.5L82.8 177.9L84.7 178.8L84.5 179.9L84.2 181.4L81.9 182.0zM76.8 175.7L75.8 176.5L74.2 176.6L73.9 174.7L75.8 173.9L77.1 174.6zM68.6 170.4L69.7 170.0L71.3 171.3L70.3 172.8L69.1 172.8L68.4 172.0zM79.0 166.5L80.4 165.3L81.5 166.0L81.3 167.8L79.8 168.8L78.4 167.5zM86.8 175.3L87.8 175.0L88.9 175.9L88.4 176.9L87.2 177.2L86.5 176.8zM72.0 183.9L73.1 184.2L73.7 185.0L72.8 186.3L71.6 186.3L70.9 185.3zM62.5 142.0L63.5 142.4L62.8 144.4L61.9 144.6L60.9 143.5L60.9 141.9zM68.8 149.0L68.2 147.5L68.8 146.5L70.3 146.7L70.8 147.6L70.0 148.7zM51.2 144.6L51.9 143.5L53.5 143.5L54.2 144.1L53.7 145.3L52.7 145.9zM55.8 199.4L55.8 200.5L56.6 202.3L55.9 203.3L53.5 203.6L52.8 202.7L52.0 200.7L53.6 199.9zM60.0 182.2L61.2 182.7L61.8 184.0L61.3 184.7L59.7 185.0L58.8 183.7zM65.0 196.6L66.5 195.6L67.5 196.5L67.9 197.8L66.1 198.7L65.1 197.9zM56.0 203.9L57.0 204.9L57.3 205.8L56.9 208.4L56.0 208.6L54.7 208.1L54.3 205.9L54.6 204.3zM28.1 237.5L30.2 238.2L29.4 239.3L28.8 240.0L28.0 240.6L25.5 239.6L25.6 238.6L26.1 237.8zM32.6 239.4L31.7 238.8L31.9 237.0L33.3 236.4L34.7 237.3L34.6 238.9zM38.2 238.2L39.3 237.1L40.2 238.3L40.3 240.1L38.7 240.3L38.1 239.5zM36.1 242.2L37.8 241.7L39.5 243.1L39.0 244.6L36.6 245.1L36.3 243.7zM47.9 247.9L46.9 249.9L46.0 250.3L44.6 248.0L44.8 246.1L46.5 244.3L47.5 244.2L48.2 246.3zM43.4 240.7L44.5 239.4L45.7 238.8L46.2 240.5L45.9 241.9L44.8 241.8zM32.8 231.4L32.4 232.6L31.5 233.3L30.8 232.9L30.2 231.8L31.1 230.8zM51.2 232.3L49.8 232.4L49.3 231.5L49.6 230.2L51.1 230.2L51.4 231.4zM44.6 231.1L43.5 231.2L42.3 230.0L42.9 228.5L44.2 228.7L45.0 229.8zM35.4 213.4L34.1 214.3L33.4 212.9L33.8 211.5L35.2 211.0L35.8 212.1zM45.9 219.4L44.7 219.6L43.5 218.9L43.9 217.2L45.3 217.0L46.1 218.2zM49.4 216.7L50.1 216.2L50.9 216.3L51.3 217.1L50.8 218.2L49.6 217.7zM40.9 218.2L41.0 219.0L40.0 219.5L38.9 219.0L39.0 217.7L40.0 217.2zM57.7 179.0L58.4 178.1L59.7 177.4L60.4 179.0L59.6 180.1L58.8 180.2zM79.7 178.9L80.8 180.3L80.4 181.7L79.0 182.3L78.0 180.9L78.3 179.7zM58.2 186.1L58.1 184.8L58.6 183.8L60.1 184.1L60.2 184.9L59.9 185.9zM72.8 171.3L72.6 169.6L73.6 169.4L74.9 170.4L75.0 171.3L73.8 172.4zM59.5 177.5L60.3 177.9L60.2 179.1L58.7 179.5L58.1 178.8L58.4 177.0zM62.7 179.5L63.7 179.8L64.0 180.2L63.4 181.1L62.7 180.6L62.3 180.2zM55.5 193.5L56.0 194.0L55.2 194.9L54.4 194.6L54.1 193.8L54.7 193.0zM71.3 184.3L71.7 183.2L72.3 182.9L73.3 183.4L73.3 184.3L72.4 185.0zM84.0 190.2L83.3 189.3L84.2 188.4L84.9 188.4L85.5 189.2L85.5 190.3zM80.9 175.2L80.8 174.3L81.4 173.8L81.9 174.3L82.2 175.3L81.4 175.7zM82.2 205.3L82.7 204.6L83.4 204.6L83.8 205.6L83.2 205.9L82.3 206.0zM59.6 201.7L59.1 203.0L57.5 202.1L57.0 201.3L58.3 199.8L59.4 200.8zM58.8 210.6L59.9 210.9L59.7 212.0L58.7 212.6L57.5 212.4L57.4 211.0zM73.1 185.8L73.3 186.6L72.8 187.1L71.7 186.6L71.6 186.0L72.4 185.5zM110.2 134.7L109.9 134.3L109.9 133.4L110.7 133.2L111.3 133.6L111.0 134.5zM123.4 125.1L122.2 124.6L122.8 123.3L123.9 122.9L124.7 123.8L124.5 124.9zM133.4 123.5L133.9 122.2L134.7 121.8L136.1 122.1L135.8 123.1L135.0 124.0zM145.5 108.1L146.2 109.3L145.7 110.6L144.1 110.4L143.7 109.3L144.6 108.3zM143.6 128.7L144.3 128.3L145.1 128.3L145.3 129.6L144.2 129.9L143.6 129.5zM137.1 128.6L137.5 127.8L138.7 128.4L138.8 129.3L138.1 129.8L137.1 129.4zM127.4 109.6L128.4 109.4L129.2 110.0L128.8 111.2L128.3 111.3L127.4 111.0zM126.0 98.7L127.1 97.7L127.9 98.3L128.1 99.3L127.4 100.0L126.4 99.7zM150.2 128.1L150.7 129.8L150.0 130.2L149.0 130.4L148.3 129.2L149.1 128.1zM115.7 124.0L114.7 124.9L113.6 124.8L113.4 123.8L114.2 122.8L115.1 123.4zM45.6 231.5L46.2 232.2L45.6 232.9L45.0 233.0L44.6 232.3L45.0 231.4zM43.6 244.9L42.7 245.6L41.6 244.8L41.3 243.5L42.5 242.9L43.7 243.7zM50.2 246.2L50.6 247.0L50.4 247.7L49.5 247.6L49.0 246.5L49.6 246.2zM31.2 234.4L31.7 235.2L31.6 236.1L30.5 236.2L30.3 235.6L30.3 234.7zM32.0 235.4L31.3 234.7L31.8 233.4L33.3 233.8L33.6 234.7L33.3 235.5zM41.3 231.5L42.5 230.9L43.3 231.8L43.2 232.7L42.2 233.3L41.1 232.7zM59.0 236.1L58.8 235.2L58.9 234.8L59.9 234.8L59.9 235.4L59.8 236.1zM26.2 245.7L25.6 245.3L25.5 244.8L26.0 244.4L26.7 244.5L26.8 245.3z"/>
<path fill="#db2a22" d="M24.8 54.1L27.0 53.1L27.9 54.1L27.9 55.8L27.9 57.0L25.8 57.5L24.5 56.7L23.9 55.0zM29.6 79.1L28.6 78.0L29.7 77.0L30.8 76.6L31.5 77.9L30.7 79.7zM10.9 83.9L9.8 83.5L9.2 82.0L10.4 81.1L11.2 81.5L11.8 82.7zM59.7 83.8L60.5 84.6L61.0 85.6L59.5 86.4L58.3 85.2L58.5 83.9zM35.7 88.0L36.2 89.7L36.3 91.3L34.8 92.4L33.8 92.3L32.8 90.9L33.1 88.9L33.8 87.2zM32.9 91.4L33.4 92.1L33.1 93.3L32.3 93.5L31.3 92.4L31.4 91.3zM65.4 101.0L64.4 101.2L63.4 100.5L63.6 98.8L64.7 98.3L65.7 99.6zM43.3 104.4L43.4 103.2L44.0 102.9L45.2 102.6L45.6 103.7L44.8 104.5zM53.7 103.5L53.2 104.1L52.2 104.6L51.7 104.1L52.2 103.2L53.0 103.0zM70.1 106.4L72.7 106.3L74.1 106.4L75.3 107.4L73.9 108.9L71.8 108.9L70.1 108.2L69.8 107.2zM106.4 44.7L106.1 45.7L105.1 46.3L104.2 45.8L103.9 44.3L104.9 43.7zM107.2 67.5L106.8 68.3L105.3 69.2L104.4 68.4L104.5 66.7L105.8 65.9zM96.5 81.1L96.3 80.2L97.3 79.0L97.7 78.8L98.6 79.3L98.9 81.2L98.2 82.2L97.1 82.8zM134.9 71.1L134.9 72.3L134.3 74.0L132.3 73.9L130.5 73.5L130.5 70.9L132.2 70.0L133.4 70.4zM121.4 83.9L121.2 85.9L119.6 85.5L118.5 84.9L118.8 83.0L120.8 82.7zM130.6 85.6L130.8 86.2L130.3 87.1L129.5 87.0L128.8 86.5L129.5 85.9zM103.8 67.8L105.3 66.2L106.6 67.1L106.8 68.5L105.5 69.4L104.3 69.1zM135.5 73.0L135.0 74.4L132.7 74.8L131.7 73.7L130.4 73.0L131.2 70.8L133.1 69.9L134.6 71.6zM121.0 84.8L120.1 85.2L118.6 84.4L119.8 82.8L121.1 82.4L121.4 83.5zM129.4 87.3L128.7 87.4L128.5 85.7L129.0 85.0L129.9 85.0L130.3 86.5zM136.0 104.9L137.2 105.3L138.5 106.5L137.9 108.3L136.1 109.4L135.4 108.5L134.1 107.7L134.6 106.2zM152.4 108.9L153.6 109.6L153.8 111.1L152.4 111.4L151.4 110.9L151.6 109.3zM143.2 110.2L143.7 109.7L144.5 111.1L144.1 113.5L143.5 113.0L142.8 111.6zM122.3 117.7L121.1 116.6L121.1 114.6L123.3 114.1L124.0 115.4L123.6 117.0zM100.6 122.4L101.7 120.5L102.9 118.9L104.4 120.5L105.1 122.6L103.8 124.2L102.8 124.7L101.4 124.9zM111.4 113.7L111.9 114.3L112.2 115.3L110.9 115.6L110.3 115.1L110.8 114.1zM139.8 122.8L140.1 124.2L138.5 125.4L137.4 124.2L137.1 123.0L138.7 122.1zM104.6 109.5L102.8 110.1L101.6 109.7L101.7 108.2L103.0 107.1L104.6 108.1zM131.6 117.0L132.3 117.0L133.3 117.4L133.2 118.0L132.4 118.5L131.6 118.3zM151.2 117.7L150.2 117.4L150.5 116.6L151.4 116.1L152.0 116.4L151.8 117.4zM102.3 140.0L103.1 137.1L105.5 135.8L107.9 138.2L109.5 140.2L109.2 142.9L106.4 143.0L102.4 143.9zM110.1 142.2L112.7 139.1L114.3 139.4L115.9 144.3L116.2 145.6L114.0 147.6L111.4 149.3L110.5 146.8zM120.1 134.9L120.4 137.1L121.2 138.1L118.9 139.1L115.8 138.4L113.4 137.8L115.1 135.5L116.4 135.4zM106.2 128.3L105.1 130.0L102.9 129.2L102.0 128.0L102.2 125.8L103.4 123.0L105.1 123.8L106.2 124.7zM98.8 131.4L99.9 133.1L100.7 134.5L99.2 136.1L98.0 136.3L95.8 135.4L95.7 133.8L96.9 131.8zM108.7 150.5L110.0 149.9L111.2 151.1L110.8 154.3L109.8 155.2L107.8 155.3L107.4 153.2L106.9 152.2zM98.0 117.1L97.9 118.7L97.2 121.7L96.1 121.7L95.5 121.6L94.9 118.5L95.5 116.0L96.9 115.9zM99.8 115.3L99.2 114.6L99.5 113.4L100.6 113.4L101.3 114.4L100.8 115.6zM136.0 132.4L136.9 134.9L134.6 135.8L132.9 136.9L130.2 135.4L129.0 133.2L129.9 132.8L133.0 131.8zM121.7 115.8L122.7 115.9L124.0 116.1L123.7 117.4L122.4 118.1L121.5 117.1zM127.5 133.7L128.2 132.8L129.6 132.8L129.9 134.3L129.1 135.4L127.5 135.2zM139.6 124.3L139.8 125.9L138.8 126.0L137.6 126.0L137.7 124.6L138.8 123.6zM144.3 135.9L143.2 135.0L144.0 134.0L144.6 133.8L145.9 134.4L145.6 135.8zM149.9 117.6L149.5 116.4L150.3 115.7L151.6 116.1L152.0 116.7L150.8 118.1zM125.9 122.0L125.5 121.3L126.0 120.3L127.4 120.4L127.9 121.4L127.0 122.1zM127.9 128.5L128.2 129.9L127.6 131.2L126.5 131.1L125.9 129.1L126.9 128.2zM111.1 164.0L111.5 164.4L111.6 165.3L110.6 165.6L109.9 165.1L110.2 164.4zM105.5 178.7L105.7 177.9L106.4 177.8L106.8 178.1L107.0 178.7L106.3 179.0zM71.8 112.5L68.3 111.5L68.0 108.7L71.0 107.0L73.2 107.5L75.3 108.6L75.8 109.9L74.7 112.0zM65.2 118.0L66.4 114.7L68.4 113.7L70.3 113.5L70.8 115.6L71.7 118.5L68.9 120.9L66.7 119.5zM68.2 125.3L67.3 123.1L70.5 121.7L74.2 121.3L75.4 122.5L74.5 125.9L72.7 126.1L69.7 126.7zM80.5 126.0L80.7 127.6L78.7 128.6L76.4 128.8L75.1 128.5L75.1 126.7L76.1 126.0L78.5 125.2zM83.7 108.3L86.6 107.9L89.0 108.5L88.2 110.8L86.0 111.6L83.6 111.3L81.4 110.6L80.9 108.9zM90.0 118.0L90.3 120.8L88.4 122.1L86.8 121.1L86.2 119.2L86.5 115.7L87.3 113.3L89.5 115.8zM82.1 120.1L84.2 121.2L85.5 122.2L84.1 124.1L82.5 124.9L80.9 124.1L79.0 122.7L80.5 121.3zM91.1 108.6L92.4 109.2L93.5 111.3L92.1 113.0L90.4 112.3L89.6 111.5L89.3 110.0L90.2 108.2zM94.9 117.2L96.2 118.4L96.4 120.7L95.0 121.5L93.2 122.5L92.5 121.6L91.5 119.1L93.1 117.9zM103.6 117.9L103.2 119.9L102.2 121.5L101.5 121.1L100.9 116.7L101.1 114.9L102.2 112.1L103.8 114.4zM104.9 121.5L106.2 119.6L107.5 120.5L107.8 124.1L107.7 127.2L106.7 128.6L104.3 126.9L104.4 124.3zM96.7 108.9L95.9 108.1L96.2 107.0L97.5 106.3L98.4 106.8L98.1 108.5zM105.1 109.1L104.6 109.9L103.1 110.3L102.7 108.9L103.1 108.2L104.4 108.2zM111.3 114.5L112.6 113.7L113.4 115.0L113.1 115.8L111.9 116.5L111.2 115.6zM95.4 136.1L94.6 135.0L94.8 133.6L95.8 133.2L96.8 134.0L97.2 135.5zM108.6 138.4L111.1 139.0L116.4 141.6L114.5 143.9L114.5 146.0L113.3 147.7L108.8 147.9L106.5 148.6L104.2 145.6L102.1 143.9L103.2 142.0L106.2 139.4zM97.6 144.6L98.8 142.6L101.2 142.9L102.0 143.7L103.7 145.3L101.8 147.2L99.3 147.8L98.1 146.2zM119.8 148.5L119.4 153.1L115.1 155.1L111.8 152.9L111.7 150.7L111.8 147.4L113.9 145.1L118.6 146.7zM61.0 135.5L62.2 136.4L62.3 137.9L61.1 138.7L59.5 137.4L59.8 136.1zM65.0 132.0L65.8 131.8L66.7 132.9L66.3 134.0L65.3 134.3L64.2 133.2zM71.1 143.9L71.0 145.3L70.4 146.4L69.6 146.3L68.4 145.1L69.0 143.3L69.9 142.4L70.7 142.3zM62.5 150.8L61.5 150.7L60.7 149.7L61.1 148.3L62.5 148.6L63.5 149.9zM57.1 154.2L60.6 154.4L62.4 155.0L63.6 156.2L61.6 156.9L59.2 156.9L56.5 156.3L55.4 155.3zM51.8 153.3L51.7 154.2L49.1 155.1L46.9 154.2L44.6 153.2L47.2 152.5L49.8 152.3L51.9 152.2zM54.8 158.8L55.9 159.0L56.2 160.5L55.2 161.4L54.2 161.2L53.7 159.7zM43.6 158.0L44.7 158.8L44.8 160.3L43.6 161.1L42.3 160.1L42.7 158.6zM82.6 150.4L84.7 151.0L84.9 152.1L84.1 153.4L83.1 153.0L82.6 151.6zM79.6 154.4L79.5 153.5L80.7 153.2L81.6 153.8L81.8 154.9L80.6 155.5zM66.6 154.1L65.6 153.6L66.0 152.1L67.6 150.9L68.5 151.6L68.3 153.5zM96.8 150.0L96.1 151.0L94.9 151.3L94.0 149.3L94.7 148.5L96.2 148.3zM41.2 96.4L41.1 97.5L40.1 98.3L39.1 97.5L38.8 96.4L39.8 96.0zM43.7 102.6L44.7 103.0L44.9 103.8L44.6 105.4L42.7 104.5L42.1 103.5zM53.2 102.2L54.0 102.7L53.5 103.8L52.5 104.1L51.5 103.1L51.9 102.2zM57.9 86.0L57.7 84.9L58.5 84.2L59.3 84.2L59.9 85.2L59.3 85.9zM64.3 99.3L65.4 99.3L65.8 99.9L65.3 100.8L64.6 100.9L63.9 100.1zM16.0 114.6L17.3 114.4L18.7 114.8L18.8 115.3L17.6 115.7L15.8 115.5zM43.8 103.0L45.3 102.7L46.5 103.1L46.8 103.6L46.7 104.7L45.2 104.8L43.6 104.8L43.4 103.8zM51.9 104.1L51.5 102.9L51.8 102.2L53.1 101.9L53.9 103.1L53.4 103.9zM36.5 118.9L37.2 119.1L37.5 119.5L37.1 120.2L36.6 120.2L36.1 119.3zM40.0 163.2L38.5 162.7L38.7 160.4L39.8 159.1L41.7 160.3L42.5 160.9L41.9 162.9L41.3 163.4zM43.9 160.5L44.0 159.3L45.3 158.7L46.2 159.3L46.4 160.8L45.4 161.7zM47.7 164.9L49.0 164.6L49.4 166.2L49.4 167.4L47.3 167.7L46.8 166.1zM44.0 170.4L42.1 170.1L42.2 168.6L43.4 167.5L44.5 168.1L45.3 169.9zM52.4 151.0L53.5 151.7L54.9 152.5L54.4 153.1L53.3 153.7L51.4 154.0L50.3 152.7L50.6 151.6zM56.3 154.3L57.8 154.5L58.6 155.7L57.4 156.8L55.9 156.9L55.9 155.6zM60.2 148.9L62.2 148.3L63.5 148.8L63.8 149.3L63.0 150.4L62.0 151.2L60.5 150.6L59.7 149.4zM66.8 153.8L65.2 153.6L64.8 152.1L65.6 151.7L67.3 151.3L67.4 153.2zM71.5 156.8L71.2 158.2L69.4 158.3L68.4 158.4L66.6 157.7L67.5 156.5L68.5 156.0L70.1 156.2zM64.4 161.3L63.3 160.5L63.5 159.2L64.3 158.4L65.6 159.5L66.2 161.0zM54.3 169.5L54.7 168.6L55.6 167.4L57.2 168.5L57.1 169.9L55.4 170.4zM60.6 169.4L61.4 170.3L61.3 171.9L59.6 172.1L59.1 171.1L59.0 169.7zM70.6 167.1L70.6 165.6L71.0 164.4L72.7 164.5L74.3 164.9L74.6 166.5L73.5 168.0L72.1 168.7zM37.6 171.8L36.6 171.4L36.7 169.9L37.8 169.5L39.0 170.0L39.0 171.7zM67.3 142.5L66.1 143.4L65.1 142.5L65.3 141.5L66.3 141.2L67.1 141.7zM67.9 135.1L69.4 134.4L70.8 135.2L70.6 137.0L69.7 137.8L67.9 136.6zM76.4 139.8L75.4 140.7L73.8 139.8L74.3 138.2L75.5 137.6L76.7 138.0zM75.6 149.3L76.9 147.8L77.6 148.9L77.9 150.6L76.5 150.7L75.4 150.2zM51.7 176.9L50.4 176.1L50.6 174.4L52.0 174.1L53.1 174.6L53.3 175.6zM31.2 174.5L31.0 175.7L30.1 176.4L29.4 175.9L29.0 175.0L29.7 174.0zM67.3 177.2L65.7 177.2L64.9 176.3L65.2 175.2L66.6 174.6L67.3 175.3zM37.3 185.2L33.0 183.6L31.5 182.8L33.4 179.2L35.4 177.3L38.0 178.6L40.5 180.9L39.3 182.7zM29.7 187.4L28.0 186.8L27.8 184.6L28.6 183.6L30.3 182.9L31.6 184.3L32.3 186.4L31.5 187.0zM42.0 187.2L39.9 186.2L39.9 185.3L41.5 183.8L42.5 183.4L44.5 184.2L44.4 186.1L43.3 187.0zM24.8 178.0L25.7 179.6L24.5 180.0L23.0 179.8L22.5 178.4L24.0 177.7zM34.7 176.0L34.3 174.6L35.9 173.9L37.0 174.4L37.1 175.4L36.3 176.4zM44.5 178.2L45.8 178.5L46.8 179.1L45.7 180.8L44.5 180.5L43.8 179.4zM48.1 185.7L48.9 183.9L49.9 183.6L51.0 184.3L50.5 186.0L49.6 186.2zM37.0 189.8L39.1 188.2L40.3 188.9L41.1 190.8L39.6 192.0L37.7 190.8zM34.6 194.4L33.9 195.8L33.0 195.9L31.4 195.2L32.0 193.5L33.1 193.2zM45.6 197.3L46.4 198.4L45.8 200.0L44.0 199.5L43.7 198.2L44.5 196.8zM29.5 199.0L30.4 199.5L29.8 200.7L29.2 201.1L28.2 200.4L28.3 199.0zM50.6 189.6L50.6 188.0L52.0 187.4L53.2 188.0L52.8 189.4L52.1 189.8zM41.8 169.7L40.3 168.9L39.7 167.7L41.1 166.5L42.3 167.7L43.0 168.7zM44.1 171.2L44.1 170.4L44.7 169.5L46.1 169.9L46.5 170.6L45.7 171.8zM35.4 165.2L36.4 165.0L37.5 165.9L37.0 167.0L35.4 167.0L34.9 165.9zM70.8 189.4L71.9 191.6L70.7 192.5L68.9 192.0L68.2 190.4L69.0 189.1zM72.6 196.9L73.3 196.2L75.1 197.1L75.2 198.1L74.0 198.7L72.8 198.4zM67.6 196.9L67.2 198.2L66.0 198.9L65.3 198.3L65.0 196.5L66.1 196.3zM60.6 180.4L60.3 181.3L59.0 181.3L58.0 180.2L58.4 179.3L60.2 179.1zM67.7 169.2L67.2 170.5L66.0 171.1L64.6 170.4L65.4 169.0L66.6 168.7zM73.9 163.3L75.7 164.9L76.3 166.3L75.5 167.8L73.2 168.0L72.3 167.0L71.6 165.6L72.6 164.5zM56.0 167.7L57.0 167.1L58.3 167.1L58.6 168.8L57.2 169.4L55.9 169.3zM61.2 193.1L60.5 192.1L61.2 191.4L62.3 191.6L63.1 192.4L62.1 193.1zM69.4 202.1L69.3 203.1L68.8 203.8L67.6 204.0L67.4 202.8L68.0 202.0zM34.4 210.9L35.0 212.4L34.3 213.0L33.0 212.7L32.3 211.5L33.1 210.7zM45.0 210.6L43.5 210.8L42.5 209.6L42.5 208.5L44.2 207.9L45.3 209.2zM48.8 214.8L47.2 213.5L47.4 211.2L49.2 211.4L50.7 211.6L50.2 213.4zM39.6 219.4L38.8 218.6L38.7 217.4L39.8 216.8L41.2 217.1L41.1 218.8zM32.9 216.8L34.0 218.1L34.2 220.4L34.0 223.0L32.9 222.8L32.3 222.0L31.5 220.4L31.9 218.2zM38.0 220.4L38.7 221.0L38.4 222.6L37.7 222.8L36.8 222.0L36.4 220.9zM47.9 217.8L48.7 216.8L49.9 216.3L51.0 217.4L50.7 219.1L48.8 219.5zM56.9 219.5L57.5 220.8L55.9 221.4L54.5 221.0L54.2 220.0L55.2 218.7zM64.5 218.0L64.7 216.5L66.0 215.5L67.7 216.5L67.7 218.1L66.4 219.0zM61.9 222.4L63.1 223.2L62.7 224.6L61.0 225.4L60.4 224.2L60.7 223.0zM52.0 221.8L51.2 221.9L50.8 220.6L51.7 219.5L52.6 220.3L53.0 221.4zM46.7 225.4L47.1 226.3L46.1 227.4L44.5 227.7L42.9 226.5L42.7 225.6L44.2 224.7L45.6 224.7zM48.8 227.9L50.6 228.1L51.3 229.6L49.9 230.9L48.7 230.0L48.1 228.7zM40.8 230.5L41.5 229.4L43.0 229.2L43.9 231.0L42.7 232.4L41.2 231.4zM34.0 231.7L35.4 230.3L37.0 230.8L37.9 232.4L36.7 233.5L35.4 233.5zM28.7 233.1L28.9 233.9L28.1 234.7L27.2 234.7L26.6 233.1L27.6 232.8zM42.0 236.1L42.3 234.3L43.6 233.5L45.0 234.0L44.8 236.3L43.7 236.9zM53.9 226.1L52.9 227.2L51.7 227.3L51.5 225.9L52.2 224.8L53.2 225.3zM102.8 153.9L101.3 151.2L101.1 146.7L101.0 142.6L105.0 140.0L107.9 140.5L110.3 140.2L113.0 141.5L113.6 145.8L114.6 149.7L111.3 152.9L105.9 154.4zM114.4 152.6L115.7 153.7L114.8 155.7L114.2 157.5L111.5 157.8L110.5 155.8L111.0 154.0L112.3 152.3zM96.0 169.7L96.3 171.0L95.5 172.2L94.1 172.2L93.5 170.7L94.7 169.5zM112.6 175.0L113.7 175.7L112.9 176.9L111.9 176.9L111.5 176.4L111.5 175.0zM101.7 180.3L100.9 179.3L101.1 178.5L102.4 177.9L102.9 178.7L102.7 179.8zM105.8 180.5L105.4 179.9L106.3 178.9L107.1 179.0L107.7 180.0L106.7 181.2zM90.6 181.4L89.6 180.7L89.6 179.5L90.5 178.5L91.7 178.9L91.8 180.2zM87.8 184.6L89.3 184.9L89.2 185.9L88.9 186.9L87.7 186.9L87.4 185.8zM82.5 150.7L83.4 150.6L85.4 151.4L86.3 152.4L85.2 153.3L84.0 153.2L82.9 153.0L81.4 151.7zM85.0 158.5L85.3 157.5L86.3 157.0L87.0 157.4L87.2 158.6L86.3 159.3zM92.3 163.0L92.7 161.8L93.9 161.3L94.8 162.2L94.4 163.5L93.2 163.6zM75.6 175.0L76.5 175.0L77.0 176.9L75.6 177.4L74.3 177.0L74.0 175.8zM73.9 180.9L73.2 182.2L71.5 181.7L71.0 180.3L72.2 179.4L73.3 179.7zM78.4 186.7L78.0 188.4L77.0 188.5L75.8 187.9L75.8 186.4L77.3 186.1zM81.8 191.9L82.1 193.2L81.5 194.0L79.7 193.7L79.6 192.2L80.8 191.5zM74.4 198.2L73.7 199.0L72.5 199.0L72.1 197.7L72.9 196.4L74.3 196.4zM67.9 191.9L68.5 190.1L70.3 189.6L71.3 190.9L70.5 192.7L69.1 192.4zM65.6 169.9L65.4 168.4L65.8 167.4L67.5 167.4L68.3 168.9L67.2 170.1zM64.5 163.5L63.8 162.1L64.2 160.7L65.4 160.5L66.7 161.2L66.3 163.0zM73.9 157.5L74.2 159.1L73.6 160.0L72.7 159.5L72.3 158.5L73.0 158.0zM69.7 154.8L68.6 154.3L68.2 153.2L69.2 152.5L70.5 152.5L71.1 153.6zM56.9 156.1L55.3 156.3L53.8 154.8L54.6 153.5L56.4 153.2L58.0 155.1zM59.1 148.9L61.0 148.5L61.7 149.3L61.3 150.6L60.0 151.1L59.2 150.3zM64.0 152.3L63.8 151.1L64.8 149.9L65.9 150.1L66.3 151.7L65.6 152.6zM73.3 148.9L74.0 150.0L72.8 151.2L71.3 150.7L71.0 148.9L72.5 148.5zM52.0 155.3L50.3 154.7L50.1 153.5L51.0 152.0L52.5 152.3L52.9 153.5zM56.6 147.2L56.6 145.9L57.7 145.0L59.8 145.7L60.8 146.5L59.8 147.9L58.6 147.9L57.2 147.6zM67.9 146.2L66.6 144.8L67.0 143.9L68.6 143.5L69.3 144.1L69.0 145.2zM54.5 167.3L55.8 168.1L55.5 169.3L54.8 169.9L53.2 169.7L53.5 168.0zM56.8 169.5L58.0 170.4L58.0 171.4L56.8 172.3L55.9 171.1L55.5 170.1zM51.9 162.1L52.7 161.4L54.2 161.7L54.2 162.8L53.1 163.7L51.9 163.3zM59.6 178.6L58.3 178.4L57.3 176.6L58.1 175.4L60.0 175.2L60.4 176.8zM63.5 177.2L62.5 177.0L62.0 175.4L63.7 174.6L64.6 175.5L65.1 176.9zM56.2 182.7L56.5 184.0L56.0 184.8L54.2 184.3L54.1 183.1L54.8 182.7zM59.6 185.7L59.3 184.9L60.4 184.0L61.5 184.4L61.7 185.7L60.4 186.4zM65.8 191.2L66.8 192.8L65.7 193.8L64.3 193.5L63.3 192.1L64.4 191.5zM61.8 200.8L60.4 200.7L60.1 198.8L61.1 198.1L62.4 198.6L62.4 199.5zM66.2 201.6L65.5 201.0L65.3 199.5L66.6 199.1L67.8 199.8L67.5 200.8zM52.5 198.8L54.0 199.4L53.9 200.5L53.4 201.2L52.4 201.0L52.1 199.8zM74.5 205.8L73.5 206.8L72.4 205.8L72.1 204.7L73.2 204.2L74.4 204.9zM67.9 211.1L68.5 212.1L67.9 212.9L66.5 213.2L66.4 212.1L66.8 210.9zM58.0 209.4L58.8 210.4L57.9 211.5L57.0 211.6L56.4 210.5L57.0 209.7zM14.3 235.5L13.4 237.5L12.3 237.2L11.0 235.7L11.7 234.7L14.0 234.6zM37.4 233.3L38.0 234.6L36.3 235.0L34.3 234.6L34.9 232.9L36.3 231.9zM37.5 237.1L38.7 235.9L40.8 235.2L42.2 235.8L43.6 236.3L43.1 237.8L41.1 238.1L39.0 237.4zM44.9 234.7L43.7 233.9L44.0 232.8L45.5 232.4L46.5 233.0L46.3 234.4zM49.9 226.5L49.7 228.2L48.8 229.6L47.0 229.2L46.3 226.9L47.5 226.3zM51.4 229.1L52.3 227.8L53.2 228.0L54.0 229.1L53.0 230.2L51.7 230.3zM36.7 239.5L37.9 239.1L39.6 239.5L39.9 240.6L39.1 241.9L37.0 241.9L36.1 241.0L35.3 240.4zM31.8 243.1L31.0 242.1L31.4 240.9L32.8 240.8L34.1 242.2L33.2 243.5zM41.8 240.6L43.4 240.8L43.3 242.0L42.6 243.2L41.1 242.9L40.6 241.8zM51.4 239.2L51.2 241.1L49.9 241.4L48.4 240.1L47.6 238.9L50.1 238.1zM49.7 244.0L48.8 245.1L47.1 245.3L47.0 244.2L47.1 242.9L49.2 242.9zM56.1 242.4L56.3 243.5L55.7 244.9L53.9 244.8L53.7 243.3L54.1 242.0zM33.9 226.6L34.8 226.7L35.4 226.3L35.8 228.3L35.6 229.9L34.5 230.4L33.6 230.1L33.3 228.3zM51.0 234.3L51.0 233.4L51.4 232.4L52.9 233.0L53.1 233.9L52.0 235.1zM61.3 247.2L60.7 248.2L59.6 247.8L59.0 247.1L60.1 246.1L61.0 246.2zM58.4 238.6L58.4 239.9L57.2 241.2L56.2 240.9L55.5 239.5L56.9 237.9zM29.8 238.3L29.7 237.2L30.6 236.5L31.9 236.3L32.2 237.7L31.1 238.6zM31.5 211.6L31.2 210.2L31.6 208.7L33.3 209.2L33.6 210.6L32.8 211.3zM40.1 207.8L41.4 208.7L40.9 210.9L39.6 210.6L38.2 209.8L38.5 208.6zM47.1 210.6L46.7 211.8L44.2 211.6L44.6 209.9L45.7 208.8L47.1 209.1zM35.1 216.2L34.3 214.8L35.9 213.5L37.2 213.4L37.2 215.0L36.5 215.9zM34.7 217.1L36.0 218.0L35.5 219.9L34.4 220.0L33.3 218.8L33.5 217.6zM49.5 215.8L48.1 216.4L47.1 215.0L48.0 213.7L49.5 213.2L50.4 214.8zM51.5 218.8L52.7 218.1L53.6 218.7L53.6 220.0L52.8 220.4L51.1 220.3zM55.3 220.4L55.3 219.3L56.8 219.0L57.7 219.7L57.0 220.8L56.4 221.0zM65.1 218.3L64.4 217.8L63.8 215.6L65.2 214.1L66.4 214.4L67.6 215.1L68.2 216.7L67.7 218.1zM63.7 221.8L64.8 222.6L64.1 223.9L62.7 224.7L61.9 223.3L61.8 222.0zM45.0 220.7L44.6 221.8L43.5 221.7L42.5 221.1L42.9 219.9L43.8 219.5zM38.6 221.5L39.7 221.4L40.3 222.3L39.4 223.5L38.5 223.6L38.2 222.3z"/>
</g>
<use href="#ov"/>
</g>
<g transform="translate(375.6,0)">
<polygon points="103.6,21.6 105.1,23.5 107.4,26.3 109.8,29.5 111.2,32.4 112.8,35.4 114.9,38.6 117.3,38.5 118.7,40.4 119.3,43.6 120.6,45.5 120.2,47.6 118.2,48.8 117.0,50.7 119.2,53.7 121.0,57.5 122.9,61.2 124.4,63.0 128.9,63.4 136.4,62.3 142.0,61.6 146.7,62.6 144.8,67.3 142.0,71.1 139.2,74.8 141.1,78.6 143.9,82.4 147.7,85.2 154.2,87.1 158.9,88.9 160.8,93.6 162.7,98.3 165.5,102.1 167.4,104.1 163.6,106.0 160.8,108.8 158.9,112.6 157.1,116.3 155.2,120.1 152.4,124.8 151.4,128.5 148.6,132.3 145.8,135.1 142.0,136.1 136.4,137.0 130.8,136.1 126.1,135.1 122.3,137.0 119.5,140.8 116.7,144.5 114.8,148.3 112.9,153.0 113.0,157.0 115.8,160.0 119.5,164.1 122.4,168.8 120.5,173.5 117.7,176.3 114.8,180.1 112.0,183.8 108.3,185.7 102.6,186.7 97.0,186.7 94.2,188.5 91.4,192.3 88.5,196.1 85.7,199.8 82.9,203.6 78.2,205.5 73.5,206.4 70.7,211.1 70.7,215.8 67.9,220.5 65.0,224.2 61.3,227.1 58.5,232.7 57.5,238.3 59.0,242.4 63.9,246.1 61.1,249.9 56.4,248.9 51.7,249.9 48.9,251.8 43.2,249.9 37.6,248.9 32.0,248.0 26.3,247.1 20.7,245.2 16.0,243.3 12.2,240.5 9.4,236.7 7.5,233.0 10.3,229.2 14.1,226.4 16.9,222.6 15.0,217.9 16.9,212.3 19.7,207.6 23.5,203.8 22.6,200.1 19.7,195.4 17.9,190.7 14.1,185.0 9.4,180.3 6.6,175.6 5.6,172.0 6.6,168.9 10.3,165.2 14.1,162.4 11.3,160.5 10.1,156.9 11.3,154.1 14.1,151.9 16.3,149.6 18.6,150.2 22.0,149.6 25.4,148.5 27.1,146.2 27.6,143.4 28.2,139.5 29.3,136.1 30.4,133.3 28.2,132.7 26.5,131.0 25.9,128.2 24.8,124.8 22.0,123.1 18.0,121.4 14.7,120.3 11.8,119.2 14.7,115.8 18.0,113.0 21.4,111.3 25.4,110.1 26.5,107.9 23.1,106.2 20.9,103.4 20.3,100.0 18.8,97.4 17.9,93.6 15.0,90.8 12.2,89.8 10.3,87.0 8.0,83.7 9.4,81.4 10.8,79.0 8.9,76.2 8.0,73.4 7.0,71.0 8.9,69.1 12.2,67.7 15.5,66.8 16.4,64.4 15.5,61.1 16.4,58.3 17.9,55.0 20.2,52.7 22.1,50.3 21.1,48.0 23.5,46.1 27.3,46.6 30.1,45.2 32.0,47.5 32.9,50.3 33.4,53.6 33.8,56.9 33.8,60.2 34.3,63.0 37.6,62.6 41.4,63.0 44.2,62.1 45.2,60.2 48.5,57.9 51.7,55.0 55.0,52.2 58.8,49.4 60.2,52.2 61.6,55.0 62.4,56.3 64.0,52.2 66.3,49.4 69.1,46.9 72.0,47.2 75.2,47.8 78.5,46.6 80.6,44.1 81.6,42.3 80.2,39.4 81.4,37.6 81.8,33.8 83.5,31.4 85.8,29.1 89.1,28.2 93.3,27.7 94.7,25.3 96.6,23.5 99.9,22.5" fill="#c6e7fa"/>
<g clip-path="url(#clip)">
<path fill="#fbd29c" d="M62.1 71.7L59.8 72.6L58.6 72.6L58.4 70.2L58.3 69.0L60.8 68.4L62.4 69.6L64.1 70.2zM50.2 89.5L48.0 88.5L48.9 86.5L53.0 85.8L56.0 85.8L58.5 87.7L55.6 89.4L52.6 90.5zM43.1 84.7L45.6 85.2L46.6 86.5L44.3 87.4L41.7 87.8L38.7 87.4L38.7 85.5L40.2 84.6zM15.0 74.8L13.6 73.7L14.7 72.7L15.7 72.5L17.4 73.5L16.6 74.3zM27.7 98.1L27.6 97.2L30.8 97.1L32.9 97.5L33.5 98.6L32.3 99.7L29.4 99.9L27.9 98.9zM21.0 95.3L21.1 96.3L20.2 97.9L18.9 97.1L18.1 96.1L19.8 95.1zM69.8 66.5L68.1 66.6L66.1 66.4L64.1 61.8L65.7 60.2L68.8 59.5L70.9 59.5L72.1 63.5zM78.3 73.2L77.1 71.8L76.3 68.8L75.9 66.9L75.8 64.9L77.9 61.5L78.8 62.3L79.8 63.4L81.6 66.0L81.7 67.4L80.3 70.3L79.5 73.7zM78.0 56.9L76.3 58.5L74.4 58.1L73.3 57.2L73.5 54.1L75.1 53.0L76.3 53.6L77.2 54.8zM84.0 34.5L83.4 31.8L85.6 31.7L88.6 30.0L91.6 29.7L93.6 29.6L95.0 32.4L95.1 35.6L92.4 37.9L89.6 37.3L87.6 38.4L84.8 36.9zM74.8 51.2L76.2 49.1L79.9 48.9L81.6 49.0L83.0 51.5L81.1 53.7L77.2 54.7L74.2 53.3zM104.6 40.5L103.3 40.6L102.0 39.3L101.7 37.0L102.2 35.5L103.1 34.4L104.6 35.6L105.3 36.5zM92.7 52.2L94.4 52.6L97.6 52.8L97.6 56.0L97.0 57.7L93.5 58.1L91.9 56.0L90.7 54.0zM101.5 54.2L102.4 51.2L103.6 52.5L103.9 55.2L103.8 57.0L103.3 59.4L102.0 58.5L101.0 56.5zM108.2 47.2L109.7 47.3L111.1 48.4L110.1 49.3L109.4 50.5L107.4 50.1L106.9 49.2L107.0 48.0zM78.3 87.5L77.0 86.0L78.6 83.6L79.8 81.6L82.0 82.6L82.9 86.0L81.3 88.5L79.3 88.7zM119.3 72.3L119.6 68.7L122.0 68.6L123.5 68.6L125.1 72.2L124.9 74.8L121.6 76.1L120.6 75.1zM109.9 86.0L114.0 84.4L117.4 85.0L118.0 87.0L116.7 88.7L112.2 90.6L109.3 89.0L109.0 87.0zM62.9 58.1L63.1 60.6L62.7 62.3L61.7 63.5L60.9 62.9L60.2 58.2L60.6 56.7L62.1 55.3zM95.9 74.2L96.2 71.4L98.2 71.1L100.2 71.5L100.0 72.7L99.8 75.1L98.7 77.1L96.5 75.1zM66.4 58.6L73.9 61.6L79.9 64.6L86.0 63.1L92.0 64.6L95.0 69.1L94.2 75.2L90.5 79.7L84.5 78.2L78.4 75.2L73.9 72.1L69.4 67.6L64.9 63.1zM108.1 59.5L105.6 60.5L101.5 59.4L98.4 59.9L98.3 57.7L99.0 55.1L100.9 52.7L102.0 50.8L103.6 51.0L108.7 52.4L108.2 55.5L110.3 56.2zM106.6 92.7L102.3 91.3L104.9 89.1L108.7 88.0L113.1 87.5L120.1 87.0L122.1 87.3L127.1 90.5L123.6 91.4L123.4 92.9L117.1 93.5L110.4 93.4zM126.4 79.4L125.1 80.3L121.3 79.1L120.4 76.9L120.5 74.4L123.6 73.8L126.9 73.7L129.8 76.5zM99.8 92.3L102.7 92.5L105.0 93.4L104.5 96.0L101.4 98.1L98.9 97.6L96.1 95.5L96.5 93.2zM146.0 87.5L149.6 89.4L151.5 90.2L151.1 92.9L150.3 94.8L147.3 96.0L142.3 97.0L139.1 94.8L136.7 92.6L137.4 91.5L138.7 88.1L142.4 88.5zM158.1 93.8L159.4 95.8L156.0 99.0L154.6 99.2L151.0 98.7L150.8 94.9L152.6 91.4L155.5 91.7zM155.2 103.1L154.6 106.1L152.2 107.5L149.4 107.6L146.8 108.5L145.6 104.7L145.3 100.8L147.3 100.0L148.2 96.8L150.9 98.2L152.5 99.1L155.0 100.5zM126.2 102.8L122.4 101.5L118.4 99.7L120.1 96.7L124.9 96.2L125.2 94.3L131.9 96.5L135.1 96.9L134.3 99.0L135.2 102.1L132.9 102.8L127.7 103.8zM117.2 105.4L114.4 105.8L111.7 103.6L111.0 101.6L113.1 99.9L116.7 100.6L118.4 101.6L119.1 103.2zM134.2 116.1L132.1 117.2L130.4 116.2L127.9 115.1L126.7 113.7L128.7 111.4L128.3 110.3L131.4 109.6L134.7 110.5L137.5 111.1L136.9 112.5L135.8 114.8zM144.7 121.0L144.0 120.0L144.7 117.1L145.5 115.2L147.7 113.6L148.9 117.8L149.1 118.4L149.5 122.6L148.9 123.2L148.2 126.4L145.9 125.4L144.2 125.2zM95.8 70.4L94.9 67.9L95.9 64.7L98.2 63.7L100.1 65.4L100.5 68.6L99.5 70.9L97.0 72.3zM138.2 79.9L139.3 79.9L139.3 82.1L138.6 83.3L137.6 84.1L137.0 83.3L136.4 81.4L137.4 80.0zM102.0 128.8L101.7 131.1L99.8 132.4L96.5 131.5L94.0 130.6L95.2 127.2L99.4 126.1L101.0 127.8zM105.6 158.2L106.0 159.7L104.0 161.5L101.9 161.7L97.5 161.2L97.1 158.7L97.9 157.8L102.9 158.0zM130.8 115.7L132.0 114.3L135.5 113.4L137.5 113.1L140.1 115.8L137.9 117.8L134.8 119.0L132.4 118.1zM120.0 131.7L118.7 127.9L119.5 126.4L120.7 124.4L123.5 125.3L124.2 128.3L123.5 130.2L121.6 130.8zM149.6 118.6L150.5 121.5L149.5 123.7L147.2 124.4L145.2 122.2L144.8 119.8L145.1 118.4L147.7 116.1zM95.2 170.6L103.2 167.3L108.1 165.1L112.9 168.6L114.1 173.8L114.2 176.3L115.9 185.2L105.6 186.2L103.5 189.5L93.1 184.1L94.7 179.5L95.3 172.1zM53.9 92.0L50.6 92.2L45.4 90.4L44.3 89.9L46.5 88.6L48.2 86.3L51.3 87.3L57.8 86.8L58.0 88.0L59.5 88.7L58.9 90.3L58.7 92.1zM44.7 115.2L47.4 116.4L48.9 118.3L46.9 122.1L45.7 124.2L43.1 122.1L40.9 120.2L42.1 117.5zM90.1 90.2L93.1 91.1L97.0 91.3L96.3 93.5L96.0 96.2L92.3 99.0L89.2 98.8L87.0 97.5L84.2 95.7L81.6 94.9L81.7 91.9L87.4 90.8zM107.7 95.1L110.7 92.9L112.7 93.6L115.1 93.0L119.7 96.9L120.0 98.8L118.5 102.9L115.4 102.9L114.2 105.3L108.3 103.3L105.1 101.4L105.3 99.3zM61.1 106.0L63.8 108.0L64.6 111.6L61.9 114.2L58.8 114.8L56.1 113.7L55.7 110.4L57.2 107.8zM77.3 88.3L80.6 88.7L83.7 90.2L82.9 91.7L80.4 94.1L77.4 93.3L75.7 91.7L75.9 89.9zM75.6 103.2L74.6 103.4L72.4 102.5L73.2 100.7L73.8 99.6L75.9 99.3L76.9 100.2L77.5 102.0zM89.8 137.4L92.3 140.1L90.0 145.2L87.8 145.9L84.7 149.5L84.1 147.3L81.3 144.2L81.0 140.0L80.9 136.1L82.7 136.3L85.0 132.0L87.5 134.0zM86.5 158.2L86.0 160.3L85.8 161.5L79.1 163.6L77.9 162.0L73.2 161.0L73.0 160.5L70.2 157.5L70.7 156.4L74.0 154.0L78.8 154.1L84.1 155.9zM44.7 139.9L41.4 137.2L41.3 136.0L41.5 134.0L44.4 133.3L46.2 133.1L48.7 133.7L49.9 134.3L51.8 136.5L50.4 137.4L51.1 139.5L47.6 140.1zM35.5 117.2L40.0 117.6L40.3 120.1L40.2 123.6L37.5 124.5L33.8 123.1L33.1 122.0L33.1 118.8zM48.8 120.5L48.5 123.8L47.0 126.7L43.2 127.1L41.9 124.3L42.4 119.8L45.1 118.7L46.6 119.2zM38.2 147.8L38.5 150.6L37.3 154.2L34.2 155.6L30.5 151.7L30.5 147.3L30.4 143.6L28.5 140.8L32.8 139.0L34.3 136.7L36.6 138.2L38.7 141.8zM49.8 146.4L46.5 143.2L44.2 139.8L46.4 137.5L48.5 134.4L52.5 135.0L53.2 135.3L55.1 137.6L56.2 139.8L56.7 143.9L53.5 145.9L53.1 147.1zM13.1 158.8L15.5 157.5L16.3 154.8L19.9 155.7L21.3 154.9L25.1 156.2L26.6 157.5L25.1 159.5L23.7 160.1L21.3 161.0L19.2 160.1L14.8 159.3zM45.5 157.7L47.6 158.9L48.3 160.0L48.8 162.0L46.2 163.0L42.8 163.4L40.7 164.1L38.4 161.3L36.6 160.3L38.5 158.5L40.4 156.4L41.0 155.7zM25.9 170.8L27.9 168.7L30.1 167.1L33.4 170.4L35.3 173.3L34.1 175.9L29.5 176.0L26.4 175.0zM53.9 125.7L54.8 127.5L54.0 130.9L53.7 133.5L52.7 131.9L51.6 130.6L51.8 127.3L53.0 124.8zM13.9 177.1L14.3 175.3L13.5 172.6L19.0 169.9L21.0 169.7L23.5 172.6L25.4 173.4L26.1 175.0L23.1 177.5L21.9 179.8L17.5 179.8L16.6 177.5zM21.2 185.2L22.3 184.7L24.5 184.1L27.7 186.5L26.9 189.5L27.9 192.6L25.6 195.8L24.2 196.9L20.2 194.6L19.3 193.8L19.4 188.9L18.3 186.4zM45.7 189.7L49.3 189.6L51.7 190.3L53.2 193.4L50.9 195.3L50.0 195.7L46.8 198.5L45.3 196.8L42.9 195.0L42.0 192.5L43.1 191.1L45.3 189.1zM20.2 218.8L20.1 216.1L22.9 213.6L24.1 210.5L27.4 211.2L29.3 211.9L30.8 214.8L31.0 219.9L31.1 221.4L27.4 222.5L25.2 222.2L22.5 221.9zM45.3 207.1L44.8 204.9L44.5 203.5L47.5 202.4L50.3 200.9L52.2 201.9L56.8 203.4L56.6 204.3L53.6 207.6L52.2 209.7L50.0 209.7L47.6 208.7zM56.4 211.9L58.2 211.3L61.0 214.2L60.9 216.0L60.2 219.6L55.5 220.6L54.6 217.7L53.3 213.9zM18.3 238.2L14.3 236.2L12.8 234.3L12.5 230.3L13.7 228.9L18.0 227.5L21.0 225.4L21.1 228.0L24.4 231.4L25.0 234.1L23.1 236.0L18.8 239.4zM95.8 182.0L89.1 179.0L88.6 175.5L93.6 168.0L99.7 168.2L108.8 165.3L114.0 168.8L117.2 170.6L118.5 180.3L116.5 182.6L106.3 183.4L98.0 186.3zM99.8 163.1L96.7 165.6L95.5 167.1L91.7 165.3L91.1 162.5L93.4 159.2L97.3 159.7L99.1 160.3zM67.7 218.2L65.4 217.1L62.6 217.1L61.5 213.3L58.8 211.5L62.1 206.3L62.8 204.4L65.5 203.1L67.9 202.1L71.4 209.1L71.2 211.7L71.7 214.4zM21.8 238.9L16.3 238.1L13.6 237.7L12.6 235.5L11.4 232.5L11.9 230.4L13.1 229.3L17.1 229.0L20.2 228.9L21.7 231.9L22.3 233.9L21.3 235.5zM33.8 249.5L31.6 248.1L33.6 247.1L36.1 247.4L37.5 246.7L43.3 247.3L44.2 247.7L44.0 249.1L41.4 249.8L40.1 250.5L37.0 250.7L34.5 249.8zM21.8 212.8L23.8 213.7L27.4 212.7L30.9 214.8L30.2 217.6L29.9 218.8L26.3 220.7L25.8 222.2L20.2 220.8L18.1 218.7L18.1 217.0L18.4 214.5zM59.4 218.8L58.8 216.3L56.4 216.8L55.5 211.2L57.3 209.4L58.7 207.6L60.4 207.3L62.5 208.5L64.9 208.5L63.8 213.8L64.4 215.3L62.8 218.6zM30.3 148.1L32.5 138.6L32.8 134.5L43.1 135.6L48.4 137.0L56.2 136.3L59.6 143.7L53.0 153.4L47.4 156.1L44.9 162.9L37.8 160.8L31.7 153.6zM81.7 139.5L82.8 144.3L82.3 150.7L75.8 150.8L70.2 151.5L56.2 150.7L59.8 147.1L53.9 143.1L58.9 133.9L63.1 133.1L69.2 130.1L76.4 129.3zM22.1 172.9L28.1 179.0L28.7 179.9L31.5 187.4L29.3 195.4L25.4 195.8L21.6 197.9L16.2 196.1L12.2 189.3L13.8 185.3L16.6 181.0L17.6 173.4zM49.2 219.6L46.2 221.4L37.0 225.0L29.2 220.0L21.3 219.2L17.9 210.3L26.0 207.6L32.9 201.0L46.4 201.4L47.6 203.7L57.9 208.8L56.2 212.7zM14.4 228.4L21.8 224.4L29.2 229.9L31.6 233.1L27.6 238.8L25.9 241.7L25.5 246.7L16.8 244.2L11.7 244.7L9.0 237.9L9.6 233.5L15.2 230.2zM48.4 239.2L49.6 230.1L48.9 228.3L50.5 222.0L56.8 220.5L59.2 222.8L63.2 226.9L62.9 232.2L61.8 235.3L58.9 242.3L55.4 244.3L53.0 243.5zM89.3 189.3L88.4 179.0L84.6 166.2L88.2 162.4L94.7 161.2L106.6 155.6L119.8 161.7L122.9 170.8L120.4 178.3L118.9 182.3L105.1 188.5L102.5 187.1zM82.4 196.1L84.8 196.6L82.8 201.2L78.7 204.4L76.4 208.1L73.9 206.6L69.6 205.0L67.1 201.7L66.4 195.7L70.8 194.7L76.0 191.3L79.3 192.6zM40.3 165.9L43.1 169.6L40.5 173.7L37.5 175.7L33.5 177.1L27.7 176.1L27.3 174.3L23.9 170.8L24.2 164.4L29.9 160.3L35.3 160.1L39.9 161.5zM93.4 165.3L89.9 166.2L83.4 170.7L81.8 168.4L77.0 165.3L76.5 161.9L78.3 155.7L80.0 150.2L81.4 149.9L86.7 153.4L93.4 153.7L92.2 159.8z"/>
<path fill="#c6e7fa" d="M115.0 171.1L116.8 168.9L118.0 168.7L119.5 172.1L118.6 175.3L118.1 177.4L116.2 176.3L114.6 173.7zM101.9 182.6L99.3 182.3L97.8 181.1L97.0 179.6L98.9 179.0L102.8 178.7L103.0 179.9L102.9 181.6zM85.3 139.0L82.8 138.2L80.1 138.0L80.9 135.0L82.5 134.1L84.8 133.1L87.4 134.4L86.6 136.7zM46.6 145.2L44.5 148.0L42.2 147.9L41.5 146.8L40.5 144.6L42.2 142.0L44.1 141.8L45.9 143.4zM21.5 205.0L24.7 206.2L27.7 208.5L26.3 211.6L24.7 213.2L20.6 213.4L18.1 211.4L18.7 208.3zM91.9 175.0L93.4 173.4L95.4 172.6L97.6 172.6L99.5 174.8L97.5 176.0L95.9 176.5L93.6 176.7zM117.6 174.9L116.4 175.8L114.7 174.8L114.2 171.7L115.5 169.8L116.7 169.1L118.2 169.9L119.2 172.0zM112.2 171.7L113.0 173.2L110.9 173.6L108.9 173.4L106.7 172.6L106.8 171.5L108.4 171.2L111.0 171.3zM13.0 228.2L13.6 226.7L15.9 225.8L17.7 228.4L18.3 230.3L16.5 231.5L14.7 232.6L13.2 229.8zM27.5 215.1L23.9 216.0L21.4 211.6L22.2 209.4L24.3 207.5L29.4 207.7L31.5 208.7L29.5 212.5zM62.3 243.9L63.5 244.2L64.4 246.0L63.3 248.5L62.2 248.7L60.4 248.1L59.4 246.3L60.8 244.8z"/>
<path fill="#72a9fa" d="M23.2 64.1L24.7 64.4L25.2 65.1L24.5 66.4L22.5 66.9L21.4 66.0L20.4 65.0L21.2 64.6zM51.4 93.4L52.0 95.5L51.0 98.8L50.0 99.1L49.0 98.1L48.4 95.8L49.1 94.5L50.6 92.7zM32.4 89.0L31.8 88.1L32.0 87.0L33.0 86.7L33.7 87.2L33.4 88.6zM45.9 98.9L46.1 97.5L47.2 96.9L48.4 97.5L48.1 98.9L46.6 99.9zM112.2 77.3L113.3 78.2L113.7 79.7L112.8 80.5L111.2 80.2L111.2 78.5zM136.5 75.9L136.6 77.1L135.6 77.5L134.9 77.7L134.5 76.3L135.2 75.5zM112.9 75.4L112.0 76.9L110.0 77.4L109.6 75.8L110.0 73.7L111.9 74.3zM161.5 107.6L157.8 108.1L154.9 107.2L155.2 104.9L156.0 102.9L159.4 102.7L163.8 104.0L163.6 106.4zM114.8 114.2L115.9 112.7L116.7 112.0L118.0 113.3L119.3 114.7L118.0 116.0L116.6 117.1L115.1 116.0zM129.9 119.3L128.5 118.6L128.7 116.4L130.2 115.7L131.3 115.5L132.5 117.5L133.0 118.6L131.5 119.8zM137.6 125.9L136.8 123.7L139.1 120.6L142.5 120.6L143.1 121.7L144.3 123.5L143.2 125.8L139.6 127.1zM154.1 118.8L154.9 120.1L156.0 122.0L155.8 124.3L154.9 124.8L153.5 125.0L153.3 122.8L153.4 121.0zM105.9 153.1L106.6 154.6L106.7 156.7L105.2 157.1L103.5 156.7L103.3 155.6L103.0 153.7L104.6 153.4zM133.4 122.8L132.2 121.4L134.2 119.3L138.1 118.8L140.2 121.0L141.0 123.3L137.9 125.4L134.6 125.3zM129.0 128.4L127.4 127.0L126.5 126.0L126.0 123.1L128.0 122.0L130.2 123.1L131.5 125.2L131.2 126.0zM152.1 127.2L151.0 128.8L149.5 129.9L147.5 128.7L147.1 124.9L148.6 124.6L151.0 124.5L152.6 124.8zM119.5 115.6L120.7 116.5L120.6 118.9L119.4 119.8L117.8 119.2L116.8 118.0L115.8 116.8L117.4 115.1zM117.1 121.5L116.3 123.5L115.2 123.4L113.9 122.3L114.7 120.8L115.9 121.0zM50.7 95.1L51.4 97.3L51.1 100.7L49.7 103.1L47.9 100.8L47.7 99.6L47.8 95.6L49.2 94.5zM45.5 105.1L44.0 105.0L42.9 104.1L43.0 101.8L44.6 100.5L46.1 101.3L46.8 102.4L46.2 104.2zM89.8 105.9L88.0 107.2L86.7 105.8L86.5 104.3L87.0 102.7L88.6 102.7L89.6 103.3L90.9 104.9zM93.6 106.6L92.5 106.4L91.3 104.9L92.3 104.0L93.9 104.1L94.5 105.3zM56.1 133.9L53.1 134.4L50.9 133.7L50.2 132.8L52.5 132.1L53.9 132.0L57.5 132.2L58.6 133.6zM62.8 139.1L63.9 138.4L66.2 136.5L67.2 137.7L69.2 138.4L68.7 140.5L66.0 141.1L64.9 140.8zM65.2 135.6L63.4 134.4L63.2 132.9L64.7 131.8L66.8 132.9L66.3 134.3zM60.4 120.6L60.5 121.9L58.8 122.8L57.8 121.7L58.0 119.6L59.5 120.0zM58.1 139.0L58.7 140.3L58.5 141.4L57.7 142.1L55.9 141.1L56.0 139.8zM48.1 164.5L48.2 163.0L49.9 163.0L51.5 162.8L52.7 164.0L51.6 166.2L50.6 167.1L48.5 166.1zM67.9 161.7L69.5 162.8L69.4 164.7L67.4 165.1L66.7 163.7L66.6 161.8zM50.3 105.8L51.0 107.0L48.0 107.1L46.0 107.1L43.4 106.8L42.3 105.7L44.1 104.5L49.3 104.8zM59.6 180.4L64.6 180.1L66.1 180.2L69.6 181.1L70.3 185.6L71.2 190.0L68.0 195.3L67.3 196.2L64.2 193.0L59.8 191.4L58.1 190.0L60.7 183.6zM72.2 171.0L75.5 172.5L77.0 174.5L75.8 178.5L73.1 178.6L69.1 177.0L67.9 175.5L69.5 172.5zM60.1 203.3L60.7 201.6L64.3 200.1L66.1 202.4L67.7 204.4L66.8 206.4L62.6 206.5L61.3 205.3zM59.2 207.9L60.2 208.5L60.0 210.1L59.2 211.4L57.7 210.7L57.6 208.8zM51.9 212.9L51.4 211.4L52.5 208.3L53.7 207.3L55.4 208.0L56.2 210.7L55.3 214.0L53.2 214.5zM44.1 214.7L45.9 213.9L47.0 215.1L46.5 216.3L45.6 216.9L44.4 216.5zM77.5 180.0L74.2 176.0L74.7 171.5L75.8 169.6L80.3 167.7L82.0 166.3L85.2 170.4L85.1 172.7L87.1 177.5L85.6 179.9L80.7 180.5L78.6 180.0zM82.0 189.6L82.8 191.7L80.7 196.0L80.0 195.6L75.3 197.0L74.4 195.6L70.9 192.6L70.5 190.8L72.8 187.8L74.9 184.6L78.1 185.1L81.4 186.6zM64.5 155.1L65.7 155.6L65.9 156.7L65.4 158.0L64.0 157.7L63.3 156.6zM60.0 193.5L57.3 192.8L56.8 186.8L57.4 184.6L62.1 183.2L63.7 183.5L66.9 186.0L66.5 187.1L67.2 191.2L66.3 195.7L64.2 197.2L60.4 196.4zM57.1 176.3L59.4 177.4L60.6 178.1L61.2 179.5L59.4 181.3L56.2 181.4L54.3 179.7L54.0 177.5zM28.1 243.9L26.6 243.8L26.0 243.0L26.4 241.2L27.9 241.1L29.2 242.7zM20.8 236.8L22.9 236.4L24.4 237.1L25.0 237.6L24.4 240.1L22.7 240.3L21.8 239.5L20.9 237.8zM17.3 239.2L18.6 238.4L19.8 238.8L19.7 240.4L18.8 241.4L16.9 240.2zM37.3 216.6L37.6 217.2L37.0 218.2L35.5 217.8L35.4 216.5L36.2 215.8zM50.4 208.5L51.2 209.1L51.2 210.8L49.7 210.6L49.0 210.2L48.9 208.2zM58.9 209.2L59.7 210.8L59.3 212.7L58.1 212.9L56.3 212.9L55.9 211.7L55.6 209.2L57.0 209.5zM59.8 206.1L58.0 207.0L56.6 205.9L56.9 203.9L58.4 203.3L59.5 204.1zM77.2 194.3L76.2 194.9L75.2 193.7L75.1 192.7L76.0 192.4L77.2 192.5zM79.0 165.8L79.8 166.7L79.9 167.6L78.5 168.2L77.8 167.4L78.2 166.3zM66.3 168.2L65.5 166.6L67.0 165.7L68.9 165.7L68.8 168.1L67.7 168.9zM59.7 173.5L59.3 172.5L59.9 171.6L60.9 172.1L61.0 172.8L60.4 173.5zM73.6 185.7L75.0 187.2L75.0 188.5L73.3 189.0L72.3 187.8L72.1 186.0zM75.7 205.7L74.5 206.2L72.7 205.9L72.3 204.1L74.0 203.1L75.9 203.6zM74.4 174.6L76.0 174.6L77.0 175.5L75.9 176.9L74.3 176.8L73.7 175.5zM59.0 167.4L57.8 167.7L56.7 167.2L56.9 165.6L58.2 165.5L59.7 166.3zM76.3 173.7L77.3 174.1L77.5 175.3L76.4 175.6L75.4 175.1L75.2 173.9zM64.0 198.4L65.2 199.1L65.2 200.5L63.1 201.0L62.5 200.2L63.0 198.5zM72.2 201.5L73.5 201.1L74.2 201.9L73.7 203.2L72.4 203.5L71.3 202.4zM78.6 208.4L79.7 208.5L79.8 209.7L79.0 210.5L78.2 210.1L78.1 209.2zM83.3 201.6L82.8 200.7L83.1 199.9L84.2 199.8L84.8 200.7L84.5 201.7zM68.6 196.9L67.9 197.4L65.8 197.2L65.9 195.0L67.0 194.5L68.5 194.7zM63.4 192.5L64.9 191.9L66.3 192.6L66.2 194.2L64.5 195.0L63.5 194.4zM77.9 210.4L79.4 209.6L80.8 210.9L80.1 212.1L78.8 212.5L77.9 211.7zM74.3 173.9L75.7 175.6L75.6 176.8L73.6 177.0L72.5 176.1L73.0 174.9zM81.2 196.5L80.4 198.0L79.2 197.9L78.6 196.9L78.9 195.4L80.2 195.4zM147.5 100.3L146.9 100.2L145.9 99.6L146.5 98.7L147.8 98.3L147.9 99.3zM123.7 108.1L121.8 108.8L121.3 107.8L121.1 106.3L123.1 105.7L123.9 106.4zM128.6 114.7L129.5 114.4L130.9 115.5L129.9 117.0L128.5 117.2L127.3 115.5zM123.3 108.4L123.3 106.9L124.9 107.0L125.8 107.2L125.2 108.6L124.3 109.2zM140.3 129.6L141.2 129.0L142.0 129.8L141.8 131.2L140.7 131.0L140.0 130.6zM140.2 132.0L142.2 131.3L142.6 132.4L142.4 133.6L140.8 134.0L139.9 133.3zM125.0 102.0L126.7 103.0L126.4 104.7L125.3 104.8L124.1 104.1L123.9 103.1zM121.3 117.8L122.3 118.4L121.8 119.7L120.9 120.0L120.1 119.4L120.5 118.1zM147.5 116.3L146.9 115.7L147.7 114.7L149.2 114.5L149.3 115.7L148.7 116.9zM139.2 116.3L139.9 117.4L139.1 118.3L137.9 118.3L136.9 117.6L137.4 116.2zM27.3 240.5L28.1 241.0L28.9 241.6L27.8 242.7L26.6 242.5L26.3 241.4zM32.6 241.1L32.0 240.6L32.3 239.5L33.2 239.7L33.8 240.2L33.3 241.5zM48.3 229.6L49.4 229.4L49.6 230.3L49.2 231.3L48.3 231.3L47.7 230.5zM29.5 231.8L29.9 232.7L27.9 233.3L27.1 232.4L27.6 230.8L28.7 231.0zM34.9 235.7L35.7 234.7L36.5 234.5L37.2 235.6L37.2 236.7L35.9 236.9zM39.5 230.6L40.2 230.3L41.2 230.6L40.8 231.8L40.1 232.0L39.3 231.4zM43.1 240.1L44.8 239.3L45.7 240.4L45.7 241.3L44.3 242.2L43.3 241.3zM54.3 241.3L52.7 241.6L52.3 240.3L53.4 239.1L54.7 238.6L54.9 240.7zM29.0 242.7L28.4 244.1L27.3 244.3L26.5 242.6L26.9 241.5L28.0 241.6z"/>
<path fill="#ee8256" d="M53.6 61.9L52.5 61.0L53.0 58.3L53.9 56.8L56.4 57.3L58.4 58.4L57.6 60.6L56.7 61.1zM34.8 90.9L36.2 91.1L37.0 92.2L37.7 94.2L36.9 95.3L35.6 96.1L34.5 94.4L33.8 92.7zM73.4 102.1L77.0 103.2L77.2 104.9L76.4 105.7L73.7 107.5L71.4 108.7L68.3 108.3L65.5 107.4L63.7 105.4L66.2 104.0L65.8 102.7L70.9 102.9zM104.9 69.9L103.2 68.4L104.2 65.3L105.8 65.2L107.7 65.6L109.3 67.8L107.5 69.7L105.8 70.7zM121.6 60.9L121.8 63.2L120.9 65.8L120.3 66.4L119.5 65.1L119.6 63.0L119.9 61.2L120.8 60.4zM130.7 74.6L129.4 71.9L131.0 70.8L132.9 68.5L134.7 69.5L136.8 70.8L136.0 73.7L133.5 74.6zM102.6 68.9L102.6 66.8L104.7 65.0L107.5 64.2L108.9 65.6L108.6 68.6L106.8 69.5L105.2 70.4zM129.5 73.6L130.5 70.7L132.4 69.1L134.1 69.6L136.3 72.1L135.5 73.9L133.8 76.1L131.3 75.5zM117.5 83.5L118.8 81.9L120.7 81.6L123.0 82.4L124.2 83.5L122.4 85.5L120.1 87.3L118.9 85.3zM119.7 59.2L120.8 61.2L121.6 62.2L120.8 64.9L119.8 65.7L119.0 65.2L118.5 63.4L118.9 61.2zM140.4 106.8L139.3 109.3L136.5 109.9L133.9 109.5L133.8 106.9L134.2 105.4L136.0 103.0L138.9 105.3zM141.8 96.3L140.5 95.1L140.8 92.4L142.0 91.5L143.2 91.6L144.4 92.4L145.3 94.0L143.2 96.3zM108.4 157.6L106.2 157.3L106.3 153.8L109.0 151.9L111.3 151.8L111.9 154.6L112.6 157.2L109.8 158.4zM99.9 138.4L99.4 141.2L96.4 141.0L95.0 140.1L95.1 137.6L95.8 135.9L98.5 135.4L99.5 137.5zM106.3 164.1L107.7 160.8L113.0 160.4L117.6 163.1L115.9 166.1L115.2 169.3L109.1 169.9L106.5 167.1zM104.6 170.2L101.0 170.2L100.2 171.5L95.7 170.0L93.7 170.2L91.6 167.4L92.9 165.5L96.7 163.2L99.4 163.3L100.4 163.0L105.0 164.9L105.6 167.9zM105.4 170.7L108.0 172.0L107.5 173.4L106.6 175.8L101.6 175.3L100.5 174.1L99.6 172.4L101.7 170.6zM73.1 106.6L69.8 107.2L66.9 106.2L67.1 104.5L69.5 102.8L71.6 103.1L74.1 103.4L74.8 104.6zM85.0 97.5L85.2 100.3L83.9 101.5L82.1 103.1L80.6 100.8L79.5 98.8L81.4 95.4L83.6 95.3zM96.9 117.6L93.6 119.5L85.3 128.2L81.5 125.6L70.8 127.0L67.2 124.8L67.0 117.0L71.8 110.7L70.8 106.8L78.1 101.3L86.5 108.1L94.4 108.6zM110.0 160.2L106.0 158.4L105.0 157.4L106.2 155.8L106.6 153.4L108.2 151.2L113.1 150.7L113.6 152.7L118.2 155.0L115.8 156.0L115.5 158.7L114.0 160.6zM95.2 131.5L98.6 131.9L100.6 131.8L106.6 131.3L107.0 132.7L107.6 135.6L104.7 136.7L102.1 137.2L98.5 137.7L95.7 137.2L93.1 135.3L94.6 134.4zM109.8 91.7L111.4 90.8L112.2 91.9L112.7 93.3L111.4 94.2L109.8 93.2zM55.2 146.5L57.4 144.1L59.1 142.3L64.4 141.0L66.0 140.7L68.6 145.2L70.9 147.0L71.0 149.0L66.7 151.2L61.3 151.2L58.6 153.0L56.9 150.1zM51.8 151.1L53.1 150.6L56.8 151.8L59.4 154.1L62.1 157.1L60.3 157.9L53.1 158.9L50.9 159.5L48.5 158.1L42.8 157.3L42.9 154.1L47.1 152.6zM83.2 149.2L85.2 147.0L88.7 148.4L90.5 150.5L88.0 153.7L85.9 155.4L82.2 154.8L81.7 151.7zM93.1 153.4L94.9 152.8L99.8 153.7L100.5 154.3L103.6 155.3L103.9 158.6L102.7 159.6L100.0 161.1L97.0 162.3L91.9 160.0L91.5 158.3L92.4 156.4zM63.7 140.9L69.0 144.0L72.2 148.5L72.6 154.0L75.7 158.1L71.0 162.4L60.3 160.8L52.8 160.5L54.8 154.8L49.0 152.0L54.6 144.9L61.1 144.4zM47.1 161.2L52.6 163.7L51.1 165.0L50.7 168.8L47.9 171.0L43.3 172.3L41.8 171.7L38.9 167.6L37.4 166.4L36.8 164.8L40.8 159.7L43.5 161.2zM44.4 172.9L51.0 176.3L50.0 183.6L50.1 192.7L44.6 194.3L34.0 196.0L29.1 195.4L24.3 190.3L22.3 183.9L23.9 176.9L34.7 174.1L36.7 170.7zM43.3 172.4L40.9 175.2L38.2 174.4L32.2 174.6L30.5 170.1L31.4 167.8L29.6 165.9L35.4 163.9L38.7 163.0L44.2 166.0L46.1 166.0L45.5 169.0zM49.2 214.4L47.3 219.9L41.4 220.5L34.8 221.3L33.7 219.2L30.1 215.7L29.0 210.3L35.3 205.9L39.6 205.8L42.9 202.3L45.6 205.1L47.6 210.7zM66.2 215.6L69.5 217.0L69.1 218.9L68.2 221.6L69.3 223.2L63.4 224.0L62.3 225.1L60.7 223.0L58.5 221.5L58.8 219.9L60.3 217.1L61.6 216.8zM51.0 227.6L57.7 232.5L56.5 233.4L54.7 239.0L46.6 238.5L40.1 241.4L35.0 239.7L27.6 237.3L29.3 231.8L30.7 230.9L38.8 227.8L41.3 225.1zM104.5 153.2L106.8 153.8L110.0 156.2L108.8 158.2L104.8 159.7L102.0 159.2L99.6 157.0L102.2 154.2zM105.7 169.4L109.4 168.4L111.8 168.5L113.5 169.3L113.6 171.3L111.9 171.7L109.9 171.8L106.6 170.3zM83.3 148.5L86.9 147.8L89.2 152.8L89.5 155.0L91.2 158.5L87.7 163.4L84.6 162.8L82.4 163.5L81.4 161.0L80.7 157.9L78.7 152.5L79.7 150.5zM96.1 166.9L98.3 166.2L101.8 166.6L102.4 168.5L102.1 170.7L97.8 172.1L95.0 170.7L94.5 169.0zM102.0 179.1L103.8 177.2L106.1 176.6L108.7 178.3L109.7 179.7L108.3 181.3L104.7 181.4L102.0 179.7zM51.2 151.0L54.9 144.3L55.4 142.6L65.7 145.6L71.1 146.3L73.9 146.3L75.3 156.3L69.2 156.3L66.5 160.4L59.7 161.3L52.8 157.4L50.7 154.1zM64.9 164.0L66.5 166.3L64.2 168.9L62.3 171.2L59.0 172.5L57.2 170.7L53.6 169.8L54.0 167.8L55.4 165.4L55.7 163.2L59.7 163.0L62.6 163.0zM44.7 227.1L53.2 230.5L55.0 232.8L59.2 240.9L55.7 242.1L46.1 242.9L40.7 246.4L33.9 242.3L27.0 237.8L24.1 232.1L31.0 229.0L37.0 227.3zM35.1 209.8L38.4 208.6L46.3 205.5L49.8 209.4L51.8 213.5L49.6 216.4L51.4 220.4L45.9 220.9L41.0 219.8L35.7 219.0L34.0 214.8L30.1 213.8zM67.0 222.4L64.9 222.2L62.3 221.8L61.0 219.6L62.3 214.6L65.1 213.3L67.8 216.3L68.3 219.4zM33.0 201.8L30.9 200.3L33.0 198.0L35.4 195.0L39.2 195.4L43.5 196.4L45.4 196.1L47.7 198.3L47.8 202.4L44.4 201.8L40.5 202.9L36.9 203.6zM28.8 56.9L26.7 58.5L25.2 58.7L24.1 56.4L24.4 54.1L26.3 53.0L28.3 52.7L29.2 55.1zM28.7 76.4L30.1 75.8L32.1 75.8L33.0 77.8L32.1 79.7L31.1 80.2L28.9 79.6L28.3 78.7zM11.8 79.5L12.7 80.5L14.1 82.4L14.5 84.2L11.5 85.9L9.8 84.7L9.3 83.5L9.2 81.3zM60.1 87.4L58.2 87.9L56.8 85.5L56.6 84.1L59.1 82.9L61.3 81.8L62.5 83.9L62.9 86.4zM33.0 89.3L34.4 89.9L35.1 92.5L34.4 94.5L32.2 94.3L29.8 93.3L29.8 91.0L31.7 89.8zM34.4 90.7L34.1 89.1L35.3 87.3L36.5 87.9L37.6 89.6L36.2 91.6zM65.5 98.0L67.4 98.7L67.9 100.4L66.2 101.5L64.2 102.7L63.3 100.9L62.6 99.4L63.9 98.4zM46.5 103.1L46.4 105.3L44.9 105.9L42.8 105.0L42.9 102.2L45.4 102.0zM54.5 104.5L52.5 105.5L52.0 104.3L51.8 102.8L53.4 102.3L54.4 102.8zM57.4 60.1L56.7 61.4L54.9 62.0L53.0 60.0L54.1 58.8L56.5 58.3zM104.0 43.2L104.8 42.0L106.0 42.8L106.3 43.8L105.3 44.8L104.4 44.7zM102.7 47.4L103.3 45.7L104.1 45.7L105.1 46.9L105.0 47.6L103.4 48.5zM105.9 43.9L107.4 44.7L106.8 45.7L106.0 46.1L105.0 45.8L104.8 44.6zM104.5 65.4L106.5 65.3L108.6 65.8L109.4 68.8L107.5 70.3L104.6 70.4L103.5 68.4L103.2 66.5zM97.1 76.8L99.3 76.9L99.8 77.9L99.4 81.4L98.6 82.1L96.7 82.4L96.4 81.1L96.2 78.1zM134.0 75.8L130.9 74.6L130.5 72.1L130.8 69.7L132.9 68.6L135.3 70.0L137.0 71.5L136.6 73.6zM119.8 80.5L122.5 82.7L123.0 84.8L123.6 86.4L119.8 87.2L118.7 86.3L116.9 84.5L118.4 82.2zM62.3 83.3L62.6 85.0L61.4 86.6L60.6 87.8L59.1 87.1L57.7 85.0L59.4 83.4L60.0 82.2zM129.2 85.9L130.2 85.1L131.5 86.1L131.4 87.5L130.0 88.1L128.6 86.9zM108.9 65.2L108.9 67.6L108.5 69.6L105.8 70.3L103.7 68.8L102.9 66.6L103.9 64.0L105.5 64.9zM130.1 69.4L132.0 68.5L134.6 69.0L135.8 71.6L135.8 74.7L132.6 75.4L131.4 74.9L129.4 73.3zM123.4 83.3L123.7 85.6L121.0 87.0L119.5 86.7L116.9 84.1L118.0 82.8L119.1 80.3L121.9 80.4zM98.0 77.8L99.1 77.2L100.5 78.1L100.6 79.5L100.9 81.9L99.2 82.9L97.4 81.9L96.2 80.8zM128.6 86.9L128.6 85.0L129.3 83.5L130.0 83.8L131.3 85.5L130.7 86.6L130.3 88.2L129.4 87.9zM135.2 103.8L138.5 103.1L140.3 106.8L138.9 108.8L136.5 110.0L134.4 110.8L133.2 107.5L133.8 105.7zM119.1 102.4L120.4 104.6L119.3 105.3L118.1 106.0L116.3 106.5L115.4 104.1L116.2 102.6L117.2 102.2zM129.3 103.8L127.0 104.7L125.7 103.4L125.6 101.2L127.8 101.1L129.4 101.6zM150.4 112.9L149.9 112.3L150.8 110.1L151.9 108.9L153.7 109.2L154.7 110.6L154.6 112.2L152.5 113.4zM144.2 111.8L143.6 112.9L142.7 113.4L141.6 111.5L142.0 108.3L143.2 107.3L143.8 107.7L144.8 109.6zM143.5 91.2L145.1 92.3L144.3 93.6L143.8 95.1L142.2 95.3L140.8 94.7L140.3 93.5L141.3 91.5zM159.0 107.3L161.2 107.0L162.4 108.1L163.0 109.1L162.4 109.9L160.0 110.9L158.7 109.8L157.7 108.5zM97.4 112.3L99.1 112.4L101.3 113.5L101.0 114.8L99.9 116.4L98.8 117.0L96.5 116.2L97.1 114.6zM102.3 121.1L103.5 119.4L105.0 121.2L106.2 124.0L104.9 127.1L103.6 127.7L102.1 126.6L101.0 122.7zM123.7 115.0L124.9 116.1L125.1 117.5L123.6 118.6L122.3 119.4L120.6 117.5L120.7 116.5L121.8 115.2zM124.7 119.5L127.1 120.3L127.4 121.6L127.5 123.1L125.0 122.8L123.8 121.8zM114.2 111.6L115.7 111.6L115.8 114.1L113.7 115.5L112.1 114.7L111.9 112.3zM142.2 117.5L141.1 118.4L139.8 117.7L139.8 116.5L140.5 115.7L142.0 116.4zM150.7 115.6L152.2 115.6L153.4 117.0L152.1 118.7L151.0 118.0L149.7 116.9zM98.5 121.9L100.7 123.2L100.2 125.5L98.9 128.9L97.1 127.7L94.1 125.7L94.0 124.5L95.4 122.0zM121.4 118.1L120.8 117.0L121.2 115.4L122.9 114.6L123.8 114.8L124.9 116.0L124.8 118.6L123.5 118.9zM126.7 122.7L126.8 120.2L128.6 119.0L130.1 119.8L130.5 121.8L128.7 122.9zM137.4 126.1L137.3 124.4L139.2 123.3L140.5 124.0L140.1 125.7L139.0 127.3zM147.3 129.6L145.3 129.5L144.1 129.3L144.3 127.1L145.2 126.6L147.3 126.5zM152.4 114.0L153.0 115.4L153.0 117.0L151.4 117.5L149.5 116.8L150.3 114.7zM143.9 135.8L143.8 134.5L145.6 133.1L146.7 133.9L147.6 135.1L146.0 136.3zM125.1 132.1L125.0 130.1L125.9 128.4L127.6 128.6L128.3 130.4L127.9 131.6zM105.8 177.2L106.2 179.3L103.9 180.8L102.4 181.0L101.8 179.1L102.0 177.3L102.5 176.2L104.3 176.8zM106.4 181.8L104.8 181.5L103.3 179.9L104.7 177.8L107.2 178.5L107.9 180.3zM94.8 172.4L93.9 170.6L95.3 169.3L97.1 169.9L97.7 171.8L96.2 172.8zM111.3 176.7L110.8 174.9L112.3 174.2L114.0 174.5L114.3 175.8L112.4 177.1zM108.6 128.6L105.5 129.2L103.5 128.2L103.5 124.7L104.8 121.4L107.5 119.3L110.5 122.5L109.2 125.3zM96.3 112.2L98.0 111.4L99.2 112.7L99.3 114.0L99.0 115.5L96.9 115.7L95.6 114.5L94.8 112.7zM94.0 119.3L92.4 118.9L91.3 117.2L91.4 115.8L93.4 115.7L95.4 117.3zM106.4 109.1L106.6 111.1L105.0 111.5L103.8 110.8L103.5 108.7L104.8 107.4zM112.5 112.0L114.2 113.7L114.0 115.2L112.3 115.9L111.0 115.4L111.2 113.7zM65.4 97.9L66.8 97.7L67.8 99.6L66.5 101.8L64.8 102.2L63.8 102.0L63.5 100.4L63.5 98.3zM87.9 99.3L89.7 99.7L89.6 101.6L87.6 103.0L86.3 102.0L86.1 99.5zM58.7 84.5L60.7 84.1L60.9 85.4L60.9 87.5L59.8 88.2L58.5 88.0L56.6 87.0L57.5 85.6zM54.4 102.0L55.2 103.2L54.3 105.1L52.8 105.3L51.6 104.4L52.4 102.1zM43.2 101.9L44.9 102.0L46.2 103.1L45.9 105.3L45.5 106.1L43.3 105.7L42.2 104.5L42.0 102.2zM41.7 95.2L42.3 96.2L42.5 98.4L41.1 99.6L39.1 99.2L38.3 98.1L38.1 95.9L38.9 94.8zM94.1 108.6L94.2 106.8L95.8 105.7L97.5 105.9L97.4 108.3L95.8 109.8zM60.2 138.3L59.0 137.6L59.2 135.8L60.8 134.7L62.4 134.9L63.9 137.0L63.5 138.7L62.5 139.2zM67.0 134.6L65.3 134.6L64.1 134.1L64.0 131.8L66.5 131.7L67.9 132.8zM64.0 138.9L65.7 141.5L64.8 142.3L62.9 143.7L61.5 143.2L60.7 141.9L60.9 139.5L62.5 139.6zM68.0 143.6L69.5 142.3L71.4 142.2L72.9 142.6L72.6 145.9L71.1 148.5L70.0 148.0L67.7 145.2zM64.4 150.3L63.2 151.6L60.8 152.2L59.5 150.1L59.4 148.8L61.8 147.6L62.9 146.9L64.7 148.9zM43.2 152.2L47.4 149.7L51.9 150.0L55.5 151.8L54.7 153.1L51.3 154.6L48.8 155.4L44.9 154.5zM53.8 158.4L55.1 157.5L56.9 157.9L58.0 160.2L57.4 161.2L56.1 162.1L53.4 162.1L53.5 160.7zM46.4 159.8L46.1 161.2L44.0 162.0L42.0 160.7L41.7 159.5L42.8 157.2L44.4 157.0L46.5 157.9zM81.3 152.1L81.3 150.2L83.6 148.6L85.4 150.3L87.4 152.0L85.4 153.5L84.3 155.1L82.4 153.4zM82.3 152.7L82.9 155.0L81.3 156.4L79.8 155.4L78.8 153.4L80.3 152.8zM69.1 154.9L67.1 154.6L65.8 153.5L65.7 151.8L66.9 150.3L68.2 149.9L69.9 151.3L69.3 153.2zM94.3 148.3L94.9 147.7L97.3 148.0L98.6 149.4L98.2 150.3L97.2 151.8L95.5 152.0L93.6 151.2zM79.1 145.4L80.1 146.7L79.0 148.7L77.0 148.2L75.8 146.5L77.5 145.3zM84.7 140.7L86.9 140.9L87.9 142.5L85.9 143.6L85.0 143.5L83.9 142.0zM70.3 155.7L70.2 157.2L69.5 159.0L68.5 159.7L65.9 158.9L65.4 156.7L66.8 155.1L67.6 154.5zM87.6 144.3L88.3 142.1L90.0 141.9L91.6 142.7L91.7 143.9L91.6 146.4L89.6 146.3L88.4 145.8zM16.3 114.4L18.2 113.6L19.4 114.2L19.6 114.9L18.9 115.9L17.5 116.4L16.2 116.4L14.8 114.9zM38.2 139.9L36.4 140.7L35.3 141.1L32.9 141.4L31.0 139.9L30.5 139.0L33.3 138.2L35.9 138.8zM48.2 102.0L48.9 103.1L47.2 104.4L45.8 104.8L43.1 104.8L42.0 103.7L43.2 102.2L45.8 101.9zM54.5 104.7L52.5 104.6L50.7 103.7L52.1 101.8L54.0 100.8L54.7 102.3zM67.8 117.5L65.9 118.7L63.8 118.9L62.4 118.2L63.0 116.6L64.3 115.9L65.7 115.6L67.1 116.8zM37.6 161.0L40.1 161.0L43.0 161.1L44.1 164.0L43.2 166.9L39.4 166.9L36.7 166.2L34.4 163.3zM46.2 168.8L44.9 170.1L42.9 170.0L41.9 168.3L40.8 166.7L42.8 165.4L45.1 165.4L46.0 166.2zM40.6 167.2L41.1 169.8L40.0 170.8L38.4 171.9L37.2 170.7L37.0 169.5L37.8 167.2L38.5 167.5zM45.3 164.0L45.1 162.3L46.3 161.3L47.4 161.1L48.4 161.8L49.1 163.6L48.3 164.6L46.3 165.8zM56.1 136.1L57.7 137.4L57.5 139.0L56.4 140.6L54.6 140.0L54.6 137.7zM62.5 141.0L61.0 141.8L59.0 140.0L60.3 138.1L62.2 138.3L62.8 139.8zM69.2 136.2L68.8 139.4L66.7 140.1L65.1 139.5L64.0 138.0L63.8 136.7L66.2 135.1L67.7 136.1zM60.1 150.6L59.0 149.8L58.9 148.1L59.0 146.7L61.7 146.9L62.3 148.2L63.1 149.5L61.7 151.5zM64.9 150.7L66.2 149.9L67.5 150.0L68.3 151.3L67.9 153.0L67.0 153.9L65.8 154.0L64.2 152.9zM71.6 151.9L69.6 151.8L68.8 149.8L68.9 147.9L71.1 147.6L72.8 147.4L73.3 148.9L72.4 151.0zM59.0 153.7L59.5 156.3L58.7 158.1L56.0 158.5L55.1 156.8L53.5 155.9L54.8 153.9L57.7 152.3zM54.0 153.2L53.5 155.3L52.1 155.0L50.9 154.2L50.3 152.5L51.3 151.2L52.2 150.8L54.1 151.4zM66.1 158.3L67.2 159.5L66.9 161.2L65.8 162.3L64.7 162.2L63.5 161.1L63.5 159.1L63.9 158.3zM72.3 158.5L73.0 157.0L75.0 157.7L75.5 158.2L76.0 159.5L75.2 161.6L72.9 161.8L71.4 160.5zM58.3 167.5L59.1 169.6L58.0 171.1L57.1 171.3L55.0 170.0L54.5 168.8L55.1 166.9L56.8 167.0zM50.0 159.2L50.7 160.5L49.5 162.3L47.2 162.5L47.0 160.9L47.8 159.4zM77.8 165.8L78.0 167.8L77.4 168.8L75.3 169.8L73.6 168.2L73.0 166.3L74.3 164.5L76.0 164.9zM41.6 177.5L40.4 176.7L39.8 174.8L39.6 173.4L41.5 173.2L43.7 173.1L44.3 174.6L43.6 176.8zM34.9 171.5L36.8 171.3L38.6 172.1L38.9 173.5L37.8 175.4L36.4 175.7L35.0 175.6L34.0 174.4zM52.6 175.6L51.5 177.1L50.3 177.7L48.4 177.8L47.8 175.7L48.0 174.8L50.1 173.6L51.8 174.3zM65.4 174.5L66.8 174.2L68.4 174.0L68.3 175.9L68.6 177.5L66.3 178.5L65.0 177.3L64.1 175.9zM81.2 137.7L79.8 139.3L78.2 139.8L75.7 139.2L75.1 138.4L76.3 136.1L77.8 134.6L79.6 135.9zM78.5 130.4L78.6 132.3L77.1 133.6L75.7 133.2L74.8 132.5L73.7 130.9L75.6 129.0L77.0 129.0zM66.6 131.5L68.3 130.3L70.0 131.2L69.6 133.1L68.1 134.0L66.7 133.3zM61.4 164.8L63.1 164.8L64.3 166.8L62.2 168.3L60.8 167.9L60.2 165.9zM68.4 142.5L70.2 141.3L71.7 141.8L73.6 142.6L73.0 145.0L71.8 146.3L69.9 145.9L68.9 143.9zM65.2 143.8L65.0 145.4L64.6 146.6L62.2 146.4L61.2 145.3L62.5 143.5zM26.7 180.6L32.6 180.2L33.3 182.7L34.9 187.8L31.9 190.4L30.1 191.1L27.7 188.2L26.4 183.8zM41.4 179.9L41.8 178.0L43.8 176.3L46.7 176.8L47.3 179.5L46.9 181.5L44.5 183.1L42.2 181.4zM22.5 178.1L23.9 176.7L25.2 176.1L27.4 177.8L27.6 180.0L25.9 181.3L23.9 180.8L21.6 180.2zM30.4 174.1L30.7 175.0L29.6 176.9L28.4 177.2L25.9 176.3L26.4 175.2L27.0 172.7L28.5 173.3zM35.1 171.8L34.1 173.5L32.1 173.3L30.7 173.0L30.7 170.7L31.2 169.4L33.1 168.8L34.8 169.8zM39.0 166.1L38.2 168.2L36.4 168.9L35.2 168.7L34.3 166.3L34.8 164.2L36.1 163.5L38.5 164.9zM44.1 169.4L41.8 170.4L40.9 169.8L39.9 168.2L40.5 166.9L41.6 166.4L43.3 166.3L44.0 168.4zM43.7 172.2L43.1 171.2L43.4 169.7L45.3 167.8L46.4 168.3L47.2 170.1L47.2 171.5L45.6 172.3zM41.8 172.1L42.5 173.2L41.7 175.6L40.4 176.2L39.3 175.8L38.3 174.9L38.7 173.1L39.4 172.1zM51.8 182.5L52.1 183.9L52.3 186.4L51.1 186.8L48.9 187.6L47.0 186.1L47.1 184.0L48.9 181.7zM50.5 189.8L50.1 187.4L50.8 186.6L53.2 186.4L54.5 188.1L54.6 189.2L53.0 191.3L51.7 191.1zM37.6 193.5L36.4 191.8L37.1 189.0L39.0 188.2L42.2 188.8L42.2 191.6L41.0 193.6L38.9 194.2zM35.8 196.7L33.6 198.4L31.5 197.4L31.3 195.5L30.7 193.9L33.2 193.3L34.2 193.2L36.5 194.2zM31.5 202.1L30.2 202.0L28.0 201.2L27.9 199.6L28.0 198.5L30.2 198.0L30.7 198.4L31.6 200.0zM46.8 196.8L47.7 198.0L47.0 199.4L45.2 201.0L44.1 200.2L43.5 198.4L44.1 196.7L45.8 196.2zM51.2 199.8L49.6 201.6L48.2 200.9L47.3 199.1L48.1 198.2L50.3 198.6zM37.4 198.4L38.8 200.3L37.6 202.0L36.1 202.0L34.7 201.1L35.4 198.6zM47.4 182.7L48.3 183.9L48.6 186.1L47.1 186.4L45.4 185.2L45.4 183.7zM72.9 191.0L71.8 193.0L69.5 193.7L66.7 192.1L66.7 189.9L68.4 187.6L70.7 187.8L73.2 190.1zM72.6 195.4L75.0 194.8L76.4 196.3L76.4 198.5L75.0 199.7L73.8 199.6L71.3 198.5L71.4 196.6zM67.2 195.6L69.4 196.7L69.6 198.9L66.8 200.5L65.4 199.4L63.7 199.0L64.0 195.7L65.5 194.7zM65.2 166.9L67.5 166.7L67.9 168.7L67.7 169.7L67.1 171.4L65.1 171.5L63.3 169.7L64.3 168.2zM77.5 168.5L76.7 169.8L73.6 170.3L73.1 169.1L73.8 166.2L74.5 164.8L77.5 165.0L77.5 166.5zM55.6 166.2L57.9 165.6L59.0 166.4L59.5 167.9L59.3 170.4L57.3 170.8L56.6 170.0L55.0 169.2zM63.5 190.9L64.0 193.0L61.8 194.1L60.8 193.4L60.3 191.3L62.1 190.6zM67.0 202.5L67.8 200.9L69.9 201.8L70.5 203.7L69.7 204.3L67.8 204.5zM61.6 173.5L61.2 175.5L59.3 177.3L58.4 176.4L58.6 174.1L59.5 173.4zM73.2 174.5L73.9 173.1L75.9 173.8L76.8 175.4L75.8 176.5L74.0 176.5zM36.3 213.7L34.1 214.3L32.7 213.3L31.7 211.8L32.0 209.8L33.6 209.9L36.2 209.5L36.6 211.3zM45.8 207.7L46.6 209.8L45.5 210.6L43.8 212.5L43.2 211.3L42.2 210.3L41.5 208.2L43.3 207.3zM49.1 209.6L52.0 210.8L52.5 213.7L51.0 215.1L49.5 215.6L47.5 214.3L46.4 213.1L48.2 210.5zM38.0 216.2L40.0 214.7L41.3 216.1L43.3 216.6L42.3 218.8L40.9 220.4L39.2 219.7L37.7 218.3zM35.9 222.3L34.0 222.1L32.1 221.8L30.9 220.7L31.0 218.2L33.4 216.8L35.4 218.3L35.7 220.3zM35.6 222.2L35.7 220.4L38.2 219.8L39.4 220.3L40.6 221.1L40.0 223.0L38.5 223.9L35.8 223.5zM47.6 217.1L48.7 215.5L50.5 216.2L52.3 216.5L52.3 219.8L50.4 219.8L48.7 219.7L48.2 218.6zM57.8 223.4L55.0 223.8L53.7 222.3L53.9 220.9L53.7 218.6L56.1 218.5L58.3 219.2L58.3 221.1zM69.1 217.2L68.5 218.8L67.0 220.0L64.0 219.7L63.7 217.6L65.1 214.9L66.0 213.2L68.5 214.9zM59.6 225.0L60.6 222.9L61.5 221.4L63.7 221.5L63.7 223.3L63.9 225.6L62.1 225.8L60.9 225.8zM51.5 219.5L53.4 219.3L54.5 221.5L53.0 223.1L50.4 222.5L50.1 220.8zM42.9 209.5L41.0 209.9L41.1 208.4L41.5 206.6L43.3 206.8L44.8 207.8zM33.9 207.9L32.8 205.7L34.4 205.2L36.0 204.7L37.1 207.2L35.7 208.1zM44.2 206.4L43.3 204.7L44.4 203.7L46.7 203.9L47.7 205.3L46.7 206.8zM37.0 218.1L34.5 217.6L34.8 215.5L35.9 214.1L37.8 215.1L37.7 217.1zM110.4 153.4L111.7 150.7L114.8 150.9L115.6 152.0L116.2 155.9L115.5 159.7L112.6 158.3L110.3 157.0zM94.4 168.8L95.9 168.2L97.4 170.0L97.1 171.6L96.6 173.3L95.2 173.4L93.5 172.2L93.7 169.8zM111.4 174.3L113.6 174.8L114.3 175.9L114.3 177.6L111.7 177.9L111.4 176.1zM105.0 179.8L102.5 180.1L101.6 180.1L100.4 177.6L101.7 176.7L102.9 176.1L104.6 177.2L105.8 179.2zM106.9 177.6L107.9 178.5L108.5 180.5L106.9 181.5L105.5 181.5L105.3 179.5zM90.8 182.3L89.0 181.4L88.6 179.7L88.8 178.1L90.7 177.4L92.3 178.6L93.6 180.3L92.4 181.7zM87.2 185.5L88.3 184.4L90.1 185.0L90.2 186.5L89.4 187.9L87.7 186.9zM95.4 160.9L96.9 162.5L96.6 163.3L95.0 164.6L93.1 164.7L91.4 163.4L91.7 161.7L92.7 160.0zM85.3 159.8L83.9 157.9L84.7 156.1L85.6 155.6L87.5 156.1L88.8 157.3L88.3 159.0L86.3 160.4zM81.3 151.2L81.9 149.7L85.5 149.4L86.5 151.0L87.4 152.2L86.3 153.3L83.4 154.7L81.5 153.5zM94.3 147.4L95.5 147.1L97.5 148.6L97.4 150.6L96.7 151.8L95.3 152.1L93.4 151.0L93.5 149.8zM73.8 176.0L74.6 175.0L75.9 173.3L77.4 173.7L78.3 175.6L77.4 177.5L76.3 178.0L74.1 177.7zM73.5 178.7L75.6 179.4L75.4 182.0L73.9 183.3L72.2 183.4L70.4 181.7L71.3 180.0L71.5 178.4zM75.1 188.2L75.0 186.2L77.0 185.1L78.5 185.2L79.6 186.7L79.9 188.0L77.7 190.1L76.6 189.3zM79.5 191.6L81.1 190.3L82.7 191.5L84.0 192.5L83.0 194.1L81.5 194.6L79.4 194.7L78.9 193.4zM74.9 199.2L73.6 199.9L71.6 199.7L71.8 197.4L71.9 196.5L73.8 196.1L75.6 196.0L76.0 198.5zM71.3 193.7L69.1 192.8L67.4 191.4L67.8 190.7L68.7 189.3L71.4 189.2L72.5 190.2L72.2 191.6zM64.3 169.5L64.4 167.1L66.4 166.7L68.2 167.1L69.2 168.4L69.2 169.7L67.0 171.3L65.4 170.4zM67.6 161.5L67.2 162.6L66.2 164.0L64.2 163.1L63.4 162.6L64.0 160.4L65.4 159.0L66.9 159.9zM73.2 161.5L70.9 159.7L71.9 158.7L72.8 156.0L74.5 156.7L75.7 158.3L75.3 159.4L75.1 160.8zM71.1 151.4L72.1 153.6L71.5 155.3L70.4 156.4L68.6 155.0L67.9 153.5L68.7 152.3L69.4 151.5zM82.7 199.6L81.3 201.3L79.3 202.1L78.7 200.4L79.5 199.0L81.2 198.3zM58.5 153.3L58.5 154.4L58.8 157.4L56.8 157.1L54.3 157.6L53.3 154.9L54.0 153.3L56.4 152.6zM61.3 147.9L62.9 148.4L62.8 149.2L63.1 151.2L61.2 152.5L59.1 151.8L58.9 150.3L59.2 148.4zM65.3 153.6L63.3 152.5L63.6 151.2L64.1 149.9L65.8 148.6L67.5 150.5L68.2 151.5L67.0 153.7zM70.7 149.9L71.3 148.7L73.2 147.5L74.7 147.5L75.2 149.6L74.1 151.6L72.9 151.9L70.9 151.0zM50.0 153.2L50.1 152.2L51.3 150.8L53.4 152.4L53.7 153.8L53.9 155.0L52.1 156.4L50.9 155.0zM60.2 148.5L57.9 149.6L56.8 148.0L54.8 146.8L56.4 144.8L59.6 144.5L60.6 145.6L62.4 146.4zM66.2 143.2L68.2 142.5L69.9 143.2L70.9 144.7L70.1 146.5L69.1 146.5L67.1 146.3L66.3 144.4zM56.2 166.4L56.9 167.3L57.1 170.2L56.1 170.3L54.1 170.2L52.8 169.9L53.1 167.7L54.2 167.0zM57.5 173.2L55.5 171.9L55.3 170.2L57.0 168.4L58.7 169.5L59.1 171.3zM55.2 162.2L54.2 163.8L52.2 164.4L51.1 162.4L52.5 160.9L54.8 160.8zM68.0 143.5L68.1 145.2L67.6 147.6L65.4 148.0L63.4 146.8L63.2 145.3L63.8 143.7L66.4 142.5zM75.1 143.5L76.9 143.9L78.8 145.3L77.7 147.3L76.5 147.8L75.4 147.7L74.3 146.7L74.2 144.9zM62.5 177.9L60.7 179.9L57.6 179.3L56.3 177.4L57.7 175.4L59.1 174.4L60.9 174.9L61.8 175.9zM64.1 178.6L61.4 177.5L61.4 176.3L62.7 174.0L63.6 173.4L65.9 174.8L66.0 176.5L65.6 177.5zM57.8 183.9L57.0 185.6L54.7 184.8L54.1 183.2L54.6 182.1L57.0 181.9zM59.3 184.1L60.9 183.0L62.2 183.7L63.1 186.1L61.4 187.4L59.8 186.5zM63.5 192.5L63.1 191.1L65.3 190.8L66.6 191.0L67.6 192.3L66.6 194.5L65.2 195.4L63.6 194.7zM63.9 197.8L64.4 198.6L63.1 201.0L61.5 201.5L59.9 201.6L58.9 199.7L60.2 197.6L62.0 196.6zM67.3 197.9L68.9 199.9L68.3 201.7L66.5 202.3L64.8 201.1L65.6 199.3zM65.7 212.2L66.6 210.2L68.3 210.4L69.6 211.8L69.0 213.3L66.9 213.8zM59.2 209.0L59.8 210.8L58.9 212.6L56.9 212.6L55.6 211.3L57.1 209.0zM67.4 189.1L69.2 186.8L70.9 187.8L72.2 188.4L72.5 190.3L70.6 192.3L68.8 191.9L67.7 190.7zM38.9 227.6L38.6 231.0L36.4 233.9L33.3 234.2L30.5 233.5L29.2 230.7L29.0 227.3L34.5 225.8zM42.9 230.8L39.5 230.9L37.1 229.6L37.7 227.1L40.7 225.3L42.4 225.0L44.9 227.2L44.7 229.9zM43.5 233.2L42.7 229.2L45.1 226.4L49.5 227.0L52.7 227.6L53.0 229.9L52.1 232.6L48.6 233.5zM60.4 233.4L58.4 236.8L55.9 237.5L52.1 236.7L49.0 234.8L50.8 232.6L53.2 230.3L56.6 230.2zM41.4 232.0L45.3 232.5L49.9 234.8L48.8 237.2L44.9 240.2L41.3 240.1L39.7 236.6L37.9 233.8zM40.8 239.8L38.7 240.1L35.9 241.6L33.2 240.4L32.0 237.8L34.4 236.1L37.6 236.0L39.7 236.5zM47.7 240.1L47.3 238.0L49.4 236.5L50.6 236.7L52.6 238.0L53.0 239.5L50.8 240.6L48.7 240.7zM28.7 234.1L30.3 233.6L31.3 233.1L32.9 234.0L32.7 236.2L30.9 236.7L29.2 236.9L27.7 235.5zM10.9 234.8L12.2 233.9L14.0 233.6L15.3 234.9L15.4 236.1L14.5 238.5L13.0 238.0L11.4 237.2zM57.9 242.6L57.9 244.1L55.8 245.4L54.7 245.2L52.7 243.8L53.2 241.6L54.0 240.9L56.7 241.2zM58.5 247.3L59.3 245.7L61.1 245.5L62.6 247.0L61.7 248.5L59.9 248.9zM34.5 240.9L35.4 242.0L35.2 243.7L33.4 244.5L31.0 244.3L30.6 243.3L30.9 241.3L32.6 240.1zM41.0 249.2L39.9 248.4L40.1 245.9L41.5 245.3L43.1 246.2L43.4 248.7zM31.5 208.9L32.5 208.4L34.2 208.1L35.4 209.4L35.3 211.3L32.9 212.2L31.1 212.2L30.1 210.3zM41.4 211.2L40.2 212.2L38.4 211.3L38.1 209.2L39.0 208.3L39.9 207.7L42.4 207.5L43.0 210.1zM45.7 207.6L47.1 207.1L48.5 208.9L48.4 211.4L47.6 212.9L45.0 212.0L44.1 211.1L43.0 209.3zM35.7 212.5L38.0 213.1L38.8 214.7L38.6 215.5L37.0 217.0L35.0 217.2L34.8 215.2L34.8 214.1zM36.8 219.6L35.2 220.4L34.1 220.1L32.8 219.5L33.4 216.6L34.8 216.6L36.7 216.4L36.8 218.0zM51.3 215.4L50.0 217.4L48.6 216.9L46.7 216.1L47.6 214.1L48.7 213.0L49.4 213.0L51.7 213.6zM51.4 217.0L53.0 217.5L55.1 217.8L55.2 219.4L54.6 221.1L52.3 222.1L51.5 220.4L51.1 219.2zM57.8 221.3L55.7 222.0L54.8 219.6L55.9 218.4L57.4 218.7L58.2 219.9zM64.4 218.4L62.7 216.7L64.7 214.4L66.0 213.1L68.2 213.4L70.4 215.4L69.1 218.0L66.9 219.7zM61.4 224.8L61.7 222.3L62.3 220.8L64.0 220.3L65.2 222.0L65.4 224.1L65.3 225.2L62.3 225.2zM43.2 219.4L45.2 219.0L45.5 221.2L44.7 222.4L42.9 222.4L42.4 220.7zM38.2 221.5L39.0 220.9L40.9 221.0L41.4 223.1L39.4 224.7L38.1 223.9zM33.3 194.8L34.0 195.9L35.3 197.2L34.2 198.6L32.2 199.5L31.5 198.8L30.8 197.4L31.4 196.0zM35.7 201.9L35.1 199.7L37.1 198.6L38.8 198.9L39.6 201.2L37.8 202.3zM47.2 199.8L45.8 200.4L44.2 199.8L44.1 198.2L45.2 197.6L47.5 198.2zM41.0 197.6L39.6 197.9L39.5 195.3L41.0 194.3L43.0 194.9L42.8 196.8z"/>
<path fill="#0550e4" d="M38.7 97.6L38.5 95.6L38.7 94.3L38.9 93.2L39.9 93.2L40.4 94.6L40.5 96.7L39.8 97.1zM48.3 100.9L48.8 102.0L48.5 102.7L47.9 103.2L46.0 103.8L45.0 102.6L44.4 101.6L46.6 100.6zM115.5 76.4L115.4 77.9L113.0 78.4L111.7 78.0L110.2 76.7L111.1 75.9L113.4 74.6L114.5 75.5zM111.0 77.1L111.4 76.1L113.4 75.8L115.7 76.2L116.1 76.8L115.0 78.3L112.8 78.3L111.8 78.0zM158.6 112.6L156.8 113.3L154.7 112.3L154.5 109.3L156.2 106.2L158.1 106.5L160.0 108.4L160.7 110.4zM106.6 109.1L109.0 108.4L110.5 108.9L112.5 109.6L111.2 111.1L110.8 112.2L107.2 111.8L106.7 110.8zM120.4 119.8L121.0 118.1L123.0 118.0L124.0 119.8L123.1 121.5L121.6 121.7zM102.6 114.8L103.5 114.4L104.5 115.0L104.4 116.2L103.6 116.7L102.4 115.6zM156.4 114.9L157.5 116.7L157.2 118.0L156.2 119.1L154.8 117.7L154.8 115.8zM99.8 149.8L103.4 151.0L103.4 153.0L101.4 153.9L97.9 155.4L96.6 153.3L97.1 151.4L97.4 150.4zM141.0 130.9L140.2 129.9L141.5 127.7L144.2 127.7L145.5 129.3L146.3 131.1L144.3 132.2L142.7 133.5zM124.2 120.5L122.9 119.1L123.4 117.3L125.3 117.3L126.1 118.4L125.5 120.2zM156.2 110.2L156.9 111.6L156.3 115.3L155.2 115.9L153.3 114.9L152.4 113.4L152.7 112.0L154.6 109.5zM114.8 111.0L113.4 112.1L112.1 112.9L109.5 112.7L107.9 112.3L106.7 111.2L108.6 110.0L112.6 110.5zM130.7 116.8L131.4 116.5L132.6 117.4L132.0 118.2L130.9 118.7L129.9 117.8zM138.8 124.5L138.6 123.4L139.3 122.7L140.8 122.8L140.4 123.9L139.9 124.5zM95.1 172.3L93.8 172.1L93.9 170.0L95.1 169.6L96.3 170.3L96.5 171.4zM99.9 177.1L98.6 177.2L97.9 176.3L98.1 175.6L99.2 175.1L100.2 175.7zM100.2 155.5L97.6 154.5L96.9 151.1L98.3 149.5L100.1 148.4L102.0 150.0L103.5 152.6L102.1 153.6zM110.6 110.6L110.4 111.8L109.1 112.6L106.8 112.5L105.7 111.9L105.7 110.5L106.6 110.4L109.4 110.1zM104.3 113.2L105.2 114.1L105.6 114.9L104.4 115.6L103.1 115.0L103.4 113.6zM71.4 136.4L72.6 136.9L73.8 138.3L73.1 139.0L72.1 140.8L71.5 140.1L70.4 139.5L71.0 137.4zM67.4 132.7L68.1 131.9L70.0 132.0L70.7 133.0L69.7 134.9L67.9 134.7zM61.4 142.9L60.7 143.4L59.7 144.4L57.8 144.0L56.8 143.1L57.2 141.8L58.8 141.3L60.4 141.6zM64.0 144.5L64.0 143.2L64.9 142.2L66.1 142.6L66.4 144.2L65.4 144.9zM56.8 155.8L55.8 155.9L55.0 155.3L55.4 154.4L56.6 153.8L57.3 154.8zM63.3 143.5L62.5 145.0L60.2 145.6L59.3 144.7L58.3 143.3L58.3 142.4L60.3 141.9L62.2 142.4zM65.7 140.9L67.0 141.0L68.0 142.3L67.2 143.6L65.7 143.4L65.3 142.3zM57.4 156.3L57.3 157.9L56.3 158.8L55.2 157.9L54.7 156.2L56.1 155.8zM63.1 162.4L64.1 164.3L62.8 165.3L61.2 165.1L60.7 163.7L61.0 162.6zM48.9 166.7L49.0 168.5L47.1 169.0L45.7 168.2L45.5 166.8L46.5 166.0zM53.2 171.4L51.8 171.7L51.0 170.2L51.0 168.6L52.4 168.3L53.7 169.2zM70.6 136.5L70.0 137.5L68.5 136.6L68.2 135.2L69.8 134.9L70.6 135.4zM37.6 186.7L38.0 185.3L39.0 185.1L40.4 185.8L39.6 187.6L38.4 188.1zM31.3 183.0L31.9 182.0L33.1 181.6L33.7 182.4L33.8 183.5L32.2 183.8zM21.0 184.4L20.8 185.4L19.7 186.2L18.7 184.9L19.1 184.2L20.2 183.7zM56.6 197.6L59.4 198.1L60.1 200.0L59.2 201.8L55.5 201.8L54.3 201.0L53.9 199.7L53.9 198.2zM62.6 202.8L61.1 204.5L59.1 204.5L58.6 203.1L60.1 201.4L61.3 201.6zM60.3 181.2L59.3 181.0L58.2 179.6L58.9 178.2L61.0 177.8L61.6 180.0zM58.1 184.9L57.7 186.5L56.7 187.0L55.5 186.1L55.6 184.5L57.1 184.0zM73.1 179.3L72.4 177.0L74.1 176.1L75.6 176.8L76.0 178.8L74.7 179.8zM79.7 181.7L80.1 183.4L78.4 183.8L77.0 183.4L77.6 181.9L78.5 180.8zM62.6 162.2L64.3 162.7L63.8 164.4L62.8 164.9L61.5 164.5L61.4 163.3zM66.1 175.7L65.3 174.6L65.3 173.0L66.9 173.2L67.7 174.6L67.1 175.6zM35.7 222.2L37.0 223.2L37.1 224.5L35.5 225.2L34.1 225.0L33.8 223.1zM49.9 229.1L48.9 229.7L47.3 229.4L47.3 228.4L48.4 227.3L49.4 227.4zM38.0 234.9L37.4 233.7L38.3 232.3L39.3 232.7L40.3 233.5L39.2 235.2zM100.2 148.6L102.2 150.3L103.0 152.5L102.3 153.9L100.3 154.3L97.0 153.4L97.4 151.5L97.8 150.7zM71.6 160.7L72.4 159.3L73.8 159.5L74.7 160.9L73.6 162.4L72.4 162.2zM79.6 179.0L81.8 178.3L84.6 178.3L85.5 179.7L85.0 180.5L83.1 181.4L81.2 180.9L79.3 180.8zM69.3 170.4L70.8 170.8L71.4 171.9L70.6 172.7L68.9 172.6L68.8 171.2zM86.8 175.8L87.6 175.0L88.8 175.0L89.4 176.0L89.1 177.4L87.3 177.2zM88.7 190.8L90.3 190.9L90.4 191.8L89.9 193.1L89.0 193.0L88.5 191.8zM53.8 143.6L54.9 143.3L56.4 143.9L55.8 145.1L54.8 145.9L53.7 145.3zM58.2 161.5L57.9 160.1L59.6 159.6L61.0 160.5L60.7 162.1L59.5 162.8zM52.1 199.9L53.2 199.0L55.3 198.2L58.5 198.8L58.9 200.2L59.3 201.5L56.2 201.8L52.6 202.1zM54.3 197.3L54.8 198.9L53.2 199.5L52.1 199.0L52.4 197.0L53.3 196.1zM60.2 184.8L59.6 183.6L60.5 182.3L61.9 182.7L62.6 183.9L61.3 184.9zM66.2 196.1L67.5 195.4L68.1 197.0L67.6 198.4L66.2 198.5L65.5 197.1zM30.0 237.4L30.0 239.2L29.8 240.6L28.4 240.2L26.5 239.7L25.9 238.7L27.0 237.7L28.4 237.1zM45.6 245.3L46.9 244.7L48.3 244.9L49.7 246.7L49.3 248.0L48.6 250.6L46.5 249.2L45.8 248.5zM38.9 243.0L38.4 241.8L39.0 240.5L40.7 240.6L41.0 241.9L40.1 242.8zM51.5 244.5L52.4 245.2L52.7 246.4L51.9 247.0L50.4 246.5L50.6 245.0zM36.1 221.5L34.6 220.8L33.8 219.2L35.2 218.8L36.9 219.0L37.5 221.1zM58.8 207.7L60.3 208.2L60.4 209.4L60.0 210.5L58.1 210.4L57.8 209.1zM84.4 192.5L84.0 191.2L85.2 190.7L86.5 190.9L86.2 192.4L85.3 193.3zM64.2 209.7L63.2 210.8L61.9 210.4L61.7 209.6L62.4 208.3L63.3 208.8zM64.7 170.2L63.7 170.9L63.1 170.6L62.8 169.5L63.6 169.0L64.7 169.3zM70.7 201.9L71.9 202.6L71.6 203.4L70.5 204.1L69.7 203.2L69.8 202.2zM52.2 204.5L53.2 204.0L53.6 204.5L53.4 205.4L52.8 205.6L52.1 205.1zM79.9 174.4L79.4 175.1L78.7 174.9L78.2 174.0L79.0 173.6L79.7 173.4zM77.9 172.7L78.4 172.0L79.4 172.2L79.4 172.8L78.9 173.3L78.3 173.3zM70.7 201.1L70.0 202.1L68.5 201.9L68.3 200.2L69.3 199.8L70.4 200.3zM76.4 212.1L75.4 212.3L74.5 211.8L74.7 211.1L75.7 210.4L76.4 210.9zM131.5 97.6L132.1 97.6L133.1 98.0L132.8 99.0L131.9 99.3L131.3 98.7zM115.8 133.5L115.3 132.9L115.0 132.0L115.8 131.3L116.9 132.1L117.0 132.8zM108.1 113.6L108.4 114.3L107.8 114.6L107.1 114.4L106.9 113.9L107.3 113.4zM117.6 127.9L116.1 127.6L115.9 126.4L116.8 126.1L118.0 126.2L118.1 127.2zM119.8 107.3L120.5 107.6L120.3 108.7L119.3 108.8L119.1 108.3L119.1 107.7zM127.9 131.9L127.5 131.7L127.0 130.8L127.6 130.6L128.5 130.6L128.5 131.5zM136.7 96.5L137.4 96.0L137.9 96.4L137.9 97.5L137.2 97.6L136.5 97.5zM55.1 234.7L55.4 233.7L56.2 233.4L56.8 234.2L56.6 234.9L55.5 234.9zM57.8 233.1L56.6 233.8L55.6 232.8L55.5 231.6L57.0 231.1L57.9 232.1zM54.6 230.7L54.7 230.1L55.8 230.1L56.3 230.5L55.6 231.5L54.7 231.4zM49.0 233.9L48.2 234.0L47.9 233.2L48.1 232.6L48.7 232.5L49.1 233.1zM53.1 235.5L53.9 236.0L53.8 237.1L52.8 237.7L51.7 236.9L52.2 235.6zM23.7 235.2L24.6 236.0L23.8 236.7L23.1 237.2L22.4 236.3L22.7 235.3zM19.7 232.2L19.1 233.2L18.1 232.9L17.6 231.7L18.6 230.7L19.5 231.4zM55.7 247.1L56.3 246.5L56.8 246.9L57.1 247.6L56.4 248.0L55.8 248.0zM39.9 243.9L39.0 244.2L38.2 243.5L38.4 242.4L39.4 242.4L40.2 242.8z"/>
<path fill="#db2a22" d="M27.9 54.0L28.4 55.6L28.2 57.1L27.0 57.3L25.6 56.7L24.3 55.7L25.0 54.5L26.0 53.5zM31.3 78.9L30.2 79.5L29.0 78.7L29.1 76.9L30.8 76.7L31.7 77.9zM12.9 82.1L13.6 83.6L12.2 84.3L10.0 83.6L9.7 81.9L11.6 80.8zM58.3 85.5L58.0 84.2L59.5 83.5L61.3 83.8L61.4 85.5L59.7 86.5zM34.0 90.8L34.7 92.1L32.8 93.2L30.9 92.7L31.5 91.2L32.7 90.0zM36.5 88.5L36.9 89.4L36.2 90.4L35.0 90.2L34.4 89.1L35.2 88.1zM64.1 99.1L65.3 98.8L66.6 99.0L65.8 100.7L65.0 101.4L63.4 100.3zM44.3 102.9L45.3 102.6L46.0 103.6L45.4 105.0L44.4 104.6L43.9 103.6zM52.4 103.0L53.1 102.9L53.7 103.3L53.7 104.1L52.9 104.5L52.4 104.1zM68.2 108.9L67.3 107.3L67.8 106.1L68.9 104.5L72.5 104.6L75.4 106.6L74.4 108.3L72.8 108.6zM54.0 60.2L54.5 59.3L55.8 59.0L56.6 59.9L56.0 61.3L55.0 61.3zM105.4 44.3L104.6 44.4L104.3 43.4L104.6 42.6L105.6 42.6L105.9 43.6zM104.0 46.0L104.7 46.0L105.1 47.0L104.3 47.7L103.2 47.6L103.2 46.8zM106.3 44.5L106.7 45.4L106.2 45.8L105.2 45.6L105.2 45.1L105.7 44.6zM108.1 68.7L106.2 69.7L104.9 68.8L104.8 66.8L106.2 66.1L108.2 67.0zM98.9 81.1L97.7 81.3L96.9 80.4L97.0 79.5L97.0 77.8L98.1 77.6L98.9 78.9L98.9 80.0zM135.0 70.8L135.3 72.3L133.9 73.9L132.7 75.0L131.6 72.8L131.7 71.3L132.7 70.2L134.1 70.4zM120.5 85.8L118.5 85.7L118.9 83.6L119.3 82.8L120.4 82.0L122.2 82.7L122.2 84.1L122.3 85.6zM61.8 85.4L60.8 86.6L59.1 85.8L59.0 84.6L60.0 83.3L61.7 83.8zM129.9 87.2L129.5 86.2L130.1 85.5L131.0 85.7L131.3 86.9L130.6 87.1zM106.5 65.9L107.6 67.0L107.1 68.8L105.7 69.6L104.4 68.6L103.4 68.1L104.5 66.1L105.0 65.2zM132.9 70.6L134.1 71.2L134.8 72.9L133.9 74.3L132.4 75.3L131.1 73.7L130.1 72.2L131.1 71.0zM118.8 83.2L119.9 82.2L121.5 82.4L122.6 83.0L122.2 84.1L121.1 85.4L119.4 85.8L118.8 85.0zM100.3 79.5L99.8 81.3L98.9 82.7L97.9 81.9L97.4 79.6L97.5 78.9L99.1 78.2L99.8 79.0zM130.1 85.0L130.6 86.0L130.0 87.5L129.4 87.8L129.1 86.2L129.4 84.8zM134.5 106.2L134.9 105.3L136.9 105.3L138.6 105.6L139.2 108.3L137.6 109.6L135.9 109.7L133.7 108.1zM117.1 105.2L116.6 104.2L117.2 102.7L118.7 102.9L119.2 104.3L118.6 105.6zM126.5 102.4L127.0 101.7L128.2 101.8L128.6 102.7L127.9 103.6L127.0 103.6zM153.2 110.0L154.0 111.1L153.0 112.4L151.8 112.1L151.2 110.8L151.6 109.9zM142.7 109.6L143.5 108.2L143.9 109.6L144.2 111.3L143.4 111.4L142.6 111.0zM143.6 92.8L143.4 94.3L142.3 95.4L141.4 94.3L141.0 93.1L142.8 92.3zM161.8 107.6L162.4 108.6L161.1 109.5L159.3 109.6L158.7 108.5L160.1 107.6zM97.1 114.6L97.5 113.5L99.5 113.0L100.5 114.5L99.7 115.6L98.6 116.0zM103.8 126.0L102.5 126.0L101.8 123.8L102.5 122.4L103.6 121.5L104.1 121.3L104.7 123.3L104.4 124.6zM124.0 116.3L124.0 117.4L122.9 118.6L122.0 118.0L122.0 116.4L122.7 115.5zM126.7 121.9L126.0 122.8L124.7 121.5L125.2 120.4L126.2 120.5L127.0 121.2zM112.8 112.4L114.5 111.9L115.1 113.1L114.5 114.0L113.7 114.2L112.9 113.3zM140.5 117.4L140.2 116.2L140.8 115.9L141.6 116.6L141.9 117.5L140.9 117.6zM151.5 116.0L152.4 116.6L152.2 117.3L151.4 117.8L150.7 117.3L150.6 116.4zM94.4 132.6L100.4 131.1L106.4 134.1L112.4 135.6L118.5 136.3L121.5 137.8L117.0 142.3L115.5 147.6L112.4 152.1L108.7 155.1L104.9 152.1L101.9 147.6L97.4 144.6L94.4 143.1zM106.6 124.0L104.3 127.5L102.7 128.1L100.5 126.6L100.3 121.0L102.5 119.9L103.8 119.8L105.7 121.6zM94.9 125.6L95.8 124.2L97.2 122.6L98.8 122.9L99.2 124.4L99.4 126.5L98.0 127.7L96.0 127.2zM129.9 133.5L132.4 132.8L134.9 132.6L137.1 133.8L138.3 135.6L134.9 136.6L131.2 137.6L128.9 135.6zM124.6 116.5L123.9 118.3L122.1 117.7L121.4 117.0L121.9 115.3L123.9 115.6zM129.2 122.1L128.0 122.4L126.8 121.7L127.6 120.5L128.2 119.9L129.4 120.8zM138.7 126.4L138.0 125.6L137.9 124.6L138.3 123.8L139.4 124.2L139.7 125.7zM146.2 128.9L145.5 128.9L144.4 128.5L144.9 127.2L145.6 127.0L146.7 127.8zM151.9 115.1L152.5 115.6L152.2 116.7L151.3 117.1L150.4 116.2L150.7 115.2zM145.2 135.8L144.6 134.8L144.8 134.0L145.7 133.5L147.0 134.6L146.4 135.6zM127.7 129.4L128.1 130.7L127.2 131.6L125.7 131.1L125.3 130.2L126.5 129.3zM115.0 166.2L113.5 167.6L109.0 167.1L106.9 165.7L108.0 163.8L111.1 161.5L113.6 162.6L115.7 164.2zM105.0 179.3L103.8 180.0L102.7 179.3L101.9 177.5L103.3 176.8L104.8 177.5zM106.1 178.9L106.8 180.0L106.4 180.7L105.3 180.8L104.5 180.3L104.9 179.0zM94.9 170.6L95.6 170.0L96.7 170.0L96.9 171.6L96.0 172.3L95.1 171.7zM112.2 174.6L113.0 174.7L113.2 175.8L112.5 176.2L111.8 176.0L111.6 175.3zM68.2 107.6L72.7 104.5L78.0 103.8L81.0 99.3L84.8 100.8L85.5 105.3L90.0 107.6L92.3 111.3L90.8 115.1L93.0 119.6L90.0 124.1L84.8 126.4L80.2 128.6L75.7 127.1L71.2 125.6L69.0 121.8L69.7 118.1L67.5 114.3zM93.0 134.6L97.5 133.9L103.6 136.1L109.6 136.9L115.6 136.1L120.4 137.6L120.4 149.7L115.6 152.7L111.1 151.2L107.3 148.2L103.6 148.2L99.8 144.4L96.0 140.6zM102.2 121.3L101.7 118.7L101.7 117.0L102.4 112.4L103.1 112.1L104.1 114.0L103.9 118.9L103.1 121.2zM108.6 122.1L108.5 125.1L108.1 127.7L106.7 128.4L104.9 127.3L104.8 123.8L105.4 122.4L106.5 121.0zM96.0 113.4L96.8 112.3L98.7 112.2L99.4 113.5L98.2 115.2L97.0 115.0zM91.6 117.0L92.9 116.4L93.9 116.4L94.2 117.7L93.0 118.7L92.1 117.9zM105.4 108.8L106.0 109.4L106.1 110.4L105.2 111.0L104.0 110.1L104.2 109.2zM111.3 115.0L111.4 113.6L112.6 113.1L113.8 113.7L113.7 115.2L112.5 115.6zM64.4 101.1L63.8 99.9L64.4 98.5L65.7 98.9L67.0 99.9L65.7 101.1zM88.3 101.8L87.1 102.0L86.5 101.0L87.5 99.8L88.5 99.8L88.9 100.7zM58.1 84.8L59.6 84.6L60.3 85.7L60.2 87.2L59.0 87.4L57.7 87.1zM53.2 102.6L54.5 103.5L54.2 104.8L53.3 104.8L52.3 104.3L52.1 102.8zM43.0 103.2L43.9 102.2L45.6 103.1L45.3 104.3L44.5 104.8L42.9 104.3zM41.6 96.7L41.3 98.1L40.1 98.1L38.6 97.0L39.6 96.0L41.1 95.4zM97.0 107.1L97.2 107.9L96.1 108.8L95.0 108.0L94.9 107.1L95.9 106.2zM60.2 137.6L60.3 135.9L61.3 135.3L62.9 135.9L62.8 137.5L61.4 138.3zM65.6 132.2L66.5 131.9L67.0 133.4L66.7 134.4L65.5 134.2L65.0 133.2zM62.2 140.2L63.8 139.9L64.1 141.5L64.1 142.6L62.3 142.5L61.6 141.9zM69.9 142.0L71.2 142.8L71.8 144.2L71.5 145.4L70.9 146.4L69.6 146.3L69.3 144.8L69.2 143.7zM62.6 148.2L63.7 149.6L63.3 150.9L61.7 151.4L60.4 150.0L61.2 148.6zM56.7 155.4L57.1 153.9L62.2 154.0L64.4 155.0L63.5 156.4L60.9 156.9L58.3 157.3L56.8 156.3zM45.7 153.1L47.3 151.3L49.6 151.3L51.6 151.3L52.3 152.6L51.2 153.7L50.1 154.2L47.1 153.5zM54.0 159.5L54.9 158.8L56.4 158.9L56.7 160.5L55.7 162.0L54.4 161.0zM45.1 158.0L45.5 159.7L44.8 161.0L43.5 160.7L42.4 158.9L43.9 158.2zM85.1 150.9L85.7 151.7L84.6 153.7L82.6 153.5L82.6 151.4L82.9 150.5zM79.8 155.0L80.0 153.6L81.3 153.3L81.9 154.0L81.9 155.3L80.9 155.1zM68.7 153.6L67.1 153.9L65.8 152.9L66.9 151.6L67.7 151.3L69.2 152.8zM97.5 149.0L97.0 150.5L95.8 150.9L94.8 150.4L95.2 148.9L96.5 148.1zM77.3 146.1L78.1 145.7L79.3 146.3L79.1 147.6L77.7 147.9L76.7 146.9zM84.2 142.8L84.7 141.6L85.8 140.9L86.7 141.6L86.6 142.8L85.5 143.2zM67.9 155.9L69.2 156.1L69.9 157.1L68.9 158.3L67.4 158.7L66.5 156.9zM88.4 144.1L89.6 143.2L90.8 143.2L91.2 144.5L90.7 146.1L89.2 145.7zM19.0 115.5L17.4 115.8L16.4 115.5L16.1 114.6L17.5 114.4L19.3 114.7zM36.1 139.4L36.9 140.0L35.6 140.7L33.7 140.7L32.2 140.2L32.6 139.8L33.5 139.2L34.8 138.8zM44.4 102.4L46.1 102.3L47.3 102.7L47.6 103.9L47.0 104.4L44.4 104.6L43.7 103.7L43.4 103.2zM52.3 103.4L52.3 102.5L53.0 101.8L53.9 102.7L53.9 103.7L52.9 104.0zM64.2 116.8L65.6 116.3L66.9 117.3L66.1 117.7L64.7 118.1L63.2 117.4zM40.6 162.4L41.7 162.8L42.2 165.1L40.4 166.5L37.5 165.9L37.4 164.5L37.2 163.2L38.2 162.4zM44.1 169.5L42.5 168.5L42.5 167.1L44.1 166.0L45.5 167.0L45.7 168.7zM37.9 170.5L37.6 169.2L37.8 167.6L39.2 168.0L40.1 169.5L39.5 170.1zM46.1 162.1L47.2 162.0L48.8 162.8L48.2 163.9L46.6 164.9L45.7 163.9zM55.9 139.2L55.1 138.4L55.0 137.3L56.3 137.0L57.0 138.2L56.7 139.6zM62.4 140.4L61.4 141.1L60.4 140.4L60.0 139.7L61.3 138.4L62.1 139.2zM68.0 136.5L67.7 138.9L66.2 139.3L65.3 137.9L65.4 136.7L66.6 135.9zM61.1 147.9L61.8 148.5L61.2 150.3L59.9 150.1L59.3 149.2L59.7 147.8zM67.6 150.8L67.6 152.2L66.7 153.6L65.3 152.7L64.9 151.3L66.5 150.8zM71.5 148.6L72.2 149.6L71.7 151.1L70.3 151.2L69.4 149.8L69.9 148.2zM58.1 154.6L58.0 156.1L57.2 156.9L55.1 156.7L55.3 155.3L56.8 153.9zM53.9 152.9L52.6 154.3L51.3 153.9L50.7 151.8L52.1 151.0L53.3 151.5zM66.6 160.3L65.5 161.2L64.1 161.3L63.8 160.0L64.8 158.8L65.9 158.7zM75.3 160.0L73.8 161.0L72.8 160.3L72.6 158.9L74.3 158.3L75.3 158.5zM57.7 167.9L57.9 169.6L57.3 170.3L55.7 170.2L55.4 169.0L56.5 167.7zM48.6 159.7L49.7 160.1L49.5 161.5L48.5 162.3L47.7 161.4L47.7 160.3zM76.8 168.6L75.2 168.4L73.9 168.0L74.5 165.7L75.8 164.9L77.6 166.2zM40.4 174.6L41.9 174.0L42.9 174.4L42.9 176.2L41.4 176.2L40.1 175.7zM38.1 174.3L36.8 175.1L35.4 174.6L35.4 172.8L36.1 172.2L37.5 173.1zM49.5 175.0L51.4 174.9L51.6 175.9L50.6 176.9L49.0 176.6L49.0 175.5zM68.0 176.8L66.6 177.2L65.5 176.8L65.4 175.6L66.5 174.8L67.6 174.9zM76.8 136.3L78.7 135.7L79.7 137.6L78.7 138.9L77.3 139.4L75.7 137.9zM76.9 132.7L76.0 132.6L75.1 132.0L75.7 130.6L76.5 130.2L77.5 131.3zM69.2 131.8L68.7 133.0L68.1 133.4L67.0 132.7L67.1 131.7L68.3 131.2zM63.3 166.0L62.6 167.0L61.7 167.4L61.2 166.5L61.3 165.3L62.7 165.1zM71.4 145.2L69.6 144.6L69.4 143.2L70.7 141.8L72.3 143.0L72.3 143.8zM63.2 143.9L64.3 144.1L64.8 145.0L64.4 146.2L62.8 146.0L62.5 145.2zM40.6 180.9L42.4 184.7L40.5 187.5L37.5 187.9L35.7 187.6L34.4 187.0L31.6 185.3L31.1 182.5L32.6 180.6L33.1 177.1L36.6 178.2L41.7 178.6zM29.6 182.9L31.9 183.3L33.5 185.4L32.5 188.1L31.5 189.8L29.0 189.5L27.2 185.7L28.4 183.7zM43.2 182.1L42.0 180.2L41.6 179.4L43.1 177.3L44.5 177.6L46.0 178.2L45.8 179.9L44.6 181.7zM25.7 177.9L25.8 178.8L25.4 180.5L23.3 179.9L22.7 178.8L24.2 176.7zM27.1 174.7L27.7 173.6L28.9 173.7L29.8 175.0L28.6 176.1L27.7 176.4zM32.8 169.7L33.7 170.6L33.8 171.9L32.9 172.9L31.5 171.9L31.4 170.7zM35.1 167.9L34.6 166.4L36.0 165.4L37.9 165.8L38.0 167.0L37.0 168.6zM42.6 167.4L43.3 168.5L42.4 169.9L40.4 169.4L40.7 168.0L41.5 166.7zM44.8 171.6L43.8 170.3L44.9 169.1L46.4 169.4L47.1 170.5L46.5 171.6zM38.9 174.1L40.0 172.8L41.2 173.6L41.7 175.0L40.7 175.3L39.3 175.0zM51.4 183.3L52.2 185.1L50.2 186.3L48.8 186.3L48.2 184.2L49.6 183.2zM52.9 187.5L53.7 188.1L53.2 189.9L51.4 190.0L51.1 188.8L51.3 187.6zM38.3 193.8L37.5 192.6L37.7 190.8L38.4 189.7L40.2 189.4L41.0 190.7L41.3 193.0L40.4 193.5zM31.5 196.2L31.7 194.4L33.4 193.4L34.9 195.0L34.3 196.5L32.9 196.7zM28.8 200.9L28.5 198.9L29.7 198.6L31.0 199.3L30.9 200.2L29.6 201.2zM46.5 197.4L46.9 198.3L46.3 199.2L44.8 199.2L43.7 198.6L44.8 197.1zM50.6 200.4L49.3 201.0L48.4 200.5L48.1 199.1L49.4 198.7L50.4 199.2zM35.8 201.6L35.5 200.4L35.9 199.4L37.4 199.5L37.6 200.5L36.8 201.5zM46.0 184.1L47.3 183.6L48.0 184.5L47.8 185.3L47.2 185.7L45.7 185.2zM70.7 193.0L69.6 192.8L68.4 191.0L69.1 189.9L69.4 188.6L71.3 189.3L72.2 190.1L71.9 192.1zM73.4 198.9L72.4 197.5L73.9 196.1L74.9 196.8L75.7 197.8L74.3 198.8zM65.3 199.1L65.0 197.3L65.8 195.7L67.4 196.5L68.7 197.9L66.9 199.1zM65.2 167.3L66.8 167.8L67.1 168.8L66.3 170.3L65.1 170.6L64.2 168.6zM74.4 166.3L75.7 165.6L77.2 167.3L77.3 168.7L74.9 169.5L74.1 168.1zM58.7 169.2L57.5 169.6L56.1 169.2L56.4 167.1L57.8 167.0L59.0 167.6zM62.4 191.5L63.0 192.7L62.6 193.6L61.3 193.0L61.2 192.2L61.6 191.4zM68.3 201.7L69.7 202.0L70.0 203.0L68.8 204.0L68.1 203.7L67.6 202.7zM59.0 175.5L58.7 174.7L59.4 174.1L60.7 174.5L60.8 175.5L60.1 176.5zM75.6 175.9L74.6 175.9L73.9 175.2L73.8 174.1L75.1 174.1L76.0 174.7zM36.2 212.5L35.2 213.5L33.1 213.7L32.4 211.5L33.7 210.3L35.2 211.0zM42.7 209.8L42.7 208.6L44.3 208.3L45.4 209.4L45.4 210.4L43.7 211.1zM47.9 213.9L48.0 212.0L49.4 210.7L50.7 211.2L51.0 213.8L49.6 214.2zM38.7 216.6L40.8 216.1L41.8 217.0L41.4 219.5L40.3 219.2L38.8 218.7zM35.1 218.7L34.8 220.5L33.7 221.6L32.4 221.1L31.8 220.1L32.9 218.2zM36.4 221.9L37.2 220.7L38.3 219.9L39.5 221.6L38.7 222.6L37.1 223.2zM48.4 217.5L49.7 216.3L51.2 216.9L51.4 218.4L50.3 219.5L48.7 219.0zM58.1 220.5L57.7 222.0L55.4 222.4L54.0 221.6L54.6 219.6L56.1 219.3zM68.4 215.3L68.9 217.5L68.6 218.5L66.7 218.7L64.7 218.3L64.9 217.5L64.7 215.6L66.7 215.2zM63.3 225.1L61.6 225.4L60.3 223.9L61.2 222.8L62.2 222.6L63.6 223.8zM52.3 221.9L51.2 221.6L51.6 220.3L52.1 219.7L53.1 220.4L52.9 221.6zM42.9 207.2L43.5 207.9L43.2 208.8L42.4 209.5L41.5 208.4L41.8 207.0zM35.9 206.2L36.2 206.8L35.3 207.8L33.8 207.3L34.2 206.1L34.6 205.6zM45.1 206.0L44.3 205.2L44.8 204.1L46.0 204.2L46.6 205.1L46.1 206.0zM37.3 216.7L36.6 217.6L35.5 216.9L35.6 216.1L36.2 215.5L37.5 215.9zM109.5 137.4L112.5 138.4L113.3 144.0L114.7 147.8L114.6 150.8L111.7 152.6L104.8 154.1L103.9 151.5L101.9 148.8L99.6 144.8L103.5 141.6L105.1 137.4zM114.1 151.8L114.8 152.4L115.6 155.3L114.7 157.4L113.4 157.6L111.9 157.7L110.8 155.0L111.9 153.7zM108.0 162.0L111.7 161.1L115.3 162.1L114.6 165.3L114.1 168.2L111.1 167.2L106.8 166.7L107.2 164.6zM96.9 169.8L97.0 171.2L95.5 172.0L94.4 171.4L94.2 170.6L95.7 169.4zM112.0 175.3L112.9 175.0L114.2 175.8L113.9 177.0L112.6 177.1L111.9 176.2zM101.8 177.1L103.5 176.7L104.7 178.0L103.9 179.2L102.7 179.7L101.5 178.8zM107.8 179.1L108.0 180.3L107.0 181.2L105.9 180.6L105.9 179.5L106.4 178.7zM89.4 179.2L90.7 178.2L92.0 179.0L92.5 180.2L91.3 181.6L89.8 181.0zM88.9 187.3L87.8 186.5L87.5 185.7L88.6 184.6L89.5 185.4L90.1 186.3zM94.4 163.9L93.2 164.1L92.9 162.4L93.3 160.9L95.2 161.6L95.7 162.8zM85.1 158.9L85.0 157.0L86.8 156.8L87.5 157.5L88.1 158.8L86.3 159.3zM82.8 152.8L81.9 151.4L83.2 150.7L85.4 150.5L86.1 151.1L85.9 152.4L84.8 153.5L83.2 153.5zM97.0 150.6L95.6 151.4L94.2 150.7L94.5 149.2L95.2 148.0L96.6 149.3zM75.2 175.2L76.5 174.6L77.5 176.0L76.8 177.6L75.2 177.0L74.5 175.8zM71.7 180.1L72.7 179.3L74.1 179.9L74.1 181.1L73.1 181.9L71.7 181.9zM76.0 186.7L77.6 186.3L78.4 186.5L78.8 188.3L77.3 188.6L76.2 187.7zM79.5 192.2L80.7 191.2L82.3 191.3L82.3 193.0L81.2 194.0L80.2 193.2zM75.0 196.6L75.3 198.3L73.8 199.1L72.3 198.9L72.3 197.0L73.7 196.7zM71.5 191.6L70.5 192.4L69.4 192.6L68.4 191.2L69.3 190.1L70.8 190.3zM66.1 167.6L67.8 167.0L68.4 168.8L67.5 170.1L66.2 169.9L65.8 168.7zM65.6 160.0L67.1 161.6L66.6 162.9L65.3 163.0L63.7 162.1L64.7 160.7zM74.8 159.3L73.6 160.3L72.6 159.4L72.1 158.0L73.6 157.4L74.8 158.1zM69.8 152.4L70.9 152.7L71.1 154.2L69.9 155.0L69.0 154.3L68.8 153.2zM80.8 198.9L81.8 199.8L81.3 201.3L80.0 201.3L79.1 200.4L79.7 199.6zM57.5 156.1L55.7 157.0L54.7 155.9L55.2 153.4L56.6 153.5L58.1 154.2zM62.1 148.6L62.2 150.1L61.8 150.8L60.0 151.4L59.8 149.7L60.5 148.2zM65.7 153.1L64.3 152.2L64.4 150.3L65.9 149.8L66.4 150.7L67.0 151.8zM74.2 150.1L73.2 150.9L71.6 150.5L72.0 149.3L72.7 148.4L74.1 148.6zM52.4 152.1L53.4 153.5L52.7 154.8L51.1 154.8L50.4 153.4L51.4 152.6zM56.8 147.6L56.9 146.8L57.2 146.1L58.7 145.6L60.2 146.1L60.6 146.7L60.2 147.9L59.0 147.9zM66.8 144.9L67.7 143.6L69.3 143.6L69.8 144.6L69.7 145.9L68.0 145.9zM54.4 167.1L56.1 167.8L56.5 169.3L55.3 170.0L53.6 169.5L53.2 168.3zM56.4 170.1L57.5 169.5L58.1 170.8L58.1 171.6L56.8 171.8L56.3 171.1zM53.4 163.7L52.2 162.7L52.8 161.9L53.5 161.3L54.6 162.3L54.5 163.2zM67.1 145.4L66.3 146.7L64.9 146.5L64.1 145.2L64.8 144.0L66.2 143.8zM75.3 145.2L75.9 144.6L77.6 145.5L77.0 146.9L75.5 147.2L74.6 146.8zM59.8 175.1L61.2 176.3L60.4 177.8L59.8 178.8L58.1 177.7L57.8 176.0zM65.3 176.5L64.9 177.5L63.3 177.1L62.4 176.0L63.7 174.7L64.8 174.8zM54.4 183.4L55.5 182.3L56.3 182.8L56.6 183.7L56.0 185.0L54.7 184.4zM61.1 184.0L61.9 184.6L61.7 185.7L60.4 186.0L59.8 185.6L60.1 184.1zM64.2 193.7L63.8 192.7L64.6 191.3L66.0 191.6L66.6 192.5L66.0 194.1zM60.9 200.6L60.1 199.4L61.0 198.5L62.2 198.0L63.0 199.1L62.2 200.4zM66.0 200.9L66.0 199.7L66.7 199.3L67.9 199.1L68.2 200.7L67.1 201.2zM67.0 212.7L66.4 211.8L67.1 210.9L68.4 211.4L68.7 212.5L68.2 213.4zM57.1 210.1L58.1 209.4L58.8 210.1L58.8 211.0L58.0 212.0L56.8 211.0zM68.7 190.1L68.9 188.6L69.8 188.3L71.6 189.2L70.9 190.2L69.7 191.2zM36.8 228.8L37.2 231.0L36.6 232.8L32.5 233.7L30.7 232.1L29.8 230.4L31.0 228.4L33.0 227.5zM42.9 226.8L44.6 228.1L43.5 230.5L41.9 229.9L38.9 230.3L38.0 228.8L38.0 226.9L40.6 225.9zM51.8 229.5L51.5 231.0L48.9 232.6L46.7 232.4L45.1 229.7L45.6 228.4L47.8 227.7L50.4 227.2zM56.5 237.1L52.9 236.4L52.1 235.4L50.7 233.6L53.5 231.1L55.8 231.2L57.4 233.3L57.3 235.6zM46.4 233.7L48.4 235.1L47.7 236.5L45.1 238.6L42.9 238.2L40.5 236.9L40.5 233.8L42.9 232.7zM36.9 236.0L37.8 236.9L39.4 237.8L38.2 239.4L36.2 239.8L34.0 239.3L33.9 237.6L35.2 236.9zM51.1 240.4L49.2 240.1L47.5 239.3L48.4 238.0L49.8 237.4L51.7 237.4L52.1 238.1L52.0 239.3zM32.0 234.8L31.5 235.8L30.1 236.1L29.0 235.7L29.0 234.3L30.9 234.2zM13.8 234.4L14.6 235.9L14.4 237.6L12.3 237.3L11.2 236.6L11.9 234.6zM57.1 243.8L56.2 244.8L54.7 244.5L53.7 243.3L54.9 242.0L56.0 242.4zM59.5 247.1L60.0 245.8L61.0 246.0L62.0 247.2L61.1 248.2L59.9 248.0zM31.7 241.8L32.8 241.0L34.0 242.2L33.6 243.3L32.4 243.8L31.1 243.4zM40.6 247.9L40.4 247.1L41.4 246.3L42.8 246.2L42.9 247.7L42.1 248.2zM31.3 210.5L32.0 209.2L33.6 209.4L34.2 210.5L33.6 211.5L32.1 211.9zM40.1 210.9L39.1 209.7L38.8 208.4L40.2 208.2L41.3 209.4L41.6 210.5zM46.8 211.8L45.0 211.5L44.3 209.5L46.3 208.8L47.4 209.5L48.3 211.1zM38.2 214.8L37.0 215.9L35.5 216.2L35.0 214.7L35.9 213.2L37.5 213.7zM35.8 220.2L33.7 219.8L33.6 218.2L34.9 216.8L36.0 217.6L36.1 218.9zM48.9 215.9L48.2 215.3L48.4 213.9L49.9 213.5L51.0 214.5L50.2 216.2zM53.6 218.0L54.1 219.6L54.0 220.9L52.4 220.7L51.3 219.0L52.3 218.1zM57.5 219.3L57.7 219.9L57.3 221.4L56.1 221.1L55.6 220.0L55.9 219.0zM69.1 216.4L68.2 218.2L66.9 218.2L64.9 218.2L64.8 217.0L64.9 215.4L66.5 213.8L67.5 214.6zM62.9 221.6L64.4 222.2L64.9 223.1L64.0 224.7L62.9 224.6L62.4 222.8zM43.3 221.8L42.9 220.9L43.8 219.9L44.8 219.9L45.3 220.7L44.5 221.8zM40.3 223.2L39.3 223.7L38.5 222.6L38.6 221.8L39.7 221.5L40.4 222.3zM31.1 197.5L31.7 196.2L33.4 196.6L34.3 197.7L33.4 198.6L32.1 199.2zM36.3 200.0L37.5 199.4L38.4 199.7L37.9 201.2L37.1 201.7L36.4 200.8zM44.7 199.9L44.3 198.5L45.2 198.1L46.1 198.1L46.9 199.3L46.0 199.9zM41.9 196.2L40.9 196.9L40.1 196.6L39.9 195.7L41.1 194.8L42.1 195.3z"/>
</g>
<use href="#ov"/>
</g>
<text x="29.0" y="15.0" font-size="12.0" text-anchor="start" textLength="66.0" lengthAdjust="spacingAndGlyphs" >(a)2000<tspan font-size="8.6" dx="1.2" dy="-1.1">—</tspan><tspan dx="1.2" dy="1.1">​</tspan>2010</text>
<text x="217.0" y="15.0" font-size="12.0" text-anchor="start" textLength="66.0" lengthAdjust="spacingAndGlyphs" >(b)2010<tspan font-size="8.6" dx="1.2" dy="-1.1">—</tspan><tspan dx="1.2" dy="1.1">​</tspan>2017</text>
<text x="406.0" y="15.0" font-size="12.0" text-anchor="start" textLength="65.0" lengthAdjust="spacingAndGlyphs" >(c)2000<tspan font-size="8.6" dx="1.2" dy="-1.1">—</tspan><tspan dx="1.2" dy="1.1">​</tspan>2017</text>
<path d="M81.3 242.5V249H112V242.5" fill="none" stroke="#111" stroke-width="1"/>
<text x="81.0" y="236.5" font-size="12.0" text-anchor="middle" >0</text>
<text x="104.5" y="236.5" font-size="12.0" text-anchor="start" textLength="34.0" lengthAdjust="spacingAndGlyphs" >100 km</text>
<text x="535.9" y="202.2" font-size="12.5" text-anchor="middle" style="font-family:'Liberation Sans','DejaVu Sans',sans-serif;fill:#111">N</text>
<polygon points="535.8,206 526.3,238 535.8,226.7" fill="#111"/>
<polygon points="535.8,206 545.1,238 535.8,226.7" fill="#fff" stroke="#111" stroke-width="0.8" stroke-linejoin="miter"/>
<circle cx="130.7" cy="263.4" r="0.8" fill="#111"/>
<text x="142.4" y="268.0" font-size="12.0" text-anchor="start" textLength="69.7" lengthAdjust="spacingAndGlyphs" >County Centre</text>
<rect x="215.4" y="260.6" width="16.6" height="7.6" fill="#fff" stroke="#c8c8c8" stroke-width="0.6"/>
<text x="235.6" y="268.0" font-size="12.0" text-anchor="start" textLength="84.7" lengthAdjust="spacingAndGlyphs" >County Boundary</text>
<rect x="324.9" y="260.8" width="16.2" height="7.4" fill="#fff" stroke="#222" stroke-width="1"/>
<text x="343.8" y="268.0" font-size="12.0" text-anchor="start" textLength="70.0" lengthAdjust="spacingAndGlyphs" >City Boundary</text>
<rect x="38.4" y="276.2" width="15.8" height="6.6" fill="#0550e4"/>
<text x="56.2" y="283.3" font-size="12.0" text-anchor="start" textLength="26.0" lengthAdjust="spacingAndGlyphs" >≤-100</text>
<rect x="85.7" y="276.2" width="15.8" height="6.6" fill="#72a9fa"/>
<text x="105.0" y="283.3" font-size="12.0" text-anchor="start" textLength="44.6" lengthAdjust="spacingAndGlyphs" >-100<tspan font-size="8.6" dx="1.2" dy="-1.1">—</tspan><tspan dx="1.2" dy="1.1">​</tspan>-50</text>
<rect x="153.5" y="276.2" width="15.8" height="6.6" fill="#bfe4fe"/>
<text x="172.7" y="283.3" font-size="12.0" text-anchor="start" textLength="30.5" lengthAdjust="spacingAndGlyphs" >-50<tspan font-size="8.6" dx="1.2" dy="-1.1">—</tspan><tspan dx="1.2" dy="1.1">​</tspan>0</text>
<rect x="206.5" y="276.2" width="15.8" height="6.6" fill="#fbd29c"/>
<text x="225.6" y="283.3" font-size="12.0" text-anchor="start" textLength="26.7" lengthAdjust="spacingAndGlyphs" >0<tspan font-size="8.6" dx="1.2" dy="-1.1">—</tspan><tspan dx="1.2" dy="1.1">​</tspan>50</text>
<rect x="255.8" y="276.2" width="15.8" height="6.6" fill="#ee8256"/>
<text x="275.0" y="283.3" font-size="12.0" text-anchor="start" textLength="37.7" lengthAdjust="spacingAndGlyphs" >50<tspan font-size="8.6" dx="1.2" dy="-1.1">—</tspan><tspan dx="1.2" dy="1.1">​</tspan>100</text>
<rect x="316.5" y="276.2" width="15.8" height="6.6" fill="#d62f27"/>
<text x="336.4" y="283.3" font-size="12.0" text-anchor="start" textLength="25.4" lengthAdjust="spacingAndGlyphs" >&gt;100</text>
<text x="408.2" y="283.3" font-size="12.0" text-anchor="start" textLength="71.2" lengthAdjust="spacingAndGlyphs" >people per km²</text>
<g stroke="#4a4a4a" stroke-width="1" fill="none">
<line x1="21" y1="290.8" x2="122.4" y2="290.8"/>
<line x1="62.6" y1="321.9" x2="122.4" y2="321.9"/>
<line x1="21" y1="353" x2="122.4" y2="353"/>
<line x1="62.6" y1="384.1" x2="122.4" y2="384.1"/>
<line x1="21" y1="415.2" x2="122.4" y2="415.2"/>
<line x1="62.6" y1="446.4" x2="122.4" y2="446.4"/>
<line x1="21" y1="477.8" x2="122.4" y2="477.8"/>
<line x1="122.4" y1="290.8" x2="122.4" y2="477.8"/>
<line x1="21.4" y1="353" x2="21.4" y2="415.2"/>
</g>
<g stroke="#8a8a8a" stroke-width="0.9" fill="none">
<line x1="122.4" y1="477.8" x2="526.4" y2="477.8"/>
<line x1="203.1" y1="473.8" x2="203.1" y2="477.8"/>
<line x1="283.8" y1="473.8" x2="283.8" y2="477.8"/>
<line x1="364.6" y1="473.8" x2="364.6" y2="477.8"/>
<line x1="445.3" y1="473.8" x2="445.3" y2="477.8"/>
<line x1="526.0" y1="473.8" x2="526.0" y2="477.8"/>
</g>
<rect x="122.9" y="300.2" width="18.3" height="12.2" fill="#0550e4"/>
<rect x="141.0" y="300.2" width="26.2" height="12.2" fill="#72a9fa"/>
<rect x="167.0" y="300.2" width="131.4" height="12.2" fill="#bfe4fe"/>
<rect x="298.2" y="300.2" width="72.0" height="12.2" fill="#fbd29c"/>
<rect x="370.0" y="300.2" width="30.2" height="12.2" fill="#ee8256"/>
<rect x="400.0" y="300.2" width="126.0" height="12.2" fill="#d62f27"/>
<text x="64.0" y="310.4" font-size="12.0" text-anchor="start" textLength="47.0" lengthAdjust="spacingAndGlyphs" >2000-2010</text>
<rect x="122.9" y="331.3" width="47.5" height="12.2" fill="#0550e4"/>
<rect x="170.2" y="331.3" width="23.8" height="12.2" fill="#72a9fa"/>
<rect x="193.8" y="331.3" width="95.4" height="12.2" fill="#bfe4fe"/>
<rect x="289.0" y="331.3" width="110.0" height="12.2" fill="#fbd29c"/>
<rect x="398.8" y="331.3" width="38.6" height="12.2" fill="#ee8256"/>
<rect x="437.2" y="331.3" width="88.8" height="12.2" fill="#d62f27"/>
<text x="64.0" y="341.4" font-size="12.0" text-anchor="start" textLength="47.0" lengthAdjust="spacingAndGlyphs" >2010-2017</text>
<rect x="122.9" y="362.4" width="6.3" height="12.2" fill="#0550e4"/>
<rect x="129.0" y="362.4" width="15.0" height="12.2" fill="#72a9fa"/>
<rect x="143.8" y="362.4" width="169.4" height="12.2" fill="#bfe4fe"/>
<rect x="313.0" y="362.4" width="149.2" height="12.2" fill="#fbd29c"/>
<rect x="462.0" y="362.4" width="35.4" height="12.2" fill="#ee8256"/>
<rect x="497.2" y="362.4" width="28.8" height="12.2" fill="#d62f27"/>
<text x="64.0" y="372.6" font-size="12.0" text-anchor="start" textLength="47.0" lengthAdjust="spacingAndGlyphs" >2000-2010</text>
<rect x="122.9" y="393.5" width="22.3" height="12.2" fill="#0550e4"/>
<rect x="145.0" y="393.5" width="35.0" height="12.2" fill="#72a9fa"/>
<rect x="179.8" y="393.5" width="158.4" height="12.2" fill="#bfe4fe"/>
<rect x="338.0" y="393.5" width="128.2" height="12.2" fill="#fbd29c"/>
<rect x="466.0" y="393.5" width="33.0" height="12.2" fill="#ee8256"/>
<rect x="498.8" y="393.5" width="27.2" height="12.2" fill="#d62f27"/>
<text x="64.0" y="403.6" font-size="12.0" text-anchor="start" textLength="47.0" lengthAdjust="spacingAndGlyphs" >2010-2017</text>
<rect x="122.9" y="424.7" width="2.3" height="12.2" fill="#0550e4"/>
<rect x="125.0" y="424.7" width="12.2" height="12.2" fill="#72a9fa"/>
<rect x="137.0" y="424.7" width="179.0" height="12.2" fill="#bfe4fe"/>
<rect x="315.8" y="424.7" width="152.4" height="12.2" fill="#fbd29c"/>
<rect x="468.0" y="424.7" width="30.2" height="12.2" fill="#ee8256"/>
<rect x="498.0" y="424.7" width="28.0" height="12.2" fill="#d62f27"/>
<text x="64.0" y="434.8" font-size="12.0" text-anchor="start" textLength="47.0" lengthAdjust="spacingAndGlyphs" >2000-2010</text>
<rect x="122.9" y="456.0" width="18.3" height="12.2" fill="#0550e4"/>
<rect x="141.0" y="456.0" width="34.2" height="12.2" fill="#72a9fa"/>
<rect x="175.0" y="456.0" width="141.0" height="12.2" fill="#bfe4fe"/>
<rect x="315.8" y="456.0" width="146.4" height="12.2" fill="#fbd29c"/>
<rect x="462.0" y="456.0" width="32.2" height="12.2" fill="#ee8256"/>
<rect x="494.0" y="456.0" width="32.0" height="12.2" fill="#d62f27"/>
<text x="64.0" y="466.1" font-size="12.0" text-anchor="start" textLength="47.0" lengthAdjust="spacingAndGlyphs" >2010-2017</text>
<text transform="translate(35.0,322.0) rotate(-90)" font-size="12" text-anchor="middle" textLength="48.0" lengthAdjust="spacingAndGlyphs">municipal</text>
<text transform="translate(48.8,322.0) rotate(-90)" font-size="12" text-anchor="middle" textLength="32.0" lengthAdjust="spacingAndGlyphs">district</text>
<text transform="translate(35.0,384.3) rotate(-90)" font-size="12" text-anchor="middle" textLength="59.0" lengthAdjust="spacingAndGlyphs">county-level</text>
<text transform="translate(48.8,383.5) rotate(-90)" font-size="12" text-anchor="middle" textLength="17.0" lengthAdjust="spacingAndGlyphs">city</text>
<text transform="translate(48.8,446.4) rotate(-90)" font-size="12" text-anchor="middle" textLength="32.0" lengthAdjust="spacingAndGlyphs">county</text>
<text x="122.4" y="497.8" font-size="10.6" text-anchor="middle" >0%</text>
<text x="203.1" y="497.8" font-size="10.6" text-anchor="middle" >20%</text>
<text x="283.8" y="497.8" font-size="10.6" text-anchor="middle" >40%</text>
<text x="364.6" y="497.8" font-size="10.6" text-anchor="middle" >60%</text>
<text x="445.3" y="497.8" font-size="10.6" text-anchor="middle" >80%</text>
<text x="526.0" y="497.8" font-size="10.6" text-anchor="middle" >100%</text>
<text x="196.0" y="510.0" font-size="12.0" text-anchor="start" textLength="185.2" lengthAdjust="spacingAndGlyphs" >Proportion of population change types</text>
<text x="31.0" y="526.0" font-size="12.0" text-anchor="start" textLength="73.3" lengthAdjust="spacingAndGlyphs" >people per km²</text>
<rect x="197.2" y="518.6" width="5.4" height="5.4" fill="#0550e4"/>
<text x="204.8" y="526.0" font-size="12.0" text-anchor="start" textLength="29.0" lengthAdjust="spacingAndGlyphs" >≤-100</text>
<rect x="244.0" y="518.6" width="5.4" height="5.4" fill="#72a9fa"/>
<text x="254.0" y="526.0" font-size="12.0" text-anchor="start" textLength="49.0" lengthAdjust="spacingAndGlyphs" >-100<tspan font-size="8.6" dx="1.2" dy="-1.1">—</tspan><tspan dx="1.2" dy="1.1">​</tspan>-50</text>
<rect x="312.8" y="518.6" width="5.4" height="5.4" fill="#bfe4fe"/>
<text x="322.0" y="526.0" font-size="12.0" text-anchor="start" textLength="32.0" lengthAdjust="spacingAndGlyphs" >-50<tspan font-size="8.6" dx="1.2" dy="-1.1">—</tspan><tspan dx="1.2" dy="1.1">​</tspan>0</text>
<rect x="366.0" y="518.6" width="5.4" height="5.4" fill="#fbd29c"/>
<text x="374.8" y="526.0" font-size="12.0" text-anchor="start" textLength="29.0" lengthAdjust="spacingAndGlyphs" >0<tspan font-size="8.6" dx="1.2" dy="-1.1">—</tspan><tspan dx="1.2" dy="1.1">​</tspan>50</text>
<rect x="416.0" y="518.6" width="5.4" height="5.4" fill="#ee8256"/>
<text x="425.2" y="526.0" font-size="12.0" text-anchor="start" textLength="40.8" lengthAdjust="spacingAndGlyphs" >50<tspan font-size="8.6" dx="1.2" dy="-1.1">—</tspan><tspan dx="1.2" dy="1.1">​</tspan>100</text>
<rect x="476.0" y="518.6" width="5.4" height="5.4" fill="#d62f27"/>
<text x="484.0" y="526.0" font-size="12.0" text-anchor="start" textLength="22.0" lengthAdjust="spacingAndGlyphs" >&gt;100</text>
</svg></body></html>
